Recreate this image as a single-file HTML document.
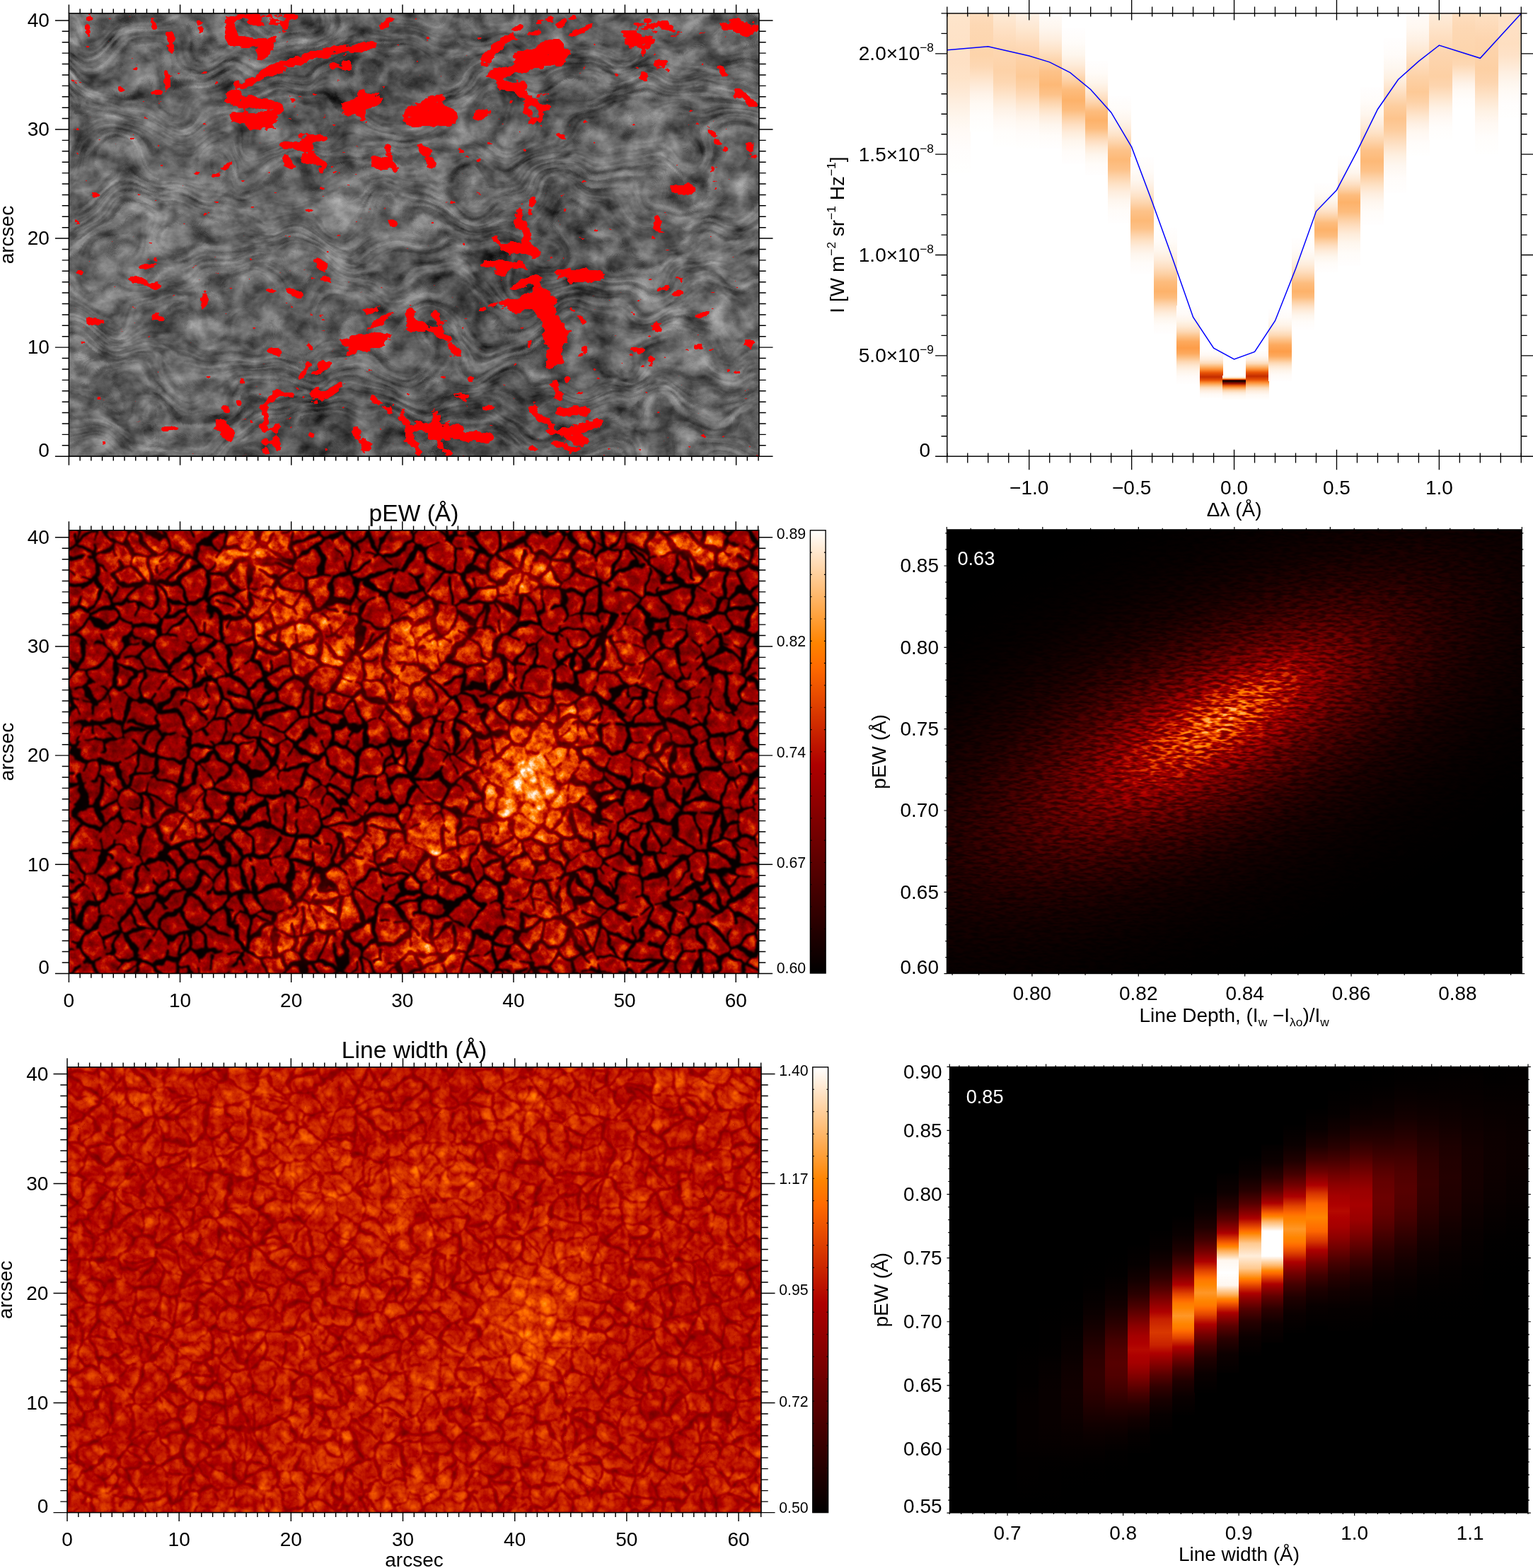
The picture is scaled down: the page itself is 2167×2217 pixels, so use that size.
<!DOCTYPE html>
<html lang="en"><head><meta charset="utf-8"><title>Figure</title>
<style>
html,body{margin:0;padding:0;background:#fff;}
body{width:2167px;height:2217px;overflow:hidden;}
svg{display:block;}
svg text{font-family:"Liberation Sans",Helvetica,Arial,sans-serif;}
</style></head><body>
<svg width="2167" height="2217" viewBox="0 0 2167 2217">
<defs>
<linearGradient id="redtemp" x1="0" y1="0" x2="0" y2="1"><stop offset="0.0000" stop-color="#ffffff"/><stop offset="0.2549" stop-color="#ff8400"/><stop offset="0.3098" stop-color="#ff6a00"/><stop offset="0.5294" stop-color="#ae0000"/><stop offset="1.0000" stop-color="#000000"/></linearGradient>
<clipPath id="c1"><rect x="97.4" y="18.9" width="975.6" height="626.3"/></clipPath><filter id="f1" filterUnits="userSpaceOnUse" x="-22.6" y="-101.1" width="1215.6" height="866.3" color-interpolation-filters="sRGB"><feTurbulence type="fractalNoise" baseFrequency="0.018 0.07" numOctaves="3" seed="9" result="st"/><feTurbulence type="fractalNoise" baseFrequency="0.009" numOctaves="2" seed="31" result="dn"/><feDisplacementMap in="st" in2="dn" scale="190" xChannelSelector="R" yChannelSelector="G" result="sw"/><feColorMatrix in="sw" type="matrix" values="1 0 0 0 0  1 0 0 0 0  1 0 0 0 0  0 0 0 0 1" result="g"/><feTurbulence type="fractalNoise" baseFrequency="0.03 0.04" numOctaves="4" seed="4" result="tn"/><feColorMatrix in="tn" type="matrix" values="1 0 0 0 0  1 0 0 0 0  1 0 0 0 0  0 0 0 0 1" result="g2"/><feComposite in="SourceGraphic" in2="g" operator="arithmetic" k1="0" k2="1" k3="0.4" k4="-0.2" result="a"/><feComposite in="a" in2="g2" operator="arithmetic" k1="0" k2="1" k3="0.5" k4="-0.25"/></filter><filter id="fr" filterUnits="userSpaceOnUse" x="97.4" y="18.9" width="975.6" height="626.3" color-interpolation-filters="sRGB"><feGaussianBlur in="SourceAlpha" stdDeviation="3.2" result="b"/><feTurbulence type="fractalNoise" baseFrequency="0.06 0.1" numOctaves="4" seed="12" result="n"/><feColorMatrix in="n" type="matrix" values="0 0 0 0 0  0 0 0 0 0  0 0 0 0 0  1 0 0 0 0" result="na"/><feComposite in="b" in2="na" operator="arithmetic" k1="0" k2="1" k3="1.5" k4="-0.75" result="c"/><feComponentTransfer in="c" result="t"><feFuncA type="linear" slope="24" intercept="-11.5"/></feComponentTransfer><feFlood flood-color="#ff0000" result="fl"/><feComposite in="fl" in2="t" operator="in"/></filter>
<radialGradient id="bw" cx="0" cy="0" r="1" gradientUnits="userSpaceOnUse"><stop offset="0" stop-color="#fff" stop-opacity="1"/><stop offset="0.12" stop-color="#fff" stop-opacity="0.94"/><stop offset="0.25" stop-color="#fff" stop-opacity="0.8"/><stop offset="0.38" stop-color="#fff" stop-opacity="0.61"/><stop offset="0.5" stop-color="#fff" stop-opacity="0.41"/><stop offset="0.62" stop-color="#fff" stop-opacity="0.25"/><stop offset="0.75" stop-color="#fff" stop-opacity="0.12"/><stop offset="0.88" stop-color="#fff" stop-opacity="0.05"/><stop offset="1" stop-color="#fff" stop-opacity="0"/></radialGradient><radialGradient id="bk" cx="0" cy="0" r="1" gradientUnits="userSpaceOnUse"><stop offset="0" stop-color="#000" stop-opacity="1"/><stop offset="0.12" stop-color="#000" stop-opacity="0.94"/><stop offset="0.25" stop-color="#000" stop-opacity="0.8"/><stop offset="0.38" stop-color="#000" stop-opacity="0.61"/><stop offset="0.5" stop-color="#000" stop-opacity="0.41"/><stop offset="0.62" stop-color="#000" stop-opacity="0.25"/><stop offset="0.75" stop-color="#000" stop-opacity="0.12"/><stop offset="0.88" stop-color="#000" stop-opacity="0.05"/><stop offset="1" stop-color="#000" stop-opacity="0"/></radialGradient><path id="l0" d="M630 420l13 9M643 429l3 7M563 422l13-2M576 420l3 14M578 417l-2 3M563 422l-9-6M603 416l12-1M579 412l15-9M594 403l6 6M629 418l-14-3M-17 -8l5 0M63 164l6 0M288 213l1 0M293 198l-4 6M289 213l16 0M206 272l7-4M201 244l-3 0M224 402l-22-5M202 397l0-14M87 429l13-19M103 410l6 28M537 434l-11-18M254 368l-13-5M222 386l6-18M252 427l-12 9M323 377l14-9M317 393l-19-24M311 398l-23-15M323 389l-6 4M337 421l4-23M341 398l0-1M355 429l-5-26M340 396l1 1M526 416l1-9M579 412l-12-16M554 409l13-13M-3 64l14-18M14 61l0-17M103 36l6 1M109 37l2-19M111 18l-12-7M44 95l-8-11M55 72l7 25M98 10l-10 5M113 41l-4-4M113 41l-13 15M100 56l-9-2M91 54l-8-11M-5 -16l15-11M-7 -14l2-2M26 94l5 19M31 113l0 1M54 170l-11 22M51 136l-8 8M294 62l10-21M214 362l-1-12M189 358l-3-6M226 282l-2 5M242 281l5 5M226 306l-2-19M180 297l12 1M180 297l-12 4M190 305l2-7M168 301l-4 8M175 276l-9 8M166 284l2 17M191 319l-11-7M144 277l0 25M262 258l-6-5M262 258l22-14M284 244l0-2M244 273l-6-15M218 262l0-29M218 233l6 1M245 238l-11 6M214 266l4-4M274 205l-7 1M267 228l0-22M175 271l10-8M185 263l-14-18M165 260l0-11M144 277l-1-1M143 276l22-16M187 262l-2 1M167 242l6-6M198 244l-25-8M125 426l14 1M200 380l-36 1M201 381l-24 15M177 396l-7 0M170 396l-6-9M199 373l-35 6M125 426l-5-12M139 390l4 4M143 394l-3 11M140 405l-7 0M133 405l-9-7M164 387l-21 7M240 312l3 1M247 286l10 7M225 337l1 1M251 326l1-1M321 271l-12-11M309 260l-2-5M307 255l10-17M329 240l-2-3M324 273l-3-2M307 227l10 11M307 227l-23 15M287 248l2 1M453 207l-10 5M418 182l19 0M399 216l-11-18M467 123l5-8M476 143l-5-1M472 115l2-2M429 152l5 3M434 159l-15 13M422 134l3 2M441 178l-7-19M408 155l-5-9M631 416l20-12M258 348l0 15M264 361l18-15M285 345l-3 1M293 370l-29-9M306 337l18 6M293 324l-3-1M314 363l3-9M251 338l-19 5M264 325l2 12M258 348l-5-6M229 340l3 3M226 338l-13 12M281 391l-10 12M280 387l1 1M233 396l14 10M369 354l-9-3M360 351l-4 18M364 369l-5 1M379 371l-15-2M379 371l3 13M382 384l-12 4M373 336l-19 6M364 322l-15 10M373 336l2-18M366 317l-6-9M404 433l21-6M425 427l6 5M411 412l-11 10M414 400l-3 12M427 406l4 26M440 431l0-24M491 303l-3 3M492 333l-10-25M482 308l1-1M500 264l1 0M517 284l7 6M491 127l10-7M567 395l13-10M553 383l22-15M580 385l2-12M567 396l0-1M594 398l-7-9M587 389l-7-4M99 -19l7 1M76 45l-5 10M54 55l4 9M94 -7l-13-2M88 15l-17-5M92 -33l7 14M-12 -8l2 8M-19 17l8-15M-19 17l-9-3M110 281l4-16M114 265l16 3M115 285l0 5M115 290l-10 8M105 298l-14-16M105 261l-26-17M79 243l18-6M85 220l-5-20M80 200l-20 4M80 182l3 15M83 197l-3 3M59 203l1 1M137 255l0 5M143 276l-3-2M124 294l-9-4M61 109l8 26M-35 116l11 14M77 230l0-2M77 228l-26-4M43 192l-15 0M29 208l13 7M244 49l1 22M245 71l-2 0M243 71l-21-5M283 28l20 5M183 43l-24-12M159 31l2 16M165 51l-4-4M155 24l4 7M155 24l19-7M188 38l-3-18M202 36l0-14M351 230l-6-24M396 143l-7 2M416 122l6 12M403 146l-7-3M308 89l14 21M201 164l-8 0M195 187l21 3M192 165l1-1M165 323l-6 7M162 348l-3-15M159 333l0-3M135 325l2-17M124 294l6 12M148 325l10 5M136 307l1 1M135 325l-5 8M143 349l-15-7M129 340l-1 2M125 372l0-1M125 371l0-26M109 339l16 6M118 375l-19-20M225 307l-10 18M203 297l2 3M247 232l-10-10M237 222l-1-13M267 228l-10-1M267 206l-7-5M259 183l1 18M201 210l17 12M182 190l6 17M220 197l-19 13M227 201l-7-4M246 -23l-8 0M246 -23l11 7M265 -29l-7 13M257 -16l1 0M180 -4l2-2M190 19l7-18M197 1l-4-5M264 19l15 12M295 8l0-4M442 124l-8 8M451 129l0 20M461 150l-10-1M461 150l10-8M431 116l-2-10M442 124l-1-5M413 107l-18-12M429 106l-12-6M418 78l2 5M420 83l-2 3M386 81l2-17M386 81l9 8M608 -20l15-4M603 -43l0 23M626 -35l-3 11M530 13l-28 2M502 15l-1-2M536 90l-9 19M536 90l-22-2M515 107l-3-6M519 109l8 0M510 94l4-6M552 106l-1-1M551 105l-15-15M495 110l17-9M520 135l-1-26M512 34l12 14M524 48l13-12M328 339l-3-11M284 288l-1-1M316 287l8-9M259 293l5 31M257 293l2 0M268 288l-6 4M291 306l-3 11M291 306l-7-18M288 317l-25-23M441 217l-6 9M435 226l5 4M440 230l16 4M443 212l-2 5M423 227l12-1M390 274l-11-14M405 254l-19-4M455 265l10-13M455 265l-20 1M356 270l0-9M375 265l-19-4M389 287l1-13M402 233l19-9M351 230l15-14M525 63l-11 8M602 367l8 9M631 416l-7-24M613 400l7-9M620 391l4 1M593 367l-11 6M610 376l1 2M523 402l0-16M523 386l-22 5M276 434l-10-17M254 417l-2 10M194 422l2 8M170 399l10 21M196 420l-2 2M366 421l17-2M383 419l-1-10M370 388l-6 14M386 387l3 6M456 387l-5 14M456 387l-6-9M428 355l-3 2M430 374l-6-14M404 369l3-3M407 366l7-1M385 358l19 11M404 345l3 21M386 387l18-17M424 360l-10 5M430 383l-8 5M461 346l-14 6M384 342l18-16M360 307l0 1M382 292l8 20M360 307l-13-8M358 280l-14 7M347 299l-3-12M481 338l-1 19M441 285l15 9M456 294l-1-13M521 259l-10 8M537 272l4-4M573 284l-3 7M556 252l-6 11M582 273l-2 2M551 245l5 7M521 259l-6-10M505 251l10-2M462 194l-5 11M519 310l4 7M503 386l19-8M503 386l-4 3M540 404l7-20M522 378l-1-2M643 11l-4-16M639 -5l-3-1M81 82l10 3M118 89l-10-15M101 92l-1-7M101 92l10 9M116 101l-5 0M100 85l6-9M120 104l18-5M87 109l14-17M100 56l10 16M110 72l-2 2M163 75l-11 27M152 102l5 3M139 116l1-17M219 101l-17 3M202 104l-2-15M173 59l11-6M167 75l23 8M202 65l2 2M204 67l-11 14M190 83l3-2M183 43l1 10M179 108l-11 1M168 109l-1-1M208 67l14 30M200 89l-7-8M157 1l-2-7M180 -4l-11-1M-6 113l-7-12M4 77l5 3M-6 114l0-1M-6 114l5 1M30 68l-16-7M-3 71l-12 10M-20 94l5-13M118 17l10 3M113 41l5 1M150 29l4-5M64 12l-2 1M62 15l0-2M66 43l-12-7M62 15l-8 21M54 55l-8-9M46 46l2-7M78 303l13-21M119 313l-4 0M-13 430l-19-10M149 214l-11-3M153 239l-11-8M133 206l-28 1M105 207l0 10M97 237l10-18M77 137l16 16M112 122l15 3M-11 148l-16-8M-9 159l-14 4M-4 141l-6-20M13 136l14-4M31 177l-12-20M31 138l-11 19M39 235l-14-4M23 249l2 1M21 231l4 0M12 263l13-13M-35 301l19-9M-16 292l-13-20M-5 264l3-8M-24 240l-6 2M-9 159l4 3M9 145l3 12M13 171l-1-14M230 91l-3-11M230 91l7-13M222 66l-3 0M256 80l3 1M253 75l11-28M245 99l-3 0M230 95l12 4M256 109l-3-2M289 66l5-4M305 39l0 2M279 31l-6 17M289 66l11 7M312 16l-8 3M301 -7l16 6M299 -13l12-14M318 1l-6 15M295 4l6-11M331 -11l14-21M286 -22l4 4M273 -7l4 2M258 -16l8 2M230 95l-8 2M211 17l7 19M408 155l-19 14M389 145l-1 1M389 169l-1-23M343 172l-11 12M353 115l-1 0M368 132l-18-2M331 150l23-4M334 133l-1-19M329 233l-2 4M305 213l2 1M343 172l-12-20M331 152l-4 2M322 110l5-1M304 128l-1-1M334 73l-18-3M308 89l7-8M338 91l11 6M345 62l11 11M345 62l-11 11M356 76l-18 15M359 94l4-10M376 87l-13-3M349 97l10-3M366 114l0-3M386 81l-10 6M373 61l-17 12M390 106l-14-9M377 119l-7-1M150 131l-13 5M134 201l10-10M134 201l-17-8M155 208l-4-17M181 190l-18-6M181 190l-12 18M163 184l-3 3M168 213l1-5M151 191l9-4M233 161l9-3M230 169l5 4M235 173l16-6M242 158l5 3M260 182l-2-10M199 108l10 21M218 128l-9 1M208 130l1-1M192 165l-14-4M144 163l12 1M144 163l-11 7M163 169l-7-5M85 329l21 4M82 312l-3 6M79 318l2 8M109 339l-1-1M140 369l9-15M140 369l24 8M164 377l1-4M165 373l-3-20M125 371l15-2M108 380l-18-23M399 -27l-20 15M513 -32l6 20M530 -12l-3 2M550 0l-20-12M555 -7l-12-16M536 12l-9-22M546 11l4-11M536 12l-2 2M420 83l7 0M427 83l15-25M597 -12l13 17M622 28l-7-15M622 28l6-3M615 13l-13 15M565 84l-20-13M567 86l-2-2M574 90l3-9M574 90l-7-4M577 81l-11-11M577 81l11-20M585 60l-20 6M562 43l-14-9M539 65l4-9M398 286l2-1M382 244l16-15M435 266l-2 11M416 282l3 1M455 265l3 13M349 253l6-15M365 254l11-15M375 238l1 1M343 254l6-1M351 231l4 7M366 216l12 5M378 221l-3 17M395 220l-17 1M364 214l5-13M388 198l-1 0M387 198l-7 13M423 48l-15-8M427 30l-12-8M427 46l-4 2M415 22l-9 6M406 28l-3 8M450 89l24 5M605 316l-7 1M589 303l-2 6M603 286l6 15M603 286l-13 12M590 298l-17-14M595 334l-4-4M595 334l-2 12M581 331l1 16M614 337l-19-3M614 337l-9-21M609 351l-16-5M571 325l10 6M507 373l-15-5M480 357l1 3M477 363l4-3M463 425l-4-18M221 409l6 7M221 409l-5 3M216 412l0 13M216 425l5 16M224 402l-3 7M402 318l-3-3M402 318l21 2M314 302l17 14M337 311l-1 0M325 328l6-12M481 308l-9 1M457 296l-1 3M431 310l7-1M476 278l6 29M466 281l0 9M482 307l-16-17M458 278l8 3M483 307l-1 0M577 218l-6 11M588 273l11-31M574 213l9-21M520 135l1 1M560 113l-13 16M603 140l-14-9M583 150l2 4M583 150l6-19M477 143l6 12M500 264l-17-14M500 235l-17 15M471 253l4-2M483 250l-8 1M466 226l1 1M470 212l7 0M462 194l17-4M479 190l2 1M477 212l12-9M477 212l3 16M478 182l-10-14M490 170l-12-7M478 163l-9 4M469 167l-1 1M481 191l21-15M502 176l1-4M452 178l16-10M483 155l-5 8M525 290l12 7M523 317l6-2M550 286l-4 14M553 307l-7-7M545 369l4-9M551 356l12-3M536 362l2 6M530 347l21 9M617 44l3 2M620 46l13-3M633 43l9-5M110 72l7-3M135 -10l-10-2M123 -30l-1 13M161 -20l0-1M-14 58l-1 0M78 -15l-15-3M50 -26l12 4M62 -22l7-15M29 -16l21-10M31 54l-12-13M48 39l-1 0M47 39l-16-6M-11 30l-5-3M9 27l0-2M76 390l-4-5M76 362l2-1M8 281l0 3M8 284l-17 13M57 320l22-2M16 303l-8 6M34 315l-15 12M34 315l12 12M40 339l-21-9M-23 317l18-5M50 233l9 17M41 262l6-3M143 152l1 11M133 141l-5 1M127 125l-7 14M128 142l-8-3M111 174l3 19M95 171l6 27M95 171l1-1M105 207l-1-7M0 253l2-9M2 207l0-2M2 205l15-12M-25 185l14 1M353 -6l-1 1M318 1l17 11M335 12l1 6M328 53l0-21M328 53l15 2M327 30l1 2M345 62l-2-7M197 1l16 7M211 17l4-7M213 -23l-3-1M264 47l-12-8M264 19l-12 20M357 147l5 11M386 146l-18-7M310 181l-20-7M310 181l-6 10M283 189l-3-7M325 209l-15-28M293 198l1-5M282 190l1-1M289 163l-14-4M266 141l0 1M266 132l1 5M258 121l8 11M242 99l-2 7M240 106l1 16M201 164l4-2M179 137l-19-5M176 155l-17-10M158 133l-1 6M157 139l2 6M150 131l8 2M143 152l14-13M513 -32l-20 16M416 9l1-5M400 24l-5-9M400 24l-20 6M385 9l-5 12M379 33l12 11M379 33l1-3M384 6l1 3M446 54l5-9M451 45l-2-10M481 40l-1 6M480 46l-24-3M564 -9l2 20M564 -9l3-1M567 -10l13 3M566 11l14-18M555 -7l9-2M593 31l-15 14M593 20l-9-5M617 44l-16 11M639 -5l7-5M646 -10l14 4M357 181l14-18M357 181l10 8M451 88l4-25M639 364l2-20M630 366l3 2M639 340l2 4M484 392l-11-10M468 423l21 5M481 408l14 5M495 421l1-3M496 418l-1-5M510 434l-15-13M499 407l-4 6M653 221l-10 10M635 217l13-5M591 176l5 1M601 223l7-3M608 220l7-12M608 220l14 9M635 217l-14-14M615 208l6-5M579 148l-3-35M569 114l4-2M573 112l2 1M576 113l-1 0M583 150l-4-2M590 123l-14-10M576 93l13-4M600 101l-25 12M589 89l8 6M584 157l1-3M602 151l5 2M606 164l9 16M547 129l-1 13M503 144l21 17M528 142l-4 19M565 143l-14 4M546 142l5 5M573 164l-17-7M573 164l11-7M556 157l-5-7M558 330l-19 6M522 322l13 8M563 353l-5-23M530 347l9-11M642 38l14 18M612 273l15-15M627 258l-5-12M605 277l19 17M637 279l0 10M637 289l-13 5M639 340l9-4M645 312l5-5M617 76l-21-11M589 89l6-15M638 73l-12-11M626 62l-9 14M594 62l2 3M627 58l-1 4M623 177l-3 4M620 181l-5-1M141 60l-2 2M148 73l-1 0M146 46l-5 14M150 29l-4 17M163 75l-5-1M139 99l9-26M161 -21l9-7M149 -23l-3-6M22 10l4-17M18 13l4-3M62 13l-13 1M65 438l2-14M81 425l2-16M62 417l0-1M62 416l-3-10M76 390l-17 15M55 385l-4 10M57 403l-29 17M28 420l-1-11M-11 430l-4-16M-35 391l25 0M75 248l-8 3M91 278l-1 0M56 314l-4-9M73 300l-7 5M45 293l-4-1M41 292l1-4M73 300l-11-10M47 259l12 13M41 262l1 26M110 124l-17-8M93 116l-2-1M104 147l0-1M111 101l-18 15M-19 230l8 0M-20 211l1 2M-34 219l12 2M-6 174l19-2M13 172l-6 10M-5 162l-1 12M13 171l0 1M-11 186l4-3M356 19l9 19M336 18l6 3M359 16l-3 3M379 33l-14 5M215 10l3 0M238 -23l-5 16M252 39l-9-33M301 157l-6-2M303 132l-10 15M314 171l-13-14M266 142l27 5M227 133l7-1M264 142l-13-1M493 -16l-16-13M449 35l15-16M474 84l17-9M489 59l-2-1M455 63l15 6M451 88l19-13M474 94l0-10M503 46l-14 13M481 407l2-13M469 402l1-6M481 408l0-1M635 204l-13-3M648 212l-13-8M515 170l10-4M551 150l-17 21M500 207l4 10M558 226l-15 7M530 244l10-13M505 227l34 3M582 189l-16-3M566 186l-6 20M561 208l-1-2M641 240l18 4M641 240l-1 0M640 240l0 20M627 258l13 2M643 273l1-7M643 273l19 8M637 279l6-6M642 300l-17 16M642 299l-26 8M616 308l0-1M613 308l3 0M642 138l-6-5M642 138l10 1M-15 58l-22-14M33 426l-5-4M28 420l0 2M5 398l1 1M40 339l1 3M232 36l5 1M476 -1l-8 3M470 -18l-16 16M419 3l3-28M426 3l17-13M422 -25l16 5M438 -20l5 10M539 230l0-8M521 212l18 10M544 208l16-2M538 179l-19 12M543 181l1 27M543 181l-4-2M542 210l-13-8M534 171l4 8M521 212l6-10M556 161l8 18M564 179l-1 4M-20 371l13 7M-6 389l0-3M28 352l-9 12M17 363l2 1M17 363l-6-8M-32 348l10-10M-30 351l23 2M-4 332l3 3M-23 317l1 21M11 355l-16-3M69 362l-7-6M62 356l-18 2M25 382l1-3M19 364l7 9M44 358l-2 11"/><path id="l1" d="M630 420l-12 17M643 429l16-15M563 422l-2 13M578 417l22 7M601 434l-1-10M600 409l13-9M578 417l1-5M-24 -34l14 22M-12 -8l2-4M70 164l-1 0M81 179l-1 3M80 182l-17 1M55 170l8 13M274 205l14 8M288 213l1-9M282 190l7 14M293 198l12 15M206 272l-19-10M214 266l-13-22M222 386l-20-3M222 386l6 10M228 396l-4 6M87 429l5 15M526 416l-9 4M517 420l-7 14M228 396l5 0M266 453l-14-26M323 389l0-12M346 387l3-16M337 368l8 0M349 371l-4-3M341 397l-18 19M325 426l-2-10M355 429l-18-8M350 403l-9-5M310 402l1-4M360 437l22-6M527 407l13-3M554 409l-14-5M11 46l3-2M103 36l-4-25M36 84l1-10M103 36l-14-1M98 10l1 1M89 35l-6 8M-10 -12l3-2M6 113l10-22M63 183l-4 20M315 67l-21-5M315 67l3-12M199 373l-10-13M210 349l3 1M210 349l-21 9M197 337l-10 4M197 337l13 12M226 282l16-1M247 286l-20 20M227 306l-1 0M206 272l-8 11M213 268l13 14M198 283l1 11M224 287l-21 10M180 312l10-7M164 309l2 4M181 280l17 3M199 294l-7 4M175 276l6 4M191 319l-11 12M180 331l-15-8M165 323l1-10M195 318l-5-13M195 318l-4 1M144 302l20 7M255 249l12-20M238 258l18-5M262 263l0-5M234 244l-10-10M234 244l-2 11M245 238l10 11M175 271l-10-11M165 249l2-7M175 276l0-5M190 252l-19-7M164 426l-5 15M164 381l0 6M228 368l-14-6M202 383l-1-2M139 390l-15 8M170 399l-12 16M145 415l-5-10M114 393l10 5M265 268l15-1M280 267l7-19M226 338l3 2M321 271l8-31M343 254l-15 15M438 188l-8 16M409 188l6 18M409 188l9-6M437 182l1 6M404 186l5 2M414 211l-15 5M485 123l-11-10M434 155l0 4M422 134l-7 5M425 136l4 16M418 182l1-10M410 157l-2-2M410 157l3 0M403 146l12-7M404 186l-4-5M297 348l20 6M324 343l-2 4M337 368l-15-21M328 339l-4 4M344 340l1 28M253 342l-2-4M253 342l-19 4M234 346l-2-3M252 325l12 0M241 363l-7-17M259 394l12 9M254 367l26 20M253 370l4 24M288 383l-7 5M257 394l-9 12M248 406l-1 0M385 358l-1-3M385 358l-6 13M384 355l-15-1M367 387l-8-17M373 336l-9-14M354 342l-7-3M349 332l0-12M385 421l15 1M385 421l-3 10M400 422l4 11M517 300l2 10M501 319l5 14M500 264l-8 12M491 303l5-18M495 110l6 10M495 110l-16-5M-17 -8l-11 4M99 5l-5-12M107 1l-1-19M71 55l-13 9M71 55l11 15M82 70l-3 5M79 75l-22-5M54 55l12-12M85 68l-3 2M79 43l4 0M71 10l10-19M91 -32l-13 17M81 -9l-3-6M91 282l0-4M78 227l-18-23M165 241l-12-2M153 239l-16 16M165 249l-28 11M137 255l-9-21M128 234l-4-2M67 136l2-1M31 114l12 3M62 97l4 4M62 152l1 12M69 164l8-27M55 72l2-2M81 82l-2-7M-6 115l-27-5M-10 121l-14 9M77 230l-27 3M50 233l-1-1M49 232l2-8M-33 196l8-11M244 49l-22 17M295 8l9 11M183 43l-18 8M199 38l3-2M185 20l5-1M351 230l0 1M400 125l-22-6M400 125l-4 18M391 105l-1 1M390 106l-13 13M377 119l1 0M410 117l6 5M304 90l4-1M165 241l-7-18M173 236l4-7M158 223l10-10M216 185l-15-21M180 331l5 7M148 325l-13 0M158 330l1 0M130 306l-11 7M159 333l-16 16M114 393l-1-13M113 380l5-5M109 339l-10 16M225 307l-20-7M215 325l-9-1M225 337l-10-12M195 318l7 2M247 232l10-5M236 209l12-1M224 234l13-12M260 201l-12 7M229 204l-2-3M229 204l7 5M227 201l14-16M259 183l-18 2M196 214l5-4M194 222l11 13M205 235l11-3M170 214l18-7M177 229l17-7M201 244l4-9M218 233l-2-1M246 -23l3-19M180 -4l-6 21M193 -4l-11-2M264 19l0-5M279 31l4-3M271 12l7-14M442 124l9 5M434 132l14 17M425 136l9-4M434 155l14-6M467 123l-16 6M441 119l-10-3M441 119l7-14M429 106l17-8M416 122l15-6M410 117l3-10M391 105l4-10M391 62l-3 2M530 13l-20-16M501 1l9-4M509 33l-7-18M534 14l-5 12M509 33l-21 3M495 16l-7 20M495 16l6-3M495 16l-16 2M504 120l-3 0M504 120l11-13M514 136l-10-16M551 105l4-14M529 26l8 10M293 324l18-6M325 328l-14-10M285 279l5-6M285 279l-2 8M296 272l-6 1M324 278l0-5M265 268l3 20M259 293l3-1M262 292l1 2M263 294l12 27M275 321l-11 3M264 325l0-1M287 320l-12 1M414 211l7 13M421 224l2 3M438 248l2-18M435 251l-13-17M422 234l1-7M438 248l22-2M435 251l-4 8M460 246l5 6M371 284l-13-4M382 292l7-5M375 265l3-4M345 206l3-1M348 205l16 9M364 214l2 2M479 105l0-2M526 63l-2-15M526 63l-1 0M514 88l0-17M543 71l0 5M602 367l7-16M612 349l-3 2M612 349l12 19M624 368l-14 8M637 386l-13 6M620 391l-6-5M614 386l-3-8M523 402l-19 1M276 434l14-21M290 413l-23 3M254 417l12 0M252 414l-4-8M319 435l-11-31M289 437l1-24M310 435l-11-23M291 412l-1 1M308 404l-9 8M281 391l10 21M194 422l-14-2M174 425l6-5M198 409l0 3M198 412l-2 8M164 426l10-1M364 402l18 7M355 429l11-8M389 393l-7 16M355 434l0-5M413 398l-24-5M450 378l-18 3M447 360l-17 14M446 402l-16-19M430 383l2-2M428 355l17-1M404 369l0 1M404 370l11 24M413 398l2-4M404 345l4-2M440 407l6-5M460 332l1 14M447 352l-4-16M448 331l-5 5M428 355l1-19M408 343l16-12M429 336l-5-5M373 336l8 3M381 339l3 3M408 343l-6-17M378 291l-18 16M349 320l-12-9M356 270l-28-1M481 338l11-5M481 338l-5-7M482 308l-1 0M480 357l-19-11M476 331l-16 1M524 290l1 0M537 272l-12 18M573 284l7-9M577 247l-6-18M570 228l1 1M476 143l1 0M491 127l2 10M493 137l10 7M453 207l4-2M470 212l-13-7M452 178l-2-1M506 333l4 4M510 337l12-15M523 382l-1-4M503 386l4-13M68 100l17 7M106 76l2-2M120 104l-4-3M128 86l10 13M91 85l9 0M85 68l21 8M163 75l4 1M167 76l0 32M167 108l-10-3M145 122l12-17M220 100l-1 1M173 59l-6 16M208 67l-4 0M169 -5l-8-15M161 -20l-6 14M151 20l0-5M-13 101l17-24M9 82l0-2M-3 71l7 6M37 74l-7-6M-6 114l0 1M-5 65l-9-7M-14 58l3-15M133 18l-5 2M111 18l7-1M118 42l10-22M124 48l-6-6M124 48l26-19M71 10l-7 2M-7 -14l21 7M-10 0l11 2M89 311l18 16M107 327l8-14M-20 436l7-6M-13 430l2 0M-11 430l3 2M142 231l-4-20M128 234l14-3M155 208l-6 6M107 219l-2-2M138 211l-5-2M70 164l23-11M132 120l-1 4M132 120l-13-8M119 112l-7 10M131 124l-4 1M139 116l-7 4M140 99l-1 0M139 99l-1 0M-23 163l-3-3M-4 141l-7 7M-1 115l14 21M9 145l4-9M43 144l-12-6M27 132l4 6M42 159l-22-2M28 182l3-5M49 232l-10 3M-3 271l-12 21M-16 266l-14-24M19 157l-7 0M237 78l-10 2M259 81l21-14M280 67l-6-18M274 49l-1-1M230 95l0-4M245 99l8 8M278 99l-19-18M278 99l0 2M278 101l-1 2M281 67l-1 0M280 97l21-9M301 88l-4-4M297 106l-19-5M300 73l-3 11M312 16l19 5M327 -12l-10-14M290 -18l-13 13M266 -14l7 7M278 -2l-1-3M261 11l12-18M264 14l-3-3M208 67l1-1M207 37l2 29M219 66l-4-2M215 64l-6 2M343 172l6 1M354 179l-5-6M370 118l-2 14M352 115l-2 15M354 146l-4-16M352 115l-19-1M329 233l-5-23M324 210l1-1M332 184l-20-5M312 179l2-8M307 119l-4 8M334 92l1 0M315 81l0-10M327 109l7-17M300 73l15-2M315 67l1 3M359 94l7 17M356 76l7 8M144 191l-10-16M134 201l-1 5M144 191l7 0M233 161l-3 8M216 185l9-14M258 172l-7-5M179 108l13 24M195 132l13-2M163 184l0-15M178 161l-15 8M88 343l-3-14M88 343l20-5M143 349l6 5M164 379l0-2M189 360l-24 13M113 380l-5 0M99 355l-9 2M72 338l7 22M88 343l-8 16M79 360l1-1M80 359l10-2M352 -28l18 4M353 -6l23 2M379 -12l-3 8M530 -12l13-11M527 -10l-8-2M550 0l5-7M442 58l3 33M488 36l-7 4M473 24l8 16M603 -20l-5 6M598 -14l-1 2M625 0l-12 5M610 5l3 0M616 37l-14-9M616 37l6-9M565 84l1-14M585 60l3 1M543 56l-3-18M564 66l-4-19M546 11l6 5M416 282l-8-27M408 255l-1-1M422 234l-15 20M431 259l-23-4M402 233l4 21M386 250l-4-6M455 281l3-3M355 258l10-4M356 261l-1-3M378 221l2-10M408 40l-3 17M418 55l-13 2M427 30l0 16M403 36l5 4M444 54l-17-8M403 36l-12 8M450 89l-5 3M498 93l-7-15M637 386l0-6M655 365l-18 15M605 316l8-8M609 301l4 7M590 298l-1 5M583 310l4-1M591 330l-10 1M586 348l-4-1M598 317l-7 13M618 341l-4-4M618 341l-6 8M593 367l-7-19M575 368l-10-13M499 407l-13-16M494 385l-2-17M510 337l3 7M513 344l-26 17M454 369l23-6M227 416l3 5M230 421l-3 17M198 412l18 0M196 420l20 5M252 414l-22 7M423 320l8-10M424 331l-1-11M398 286l12 15M419 283l2 15M332 306l4 5M314 302l0-4M331 316l5-5M314 298l1-2M311 318l3-16M462 316l10-7M462 316l-21-5M472 309l-16-10M476 278l-10 3M492 276l-14-1M457 296l9-6M582 273l6 0M595 219l-18-1M595 219l6 4M609 273l-3-24M574 213l3 5M521 136l14-14M606 128l-6-6M600 122l-10 1M590 123l-1 8M618 129l-12-1M619 103l-19-1M600 102l0 20M483 155l15 0M467 227l9 16M478 182l12-12M501 169l2 3M501 169l-11 1M498 155l3 14M529 315l8-18M545 369l5 13M549 360l2-4M552 382l13-27M553 383l-1-1M520 349l8-2M520 349l2 26M522 375l16-7M521 376l1-1M492 368l-5-7M530 347l-2 0M549 360l-13 2M617 44l-1-7M642 31l0 7M642 31l12-2M128 57l-11 12M143 -14l-8 4M122 -7l3-5M106 -18l16 1M143 -14l6-9M161 -21l-12-2M-15 58l-16 13M64 12l-2-6M63 -18l-3 6M-11 2l20 23M18 13l-9 12M-11 43l0-13M9 27l8 13M72 385l4-23M101 381l-14 11M88 401l-2-8M-3 271l11 10M8 284l8 19M8 309l-12 1M8 309l11 18M40 339l6-12M19 327l0 3M-23 317l-6-3M12 263l8 5M33 299l6-6M18 278l21 15M34 258l7 4M143 152l-10-11M126 166l2-24M111 174l-15-4M93 153l3 17M93 153l11-6M81 179l14-8M83 197l18 1M21 231l-9 0M29 208l-7 6M2 207l3 1M-20 211l12-19M-8 192l-3-6M359 16l18-18M352 -5l7 21M331 21l5-3M328 32l20 15M318 55l10-2M209 -24l-16 20M209 -24l1 0M213 8l-3-32M213 8l2 2M228 -28l-15 5M209 -24l-3-4M369 161l17-15M368 132l0 7M331 150l0 2M305 213l-1-22M260 182l15-1M275 159l-6-5M266 141l-2 1M277 110l14 16M291 126l-24 11M303 127l-12-1M253 107l-12 15M205 162l4-13M195 132l-2 32M179 137l-3 18M160 132l-2 1M192 132l-13 5M168 109l-8 23M497 -4l-4-12M377 -2l7 8M384 6l4-2M427 30l13-8M419 3l-2 1M419 3l7 0M441 18l-15-15M395 15l-10-6M380 21l0 9M440 22l9 13M444 54l2 0M456 43l15-19M566 -36l1 26M598 -14l-13-14M582 -6l-2-1M582 -6l-2-15M584 15l-15 7M569 22l0 18M594 62l-6-1M602 28l-6-3M610 5l-17 15M582 -6l2 21M564 19l5 3M562 43l7-3M646 -10l1-11M367 189l1 0M379 173l-8-10M354 179l3 2M348 205l19-16M480 46l1 2M481 48l-28 12M450 89l1-1M453 60l2 3M630 366l-5-26M629 338l10 2M655 365l-16-1M637 380l-4-12M662 364l-21-20M624 368l6-2M618 341l7-1M486 391l-2 1M468 423l13-15M643 231l-9-9M582 189l9-13M582 189l1 3M601 195l14 13M565 143l4-29M576 93l-2-3M576 93l-3 19M560 113l9 1M600 101l-3-6M600 101l0 1M584 157l7 19M521 136l7 6M528 142l18 0M528 258l2-14M515 249l2-6M517 243l-12-16M536 317l-1 13M560 327l-2 3M539 336l-4-6M553 307l0 4M571 325l-11 2M620 46l7 12M606 249l16-3M622 229l5 11M627 240l-5 6M650 307l-7-7M603 88l-8-14M631 87l7-14M607 153l8 0M639 170l3-2M639 170l-16 7M642 168l-7-12M139 62l8 11M159 50l-1 24M158 74l-10-1M128 57l11 5M128 81l19-8M170 -28l11 15M174 -40l15 18M181 -13l8-9M26 -7l3-6M35 18l3 0M29 -13l5 2M14 -7l12 0M47 39l-9-21M87 429l-6-4M81 425l-14-1M89 403l-6 6M67 424l-5-7M39 429l23-12M88 401l-29 5M72 385l-17 0M57 403l2 2M59 405l0 1M43 395l-16 14M-34 405l19 9M-15 414l1-14M-10 391l-4 9M105 261l-14 15M79 244l-4 4M91 276l-1 2M78 303l-5-3M62 290l8-12M59 272l-17 16M52 305l-7-12M90 278l-20 0M67 251l1 23M55 323l-9 4M104 146l-15-25M89 121l2-6M77 137l12-16M112 122l-2 2M87 109l4 6M-4 225l-7 5M-19 213l-3 8M2 207l-4 3M2 244l-13-14M-24 240l5-10M-6 174l-1 9M342 21l7 25M373 61l-11-19M213 -23l11 16M218 10l6-17M251 3l-7 3M233 -7l11 13M244 6l-1 0M301 157l8-5M295 155l-2-8M227 140l0-7M227 140l16 13M234 132l17 9M219 128l8 5M441 18l10-6M451 12l13 7M471 24l-7-5M470 69l17-11M470 69l0 6M474 84l-4-9M493 65l-4-6M493 65l-2 10M481 407l-12-5M468 386l2 10M644 190l-20 4M654 194l-19 10M624 194l-2 7M620 181l4 13M621 203l1-2M503 172l12-2M489 203l11 4M504 226l0-9M570 228l-12-2M558 226l3-18M539 230l1 1M658 257l-14 9M644 266l-4-6M625 316l-9-8M629 321l-4-5M637 289l5 10M624 294l-8 13M631 87l18 6M636 131l13-23M636 131l0 2M-16 27l-15 8M28 422l-19 7M6 399l19 8M6 399l3 30M27 409l-2-2M-11 430l16-32M-35 384l15-13M-20 371l-9-16M41 342l15 3M41 342l-1 3M28 352l-13-18M225 12l18-6M225 12l7 24M243 6l-6 31M225 39l7-3M451 12l1-13M452 -1l2-1M544 208l-2 2M539 179l-10 23M539 179l-1 0M529 202l-2 0M527 202l-11-8M519 191l-3 3M508 196l8-2M544 181l19 2M556 157l0 4M573 164l-9 15M566 186l-3-3M-10 391l4-2M-6 389l10 7M-7 378l1 8M4 396l21-14M15 334l-4 3M-22 338l18-6M-1 335l-4 17M-7 353l2-1M-5 312l1 20M11 337l-12-2M69 362l-15 12M56 345l6 11M463 -24l9-2M438 -20l6-9M470 -18l2-8M26 376l0 3M26 376l0-3M40 391l-14-12M46 370l-4-1M-6 386l32-10"/><path id="l2" d="M554 416l-17 18M600 409l3 7M613 400l2 15M600 424l3-8M629 418l1 2M-24 -34l-15 11M-17 -8l-22-15M70 164l11 15M63 164l-8 6M274 205l8-15M213 268l1-2M198 244l-8 8M187 262l3-10M100 410l3 0M254 368l-1 2M228 368l13-5M253 370l-20 26M323 389l17 7M346 387l-6 9M317 393l-6 5M288 383l5-13M298 369l-5 1M314 363l9 14M314 363l-16 6M337 421l-12 5M310 402l13 14M382 431l2 17M554 416l0-7M-3 64l17-3M44 95l18 2M37 74l18-2M88 15l1 20M-5 -16l-2-20M6 113l25 1M16 91l10 3M44 95l-13 18M36 84l-10 10M55 170l-1 0M59 203l-16-11M62 152l5-16M62 152l-18-3M51 136l16 0M44 149l-1-5M318 55l-13-14M305 41l-1 0M214 362l-15 11M189 358l0 2M186 352l1-11M199 294l4 3M180 312l-14 1M181 280l-1 17M144 277l22 7M255 249l1 4M284 242l-5-8M267 229l12 5M244 273l18-10M232 255l-14 7M238 258l-6-3M242 281l2-8M289 213l-10 21M267 229l0-1M167 242l4 3M139 427l6 12M139 427l6-12M145 415l13 0M158 415l6 11M125 426l-10 13M200 380l1 1M199 373l1 7M164 379l0 2M202 397l-4 12M198 409l-21-13M103 410l6-2M120 414l-11-6M170 399l0-3M120 414l13-9M109 408l5-15M262 263l3 5M284 244l3 4M240 312l-13-6M257 293l-14 20M240 312l-15 25M251 326l-22 14M243 313l9 12M317 238l10-1M343 254l-14-14M328 269l-4 4M289 249l18 6M453 207l-15-19M443 212l-13-8M415 206l15-2M404 186l-16 12M415 206l-1 5M485 123l-9 20M467 123l4 19M429 152l-9 3M420 155l-7 2M419 172l-6-15M415 139l5 16M437 182l4-4M400 181l10-24M629 418l2-2M258 348l8-11M258 363l6-2M266 337l16 9M285 345l4 3M289 348l4 22M306 337l-9 11M317 354l5-7M293 324l13 13M290 323l-5 22M289 348l8 0M328 339l16 1M251 326l0 12M254 367l0 1M254 367l4-4M281 391l0-3M280 387l-21 7M257 394l2 0M369 354l-5 15M356 369l3 1M367 387l3 1M346 387l21 0M349 371l7-2M347 339l2-7M375 318l-9-1M366 317l-2 5M344 340l3-1M360 351l-6-9M360 308l-11 12M411 412l14 15M451 433l-11-2M440 431l-7 3M414 400l13 6M427 406l13 1M517 300l-26 3M519 310l-18 9M501 319l-13-13M506 333l-14 0M488 306l-5 1M496 285l-4-9M496 285l21-1M501 264l10 3M517 284l-6-17M517 300l7-10M485 123l6 4M479 105l-5 8M567 395l-14-12M582 373l-7-5M594 403l0-5M99 5l8-4M94 -7l5-12M58 64l-1 6M76 45l-10-2M76 45l3-2M85 68l6-14M99 5l-1 5M-10 0l-1 2M110 281l5 4M115 285l15-17M110 281l-19-3M105 261l3-12M79 244l0-1M108 249l-11-12M78 227l7-7M167 242l-2-1M140 274l-6-6M137 260l-3 8M105 261l9 4M108 249l8-6M116 243l14 25M140 274l-16 20M130 268l4 0M116 243l8-11M51 136l-8-19M43 117l18-8M61 109l5-8M69 135l8 2M81 82l-13 18M68 100l-2 1M-6 115l-4 6M77 228l1-1M60 204l-10 13M51 224l-1-7M29 208l-1-16M50 217l-8-2M-27 179l2 6M295 8l-11 7M284 15l-1 13M303 33l1-14M183 43l5-5M174 17l11 3M199 38l-11 0M190 19l12 3M351 231l-13 0M338 231l1-27M339 204l6 2M378 119l11 26M391 105l15 13M406 118l-6 7M410 117l-4 1M304 90l-7 16M322 110l-15 9M297 106l10 13M170 214l7 15M170 214l-2-1M190 185l2-20M190 185l5 2M216 185l0 5M185 338l-23 10M148 325l-11-17M144 302l-8 5M130 306l6 1M119 313l11 20M158 330l-29 10M130 333l-1 7M125 372l-7 3M125 372l14 18M205 300l-3 20M206 324l-4-4M226 306l-1 1M197 337l9-13M187 341l-2-3M257 227l-9-19M245 238l2-6M196 214l-2 8M218 222l-2 10M188 207l8 7M190 185l-8 5M195 187l6 23M220 197l-4-7M229 204l-11 18M238 -23l-10-5M284 15l-13-3M264 14l7-2M295 4l-17-6M448 149l3 0M450 177l-9 1M450 177l1-28M448 105l-2-7M472 115l-24-10M413 107l4-7M417 100l1-14M418 86l-23 3M395 89l0 6M418 78l-27-16M608 -20l20 17M628 -3l8-3M636 -6l-13-18M603 -20l5 0M501 13l0-12M509 33l3 1M534 14l-4-1M529 26l-17 8M476 -1l3 19M476 -1l21-3M497 -4l4 5M515 107l4 2M512 101l-2-7M552 106l-19 7M533 113l-6-4M520 135l-6 1M536 90l7-14M555 91l-12-15M306 286l-10-14M306 286l-22 2M316 287l-10-1M309 260l-13 12M280 267l5 12M289 249l1 24M268 288l15-1M287 320l1-3M287 320l3 3M441 217l17 13M456 234l2-4M453 207l5 23M438 248l-3 3M460 246l-4-12M390 274l15-20M379 260l7-10M431 259l4 7M371 284l4-19M358 280l-2-10M378 291l4 1M378 291l-7-7M379 260l-1 1M402 233l-4-4M399 216l-4 4M398 229l-3-9M510 94l-12-1M479 103l19-10M509 33l-6 13M503 46l22 17M543 71l-4-6M539 65l-13-2M646 389l-9-3M594 398l20-12M587 389l24-11M593 367l9 0M504 403l-3-12M266 417l1-1M254 417l-2-3M271 403l-4 13M310 402l-2 2M320 435l5-9M299 412l-8 0M180 439l-6-14M192 434l4-4M216 444l-20-14M362 403l4 18M362 403l2-1M350 403l12 0M386 387l-4-3M385 421l-2-2M414 400l-1-2M450 378l4-9M454 369l-7-9M430 374l2 7M446 402l5-1M445 354l2 6M425 357l-1 3M414 365l8 23M415 394l7-6M384 355l2-7M386 348l18-3M425 357l-17-14M460 332l-12-1M445 354l2-2M443 336l-14 0M386 348l-2-6M375 318l14-5M381 339l8-26M389 313l1-1M337 311l10-12M324 278l11 6M344 287l-9-3M481 308l-5 23M441 285l14-4M511 267l26 5M528 258l-7 1M528 258l13 10M573 284l-21-10M570 291l-20-5M552 274l-2 12M556 252l18-1M550 263l30 12M574 251l8 22M552 274l-5-7M547 267l3-4M551 245l19-17M577 247l-3 4M477 143l16-6M514 136l-11 8M501 264l4-13M458 230l8-4M466 226l4-14M452 178l10 16M523 317l-1 5M523 386l0-4M501 391l-2-2M523 402l4 5M523 382l24 2M507 373l14 3M636 24l7-13M636 24l-8 1M628 -3l-3 3M628 25l-3-25M91 85l-6 22M118 89l-2 12M128 86l-10 3M85 107l2 2M139 116l6 6M140 99l12 3M220 100l-20-11M184 53l18 12M165 51l8 8M179 108l4-4M167 76l0-1M183 104l7-21M199 38l3 27M222 97l-2 3M183 104l16 4M202 104l-3 4M169 -5l-12 6M151 20l3 4M154 24l1 0M151 15l6-14M-6 113l15-31M-1 115l7-2M16 91l-7-9M30 68l-21 12M-3 64l-2 1M-5 65l2 6M-13 101l-7-7M-20 94l-18-3M11 46l-22-3M122 -7l-4 4M122 -7l11 25M118 -3l0 20M107 1l11-4M151 20l-18-2M79 43l-17-28M30 68l1-14M31 54l15-8M54 36l-6 3M1 2l13-9M89 311l16-9M105 302l10 11M82 312l7-1M82 312l-4-9M105 298l0 4M142 231l8-11M150 220l-1-6M158 223l-8-3M155 208l13 5M121 226l12-17M121 226l-14-7M133 206l0 3M124 232l-3-6M77 230l2 13M85 220l20-3M120 104l-1 8M-11 148l2 11M-23 163l-4 16M-24 130l-5 8M-4 141l13 4M31 114l-4 18M31 177l14-12M45 165l-3-6M20 157l-1 0M54 170l-9-5M28 192l0-10M44 149l-2 10M34 258l-9-8M34 258l5-23M23 249l-2-18M42 215l-17 16M0 253l-2 3M0 253l23-4M12 263l-14-7M-5 264l-11 2M-5 264l2 7M-16 292l1 0M-29 272l13-6M-2 256l-22-16M-5 162l17-5M28 182l-15-11M243 71l-6 7M219 66l8 14M256 80l-3-5M264 47l9 1M245 71l8 4M245 99l11-19M256 109l21-6M289 66l-8 1M304 41l-30 8M305 39l-2-6M280 97l6-17M286 80l11 4M278 99l2-2M281 67l5 13M304 90l-3-2M305 39l22-9M327 30l4-9M301 -7l-2-6M317 -1l10-11M318 1l-1-2M331 -11l-4-1M286 -22l-20 8M282 -35l4 13M299 -13l-9-5M251 3l6-19M251 3l10 8M202 36l5 1M202 22l9-5M207 37l11-1M215 64l10-25M225 39l-7-3M400 181l-11-10M389 171l0-2M339 204l15-25M339 204l-2 0M337 204l-5-20M370 118l-4-4M353 115l13-1M331 150l-1-5M330 145l4-12M334 133l16-3M307 227l0-13M324 210l-17 4M338 231l-9 2M337 204l-12 5M327 154l-13 17M330 145l-26-17M327 109l6 5M334 92l-19-11M335 92l-1-19M316 70l-1 1M338 91l-3 1M349 97l4 18M356 73l0 3M376 87l0 10M376 97l-10 14M388 64l-15-3M145 122l5 9M131 124l6 12M117 193l17-18M169 208l-9-21M182 190l-1 0M251 167l-4-6M241 185l-6-12M225 171l5-2M260 182l-1 1M219 101l-1 27M192 132l3 0M133 170l1 5M108 338l-2-5M81 326l4 3M107 327l-1 6M125 345l3-3M149 354l13-1M186 352l-24 1M162 348l0 5M81 326l-9 12M370 -24l5-9M353 -6l-1-22M379 -12l-9-12M543 -27l0 4M536 12l10-1M510 -3l9-9M418 78l1-8M419 70l25-16M444 54l-2 4M427 83l18 8M446 98l-1-6M445 92l0-1M479 18l-6 6M613 5l2 8M545 71l19-5M566 70l-1-4M564 66l1 0M567 86l-12 5M543 71l2 0M543 56l17-9M562 43l-2 4M548 34l-8 4M537 36l3 2M552 16l-4 18M400 285l6-31M400 285l16-3M407 254l-1 0M389 287l9-1M405 254l1 0M419 283l14-6M441 285l-8-8M349 253l6 5M355 238l20 0M378 261l-13-7M382 244l-6-5M369 201l11 10M423 48l-5 7M419 70l-1-15M391 61l0-17M391 61l14-4M391 62l0-1M479 103l-2-5M474 94l3 4M477 98l14-20M609 301l-20 2M598 317l-11-8M583 310l-16-13M567 297l3-6M593 346l-7 2M583 310l-12 15M565 355l17-8M504 403l-5 4M499 389l-5-4M486 391l8-6M487 361l-6-1M458 432l5-7M451 401l8 6M247 406l-20 10M399 315l11-14M410 301l11-3M421 298l10 12M390 312l9 3M402 326l0-8M332 306l-17-10M335 284l-3 22M316 287l-1 9M291 306l23-8M456 299l-18 10M441 311l-3-2M460 332l2-16M448 331l-7-20M456 294l1 2M441 285l-3 24M478 275l-2 3M478 275l-7-22M471 253l-6-1M603 286l2-9M588 273l17 4M577 247l20-6M601 223l-4 18M609 273l-4 4M606 249l-7-7M597 241l2 1M595 219l-7-23M588 196l-5-4M533 113l2 9M552 106l8 7M535 122l12 7M606 128l-3 12M618 129l3-23M621 106l-1-1M620 105l-20 17M620 105l-1-2M603 140l-1 11M585 154l17-3M503 144l-5 11M505 251l-5-16M475 251l1-8M481 191l8 12M467 227l13 1M476 243l4-15M500 235l4-9M480 228l24-2M479 190l-1-8M461 150l8 17M567 297l-14 10M541 268l6-1M537 297l9 3M552 382l-2 0M565 355l-2-2M547 384l3-2M528 347l8 15M513 344l7 5M545 369l-7-1M636 24l6 7M643 11l16 8M128 86l0-5M128 81l-11-12M124 48l4 9M151 15l-16-25M155 -6l-12-8M125 -12l-3-5M-15 81l-17-9M62 6l-2-18M23 -28l6 12M63 -18l-1-4M1 2l17 11M31 33l-12 8M-19 17l3 10M-11 30l20-3M14 44l3-4M17 40l2 1M87 392l-9-31M87 392l-1 1M86 393l-10-3M101 381l-23-20M100 410l-11-7M101 381l7-1M89 403l-1-2M79 360l-1 1M-15 292l6 5M57 320l-2 3M72 338l-9-1M63 337l-8-14M-9 297l5 13M33 299l-17 4M33 299l1 16M-5 312l1-2M34 258l-14 10M8 281l10-3M18 278l2-10M59 250l-12 9M133 170l-7-4M133 141l4-5M114 193l-10 7M104 200l-3-2M125 166l-21-19M125 166l-14 8M117 193l-3 0M126 166l-1 0M21 231l1-17M12 231l-7-23M22 214l-17-6M2 244l9-12M11 232l1-1M28 192l-11 1M-20 211l-13-15M331 -11l11 10M342 -1l10-4M342 -1l-7 13M377 -2l-1-2M343 55l5-8M244 49l2-8M246 41l6-2M357 147l11-8M362 158l7 3M354 146l3 1M349 173l13-15M388 146l-2 0M304 191l-10 2M294 193l-11-4M290 174l-10 8M312 179l-2 2M275 181l5 1M275 181l0-22M290 174l-1-11M258 172l11-18M264 142l-17 19M269 154l-3-12M277 110l-11 22M277 103l0 7M256 109l2 12M218 128l1 0M219 128l21-22M258 121l-17 4M241 122l0 3M205 162l9 0M209 149l11 4M214 162l6-9M208 130l1 19M225 171l-11-9M233 161l-7-13M226 148l-6 5M178 161l-2-6M156 164l3-19M388 4l29 0M388 4l15-15M417 4l-14-15M403 -11l-3-16M440 22l1-4M415 22l1-13M406 28l-6-4M416 9l-21 6M359 16l21 5M473 24l-2 0M552 16l12 3M564 19l2-8M570 -36l10 15M585 -28l-5 7M597 -12l-15 6M593 31l3-6M596 25l-3-5M569 40l9 5M601 55l-8-24M601 55l-7 7M585 60l-7-15M645 -26l2 5M368 189l2-1M370 188l9-15M369 161l2 2M369 201l-1-12M387 198l-17-10M389 171l-10 2M446 54l7 6M451 45l5-2M639 364l-6 4M625 340l4-2M639 340l6-28M645 312l-16 9M629 321l0 17M477 363l-4 19M456 387l12-1M468 386l5-4M489 428l6-7M489 440l0-12M463 425l5-2M517 420l-21-2M634 222l1-5M588 196l13-1M596 177l10 4M606 181l-5 14M622 229l12-7M579 148l-14-5M596 177l10-13M607 153l-1 11M606 181l9-1M551 147l0 3M530 244l-13-1M504 226l1 1M553 311l-17 6M553 311l7 16M529 315l7 2M633 43l17 14M650 57l-23 1M609 273l3 0M612 273l25 6M643 300l19-19M603 88l18-2M617 76l4 10M596 65l-1 9M597 95l6-7M619 103l4-15M623 88l-2-2M623 88l8-1M618 129l6 6M624 135l-9 18M623 177l-6-22M635 156l-18-1M615 153l2 2M141 60l13-8M159 50l-5 2M146 46l8 6M161 47l-2 3M182 -6l-1-7M206 -28l-17 6M22 10l13 8M49 14l-11 4M49 14l-15-25M31 33l4-15M29 -16l0 3M60 -12l-26 1M62 6l-28-17M47 442l-8-13M83 409l-21 7M51 395l6 8M43 395l8 0M-34 405l20-5M75 248l16 28M59 250l8 1M56 314l10-9M52 305l14 0M57 320l-1-6M62 290l-17 3M59 272l9 2M70 278l-2-4M39 293l2-1M104 146l8-8M112 138l-2-14M120 139l-8-1M-2 210l-2 15M-2 210l-17 3M-22 221l3 9M11 232l-15-7M2 205l-10-13M-7 183l14-1M17 193l-10-11M356 19l-14 2M349 46l13-4M362 42l3-4M348 47l1-1M233 -7l-9 0M309 152l-6-20M327 154l-18-2M289 163l6-8M304 128l-1 4M266 141l1-4M243 153l8-12M226 148l1-8M242 158l1-5M241 125l-7 7M481 48l6 10M491 78l0-3M514 71l-21-6M483 394l-13 2M459 407l10-5M484 392l-1 2M644 190l10 4M639 170l5 20M650 167l-8 1M524 161l1 5M525 166l9 5M502 176l6 20M508 196l-8 11M574 213l-13-5M551 245l-8-12M543 233l-3-2M643 231l-2 9M627 240l13 0M642 300l0-1M643 300l-1 0M638 73l10-5M624 135l12-2M635 156l7-18M629 110l20-2M629 110l7 21M621 106l8 4M33 426l-6 23M5 432l4-3M39 429l-6-3M63 337l-7 8M19 330l-4 4M40 345l-12 7M218 10l7 2M246 41l-9-4M476 -1l-6-17M468 2l-14-4M464 19l4-17M452 -1l-9-9M504 217l17-5M539 222l3-12M515 170l4 21M556 161l-12 20M543 181l1 0M5 398l-1-2M25 407l0-25M11 337l0 18M-7 378l3-5M-4 373l-3-20M-4 373l21-10M76 362l-7 0M55 385l-1-11M40 345l4 13M463 -24l-19-5M443 -10l20-14M26 373l16-4M40 391l6-21M43 395l-3-4M54 374l-8-4"/><clipPath id="c3"><rect x="97.4" y="749.8" width="975.2" height="626.6"/></clipPath><filter id="f3" filterUnits="userSpaceOnUse" x="67.4" y="719.8" width="1035.2" height="686.6" color-interpolation-filters="sRGB"><feTurbulence type="fractalNoise" baseFrequency="0.025" numOctaves="3" seed="2" result="dn"/><feDisplacementMap in="SourceGraphic" in2="dn" scale="26" xChannelSelector="R" yChannelSelector="G" result="sd"/><feGaussianBlur in="sd" stdDeviation="0.9" result="sb"/><feTurbulence type="fractalNoise" baseFrequency="0.07" numOctaves="4" seed="21" result="fn"/><feColorMatrix in="fn" type="matrix" values="1 0 0 0 0  1 0 0 0 0  1 0 0 0 0  0 0 0 0 1" result="f"/><feComposite in="sb" in2="f" operator="arithmetic" k1="1" k2="0.5" k3="0" k4="0" result="m"/><feTurbulence type="turbulence" baseFrequency="0.04" numOctaves="2" seed="8" result="t2"/><feColorMatrix in="t2" type="matrix" values="1 0 0 0 0  1 0 0 0 0  1 0 0 0 0  0 0 0 0 1" result="g2"/><feComposite in="m" in2="g2" operator="arithmetic" k1="0.5" k2="0.87" k3="0" k4="0" result="m"/><feComponentTransfer in="m"><feFuncR type="table" tableValues="0 0.0284 0.0568 0.0852 0.114 0.142 0.17 0.199 0.227 0.256 0.284 0.312 0.341 0.369 0.398 0.426 0.455 0.483 0.511 0.54 0.568 0.597 0.625 0.653 0.682 0.71 0.739 0.767 0.795 0.824 0.852 0.881 0.909 0.938 0.966 0.994 1 1 1 1 1 1 1 1 1 1 1 1 1 1 1 1"/><feFuncG type="table" tableValues="0 0 0 0 0 0 0 0 0 0 0 0 0 0 0 0 0 0 0 0 0 0 0 0 0 0.037 0.0741 0.111 0.148 0.185 0.222 0.259 0.296 0.333 0.37 0.407 0.444 0.481 0.519 0.556 0.593 0.63 0.667 0.704 0.741 0.778 0.815 0.852 0.889 0.926 0.963 1"/><feFuncB type="table" tableValues="0 0 0 0 0 0 0 0 0 0 0 0 0 0 0 0 0 0 0 0 0 0 0 0 0 0 0 0 0 0 0 0 0 0 0 0 0 0 0 0.0769 0.154 0.231 0.308 0.385 0.462 0.538 0.615 0.692 0.769 0.846 0.923 1"/></feComponentTransfer></filter>
<clipPath id="c5"><rect x="95" y="1508.8" width="981" height="629.8"/></clipPath><filter id="f5" filterUnits="userSpaceOnUse" x="65" y="1478.8" width="1041" height="689.8" color-interpolation-filters="sRGB"><feTurbulence type="fractalNoise" baseFrequency="0.025" numOctaves="3" seed="2" result="dn"/><feDisplacementMap in="SourceGraphic" in2="dn" scale="26" xChannelSelector="R" yChannelSelector="G" result="sd"/><feGaussianBlur in="sd" stdDeviation="1" result="sb"/><feTurbulence type="fractalNoise" baseFrequency="0.06" numOctaves="4" seed="33" result="fn"/><feColorMatrix in="fn" type="matrix" values="1 0 0 0 0  1 0 0 0 0  1 0 0 0 0  0 0 0 0 1" result="f"/><feComposite in="sb" in2="f" operator="arithmetic" k1="0.4" k2="0.8" k3="0" k4="0" result="m"/><feTurbulence type="turbulence" baseFrequency="0.05" numOctaves="2" seed="3" result="t2"/><feColorMatrix in="t2" type="matrix" values="1 0 0 0 0  1 0 0 0 0  1 0 0 0 0  0 0 0 0 1" result="g2"/><feComposite in="m" in2="g2" operator="arithmetic" k1="0.4" k2="0.9" k3="0" k4="0" result="m"/><feComponentTransfer in="m"><feFuncR type="table" tableValues="0 0.0284 0.0568 0.0852 0.114 0.142 0.17 0.199 0.227 0.256 0.284 0.312 0.341 0.369 0.398 0.426 0.455 0.483 0.511 0.54 0.568 0.597 0.625 0.653 0.682 0.71 0.739 0.767 0.795 0.824 0.852 0.881 0.909 0.938 0.966 0.994 1 1 1 1 1 1 1 1 1 1 1 1 1 1 1 1"/><feFuncG type="table" tableValues="0 0 0 0 0 0 0 0 0 0 0 0 0 0 0 0 0 0 0 0 0 0 0 0 0 0.037 0.0741 0.111 0.148 0.185 0.222 0.259 0.296 0.333 0.37 0.407 0.444 0.481 0.519 0.556 0.593 0.63 0.667 0.704 0.741 0.778 0.815 0.852 0.889 0.926 0.963 1"/><feFuncB type="table" tableValues="0 0 0 0 0 0 0 0 0 0 0 0 0 0 0 0 0 0 0 0 0 0 0 0 0 0 0 0 0 0 0 0 0 0 0 0 0 0 0 0.0769 0.154 0.231 0.308 0.385 0.462 0.538 0.615 0.692 0.769 0.846 0.923 1"/></feComponentTransfer></filter>
<linearGradient id="s0" gradientUnits="userSpaceOnUse" x1="0" y1="-16" x2="0" y2="244"><stop offset="0.0000" stop-color="#fee9d5"/><stop offset="0.1750" stop-color="#fee4ca"/><stop offset="0.4000" stop-color="#fee0c4"/><stop offset="0.4900" stop-color="#fee4ca"/><stop offset="0.5600" stop-color="#fee9d5"/><stop offset="0.6300" stop-color="#fef0e2"/><stop offset="0.7000" stop-color="#fef6ed"/><stop offset="0.7800" stop-color="#fffaf6"/><stop offset="0.8800" stop-color="#fffdfc"/><stop offset="1.0000" stop-color="#fffffe"/></linearGradient>
<linearGradient id="s1" gradientUnits="userSpaceOnUse" x1="0" y1="2" x2="0" y2="186"><stop offset="0.0000" stop-color="#fee1c5"/><stop offset="0.1807" stop-color="#fdd8b4"/><stop offset="0.4130" stop-color="#fdd4ab"/><stop offset="0.5011" stop-color="#fdd8b4"/><stop offset="0.5696" stop-color="#fee1c5"/><stop offset="0.6380" stop-color="#feead7"/><stop offset="0.7065" stop-color="#fef2e7"/><stop offset="0.7848" stop-color="#fff9f3"/><stop offset="0.8826" stop-color="#fffdfb"/><stop offset="1.0000" stop-color="#fffffe"/></linearGradient>
<linearGradient id="s2" gradientUnits="userSpaceOnUse" x1="0" y1="-5" x2="0" y2="208"><stop offset="0.0000" stop-color="#fef2e6"/><stop offset="0.1150" stop-color="#feead6"/><stop offset="0.2300" stop-color="#fee0c3"/><stop offset="0.3451" stop-color="#fdd7b2"/><stop offset="0.4930" stop-color="#fdd2a8"/><stop offset="0.5690" stop-color="#fdd7b2"/><stop offset="0.6282" stop-color="#fee0c3"/><stop offset="0.6873" stop-color="#feead6"/><stop offset="0.7465" stop-color="#fef2e6"/><stop offset="0.8141" stop-color="#fff8f2"/><stop offset="0.8986" stop-color="#fffdfb"/><stop offset="1.0000" stop-color="#fffffe"/></linearGradient>
<linearGradient id="s3" gradientUnits="userSpaceOnUse" x1="0" y1="-2.2" x2="0" y2="210"><stop offset="0.0000" stop-color="#fff8f1"/><stop offset="0.1093" stop-color="#fef0e3"/><stop offset="0.2050" stop-color="#fee7d0"/><stop offset="0.3007" stop-color="#fedbba"/><stop offset="0.3963" stop-color="#fdd1a6"/><stop offset="0.5193" stop-color="#fdc996"/><stop offset="0.5914" stop-color="#fdd1a6"/><stop offset="0.6475" stop-color="#fedbba"/><stop offset="0.7036" stop-color="#fee7d0"/><stop offset="0.7597" stop-color="#fef0e3"/><stop offset="0.8238" stop-color="#fff8f1"/><stop offset="0.9039" stop-color="#fffcfa"/><stop offset="1.0000" stop-color="#fffffe"/></linearGradient>
<linearGradient id="s4" gradientUnits="userSpaceOnUse" x1="0" y1="-6" x2="0" y2="210"><stop offset="0.0000" stop-color="#fffefe"/><stop offset="0.1167" stop-color="#fffcf9"/><stop offset="0.2139" stop-color="#fef6ee"/><stop offset="0.2917" stop-color="#feeddd"/><stop offset="0.3597" stop-color="#fee2c6"/><stop offset="0.4278" stop-color="#fdd3aa"/><stop offset="0.4958" stop-color="#fdc289"/><stop offset="0.5833" stop-color="#fdb977"/><stop offset="0.6458" stop-color="#fdc289"/><stop offset="0.6944" stop-color="#fdd3aa"/><stop offset="0.7431" stop-color="#fee2c6"/><stop offset="0.7917" stop-color="#feeddd"/><stop offset="0.8472" stop-color="#fef6ee"/><stop offset="0.9167" stop-color="#fffcf9"/><stop offset="1.0000" stop-color="#fffefe"/></linearGradient>
<linearGradient id="s5" gradientUnits="userSpaceOnUse" x1="0" y1="40" x2="0" y2="232"><stop offset="0.0000" stop-color="#fffefe"/><stop offset="0.1063" stop-color="#fffcf9"/><stop offset="0.1948" stop-color="#fef6ed"/><stop offset="0.2656" stop-color="#feecda"/><stop offset="0.3276" stop-color="#fedfc2"/><stop offset="0.3896" stop-color="#fdcfa2"/><stop offset="0.4516" stop-color="#fdbc7d"/><stop offset="0.5312" stop-color="#fdb26a"/><stop offset="0.6016" stop-color="#fdbc7d"/><stop offset="0.6562" stop-color="#fdcfa2"/><stop offset="0.7109" stop-color="#fedfc2"/><stop offset="0.7656" stop-color="#feecda"/><stop offset="0.8281" stop-color="#fef6ed"/><stop offset="0.9062" stop-color="#fffcf9"/><stop offset="1.0000" stop-color="#fffefe"/></linearGradient>
<linearGradient id="s6" gradientUnits="userSpaceOnUse" x1="0" y1="86" x2="0" y2="248"><stop offset="0.0000" stop-color="#fffefe"/><stop offset="0.1037" stop-color="#fffcf9"/><stop offset="0.1901" stop-color="#fef6ed"/><stop offset="0.2593" stop-color="#feecda"/><stop offset="0.3198" stop-color="#fedfc2"/><stop offset="0.3802" stop-color="#fdcfa2"/><stop offset="0.4407" stop-color="#fdbc7d"/><stop offset="0.5185" stop-color="#fdb26a"/><stop offset="0.5907" stop-color="#fdbc7d"/><stop offset="0.6469" stop-color="#fdcfa2"/><stop offset="0.7031" stop-color="#fedfc2"/><stop offset="0.7593" stop-color="#feecda"/><stop offset="0.8235" stop-color="#fef6ed"/><stop offset="0.9037" stop-color="#fffcf9"/><stop offset="1.0000" stop-color="#fffefe"/></linearGradient>
<linearGradient id="s7" gradientUnits="userSpaceOnUse" x1="0" y1="136" x2="0" y2="316"><stop offset="0.0000" stop-color="#fffefe"/><stop offset="0.1000" stop-color="#fffcf9"/><stop offset="0.1833" stop-color="#fef6ee"/><stop offset="0.2500" stop-color="#feeddd"/><stop offset="0.3083" stop-color="#fee2c6"/><stop offset="0.3667" stop-color="#fdd3aa"/><stop offset="0.4250" stop-color="#fdc289"/><stop offset="0.5000" stop-color="#fdb977"/><stop offset="0.5750" stop-color="#fdc289"/><stop offset="0.6333" stop-color="#fdd3aa"/><stop offset="0.6917" stop-color="#fee2c6"/><stop offset="0.7500" stop-color="#feeddd"/><stop offset="0.8167" stop-color="#fef6ee"/><stop offset="0.9000" stop-color="#fffcf9"/><stop offset="1.0000" stop-color="#fffefe"/></linearGradient>
<linearGradient id="s8" gradientUnits="userSpaceOnUse" x1="0" y1="222" x2="0" y2="387"><stop offset="0.0000" stop-color="#fffefe"/><stop offset="0.1091" stop-color="#fffcf9"/><stop offset="0.2000" stop-color="#fef6ee"/><stop offset="0.2727" stop-color="#feeddd"/><stop offset="0.3364" stop-color="#fee2c6"/><stop offset="0.4000" stop-color="#fdd3aa"/><stop offset="0.4636" stop-color="#fdc289"/><stop offset="0.5455" stop-color="#fdb977"/><stop offset="0.6136" stop-color="#fdc289"/><stop offset="0.6667" stop-color="#fdd3aa"/><stop offset="0.7197" stop-color="#fee2c6"/><stop offset="0.7727" stop-color="#feeddd"/><stop offset="0.8333" stop-color="#fef6ee"/><stop offset="0.9091" stop-color="#fffcf9"/><stop offset="1.0000" stop-color="#fffefe"/></linearGradient>
<linearGradient id="s9" gradientUnits="userSpaceOnUse" x1="0" y1="322" x2="0" y2="472"><stop offset="0.0000" stop-color="#fffefe"/><stop offset="0.1200" stop-color="#fffcf9"/><stop offset="0.2200" stop-color="#fef6ed"/><stop offset="0.3000" stop-color="#feecda"/><stop offset="0.3700" stop-color="#fedfc2"/><stop offset="0.4400" stop-color="#fdcfa2"/><stop offset="0.5100" stop-color="#fdbc7d"/><stop offset="0.6000" stop-color="#fdb26a"/><stop offset="0.6600" stop-color="#fdbc7d"/><stop offset="0.7067" stop-color="#fdcfa2"/><stop offset="0.7533" stop-color="#fedfc2"/><stop offset="0.8000" stop-color="#feecda"/><stop offset="0.8533" stop-color="#fef6ed"/><stop offset="0.9200" stop-color="#fffcf9"/><stop offset="1.0000" stop-color="#fffefe"/></linearGradient>
<linearGradient id="s10" gradientUnits="userSpaceOnUse" x1="0" y1="432" x2="0" y2="543"><stop offset="0.0000" stop-color="#fffefe"/><stop offset="0.1081" stop-color="#fffbf8"/><stop offset="0.1982" stop-color="#fef4e9"/><stop offset="0.2703" stop-color="#fee8d2"/><stop offset="0.3333" stop-color="#fdd8b3"/><stop offset="0.3964" stop-color="#fdc085"/><stop offset="0.4595" stop-color="#fda95d"/><stop offset="0.5405" stop-color="#fd9d49"/><stop offset="0.6095" stop-color="#fda95d"/><stop offset="0.6631" stop-color="#fdc085"/><stop offset="0.7167" stop-color="#fdd8b3"/><stop offset="0.7703" stop-color="#fee8d2"/><stop offset="0.8315" stop-color="#fef4e9"/><stop offset="0.9081" stop-color="#fffbf8"/><stop offset="1.0000" stop-color="#fffefe"/></linearGradient>
<linearGradient id="s11" gradientUnits="userSpaceOnUse" x1="0" y1="494" x2="0" y2="563"><stop offset="0.0000" stop-color="#fffefd"/><stop offset="0.1130" stop-color="#fff9f4"/><stop offset="0.2072" stop-color="#feeddd"/><stop offset="0.2826" stop-color="#fddab7"/><stop offset="0.3486" stop-color="#fdb875"/><stop offset="0.4145" stop-color="#fc8d32"/><stop offset="0.4804" stop-color="#e75206"/><stop offset="0.5652" stop-color="#c32c00"/><stop offset="0.6304" stop-color="#e75206"/><stop offset="0.6812" stop-color="#fc8d32"/><stop offset="0.7319" stop-color="#fdb875"/><stop offset="0.7826" stop-color="#fddab7"/><stop offset="0.8406" stop-color="#feeddd"/><stop offset="0.9130" stop-color="#fff9f4"/><stop offset="1.0000" stop-color="#fffefd"/></linearGradient>
<linearGradient id="s12" gradientUnits="userSpaceOnUse" x1="0" y1="531" x2="0" y2="565.2"><stop offset="0.0000" stop-color="#fffefc"/><stop offset="0.0421" stop-color="#fff8f1"/><stop offset="0.0772" stop-color="#feead6"/><stop offset="0.1053" stop-color="#fdd1a6"/><stop offset="0.1298" stop-color="#fda556"/><stop offset="0.1544" stop-color="#f0630a"/><stop offset="0.1789" stop-color="#960f00"/><stop offset="0.2105" stop-color="#000000"/><stop offset="0.3289" stop-color="#960f00"/><stop offset="0.4211" stop-color="#f0630a"/><stop offset="0.5132" stop-color="#fda556"/><stop offset="0.6053" stop-color="#fdd1a6"/><stop offset="0.7105" stop-color="#feead6"/><stop offset="0.8421" stop-color="#fff8f1"/><stop offset="1.0000" stop-color="#fffefc"/></linearGradient>
<linearGradient id="s13" gradientUnits="userSpaceOnUse" x1="0" y1="496" x2="0" y2="565"><stop offset="0.0000" stop-color="#fffefd"/><stop offset="0.1043" stop-color="#fff9f4"/><stop offset="0.1913" stop-color="#feeddd"/><stop offset="0.2609" stop-color="#fddab7"/><stop offset="0.3217" stop-color="#fdb875"/><stop offset="0.3826" stop-color="#fc8d32"/><stop offset="0.4435" stop-color="#e75206"/><stop offset="0.5217" stop-color="#c32c00"/><stop offset="0.5935" stop-color="#e75206"/><stop offset="0.6493" stop-color="#fc8d32"/><stop offset="0.7051" stop-color="#fdb875"/><stop offset="0.7609" stop-color="#fddab7"/><stop offset="0.8246" stop-color="#feeddd"/><stop offset="0.9043" stop-color="#fff9f4"/><stop offset="1.0000" stop-color="#fffefd"/></linearGradient>
<linearGradient id="s14" gradientUnits="userSpaceOnUse" x1="0" y1="437" x2="0" y2="539"><stop offset="0.0000" stop-color="#fffefe"/><stop offset="0.1176" stop-color="#fffbf8"/><stop offset="0.2157" stop-color="#fef4e9"/><stop offset="0.2941" stop-color="#fee8d2"/><stop offset="0.3627" stop-color="#fdd8b3"/><stop offset="0.4314" stop-color="#fdc085"/><stop offset="0.5000" stop-color="#fda95d"/><stop offset="0.5882" stop-color="#fd9d49"/><stop offset="0.6500" stop-color="#fda95d"/><stop offset="0.6980" stop-color="#fdc085"/><stop offset="0.7461" stop-color="#fdd8b3"/><stop offset="0.7941" stop-color="#fee8d2"/><stop offset="0.8490" stop-color="#fef4e9"/><stop offset="0.9176" stop-color="#fffbf8"/><stop offset="1.0000" stop-color="#fffefe"/></linearGradient>
<linearGradient id="s15" gradientUnits="userSpaceOnUse" x1="0" y1="337" x2="0" y2="466"><stop offset="0.0000" stop-color="#fffefe"/><stop offset="0.1163" stop-color="#fffcf9"/><stop offset="0.2132" stop-color="#fef6ed"/><stop offset="0.2907" stop-color="#feecda"/><stop offset="0.3585" stop-color="#fedfc2"/><stop offset="0.4264" stop-color="#fdcfa2"/><stop offset="0.4942" stop-color="#fdbc7d"/><stop offset="0.5814" stop-color="#fdb26a"/><stop offset="0.6442" stop-color="#fdbc7d"/><stop offset="0.6930" stop-color="#fdcfa2"/><stop offset="0.7419" stop-color="#fedfc2"/><stop offset="0.7907" stop-color="#feecda"/><stop offset="0.8465" stop-color="#fef6ed"/><stop offset="0.9163" stop-color="#fffcf9"/><stop offset="1.0000" stop-color="#fffefe"/></linearGradient>
<linearGradient id="s16" gradientUnits="userSpaceOnUse" x1="0" y1="259" x2="0" y2="385"><stop offset="0.0000" stop-color="#fffefe"/><stop offset="0.1048" stop-color="#fffcf9"/><stop offset="0.1921" stop-color="#fef6ed"/><stop offset="0.2619" stop-color="#feecda"/><stop offset="0.3230" stop-color="#fedfc2"/><stop offset="0.3841" stop-color="#fdcfa2"/><stop offset="0.4452" stop-color="#fdbc7d"/><stop offset="0.5238" stop-color="#fdb26a"/><stop offset="0.5952" stop-color="#fdbc7d"/><stop offset="0.6508" stop-color="#fdcfa2"/><stop offset="0.7063" stop-color="#fedfc2"/><stop offset="0.7619" stop-color="#feecda"/><stop offset="0.8254" stop-color="#fef6ed"/><stop offset="0.9048" stop-color="#fffcf9"/><stop offset="1.0000" stop-color="#fffefe"/></linearGradient>
<linearGradient id="s17" gradientUnits="userSpaceOnUse" x1="0" y1="220" x2="0" y2="376"><stop offset="0.0000" stop-color="#fffefe"/><stop offset="0.0846" stop-color="#fffcf9"/><stop offset="0.1551" stop-color="#fef6ed"/><stop offset="0.2115" stop-color="#feecda"/><stop offset="0.2609" stop-color="#fedfc2"/><stop offset="0.3103" stop-color="#fdcfa2"/><stop offset="0.3596" stop-color="#fdbc7d"/><stop offset="0.4231" stop-color="#fdb26a"/><stop offset="0.5096" stop-color="#fdbc7d"/><stop offset="0.5769" stop-color="#fdcfa2"/><stop offset="0.6442" stop-color="#fedfc2"/><stop offset="0.7115" stop-color="#feecda"/><stop offset="0.7885" stop-color="#fef6ed"/><stop offset="0.8846" stop-color="#fffcf9"/><stop offset="1.0000" stop-color="#fffefe"/></linearGradient>
<linearGradient id="s18" gradientUnits="userSpaceOnUse" x1="0" y1="123" x2="0" y2="318"><stop offset="0.0000" stop-color="#fffefe"/><stop offset="0.1077" stop-color="#fffcf9"/><stop offset="0.1974" stop-color="#fef6ee"/><stop offset="0.2692" stop-color="#feeddd"/><stop offset="0.3321" stop-color="#fee2c6"/><stop offset="0.3949" stop-color="#fdd3aa"/><stop offset="0.4577" stop-color="#fdc289"/><stop offset="0.5385" stop-color="#fdb977"/><stop offset="0.6077" stop-color="#fdc289"/><stop offset="0.6615" stop-color="#fdd3aa"/><stop offset="0.7154" stop-color="#fee2c6"/><stop offset="0.7692" stop-color="#feeddd"/><stop offset="0.8308" stop-color="#fef6ee"/><stop offset="0.9077" stop-color="#fffcf9"/><stop offset="1.0000" stop-color="#fffefe"/></linearGradient>
<linearGradient id="s19" gradientUnits="userSpaceOnUse" x1="0" y1="54" x2="0" y2="273"><stop offset="0.0000" stop-color="#fffefe"/><stop offset="0.1041" stop-color="#fffcfa"/><stop offset="0.1909" stop-color="#fef7f0"/><stop offset="0.2603" stop-color="#fef0e1"/><stop offset="0.3210" stop-color="#fee5cd"/><stop offset="0.3817" stop-color="#fdd9b6"/><stop offset="0.4425" stop-color="#fdcd9e"/><stop offset="0.5205" stop-color="#fdc48d"/><stop offset="0.5925" stop-color="#fdcd9e"/><stop offset="0.6484" stop-color="#fdd9b6"/><stop offset="0.7043" stop-color="#fee5cd"/><stop offset="0.7603" stop-color="#fef0e1"/><stop offset="0.8242" stop-color="#fef7f0"/><stop offset="0.9041" stop-color="#fffcfa"/><stop offset="1.0000" stop-color="#fffefe"/></linearGradient>
<linearGradient id="s20" gradientUnits="userSpaceOnUse" x1="0" y1="-14" x2="0" y2="220"><stop offset="0.0000" stop-color="#fffffe"/><stop offset="0.1231" stop-color="#fffcfa"/><stop offset="0.2256" stop-color="#fff8f1"/><stop offset="0.3077" stop-color="#fef0e3"/><stop offset="0.3795" stop-color="#fee7d0"/><stop offset="0.4513" stop-color="#fedbba"/><stop offset="0.5231" stop-color="#fdd1a6"/><stop offset="0.6154" stop-color="#fdc996"/><stop offset="0.6731" stop-color="#fdd1a6"/><stop offset="0.7179" stop-color="#fedbba"/><stop offset="0.7628" stop-color="#fee7d0"/><stop offset="0.8077" stop-color="#fef0e3"/><stop offset="0.8590" stop-color="#fff8f1"/><stop offset="0.9231" stop-color="#fffcfa"/><stop offset="1.0000" stop-color="#fffffe"/></linearGradient>
<linearGradient id="s21" gradientUnits="userSpaceOnUse" x1="0" y1="3" x2="0" y2="198"><stop offset="0.0000" stop-color="#fef2e5"/><stop offset="0.1256" stop-color="#fee9d4"/><stop offset="0.2513" stop-color="#fedfc1"/><stop offset="0.3769" stop-color="#fdd5af"/><stop offset="0.5385" stop-color="#fdd0a4"/><stop offset="0.6077" stop-color="#fdd5af"/><stop offset="0.6615" stop-color="#fedfc1"/><stop offset="0.7154" stop-color="#fee9d4"/><stop offset="0.7692" stop-color="#fef2e5"/><stop offset="0.8308" stop-color="#fff8f2"/><stop offset="0.9077" stop-color="#fffdfb"/><stop offset="1.0000" stop-color="#fffffe"/></linearGradient>
<linearGradient id="s22" gradientUnits="userSpaceOnUse" x1="0" y1="8" x2="0" y2="155"><stop offset="0.0000" stop-color="#fee1c5"/><stop offset="0.2143" stop-color="#fdd8b4"/><stop offset="0.4898" stop-color="#fdd4ab"/><stop offset="0.5663" stop-color="#fdd8b4"/><stop offset="0.6259" stop-color="#fee1c5"/><stop offset="0.6854" stop-color="#feead7"/><stop offset="0.7449" stop-color="#fef2e7"/><stop offset="0.8129" stop-color="#fff9f3"/><stop offset="0.8980" stop-color="#fffdfb"/><stop offset="1.0000" stop-color="#fffffe"/></linearGradient>
<linearGradient id="s23" gradientUnits="userSpaceOnUse" x1="0" y1="-11.25" x2="0" y2="218"><stop offset="0.0000" stop-color="#fee9d4"/><stop offset="0.1450" stop-color="#fedfc1"/><stop offset="0.2901" stop-color="#fdd5af"/><stop offset="0.4766" stop-color="#fdd0a4"/><stop offset="0.5551" stop-color="#fdd5af"/><stop offset="0.6161" stop-color="#fedfc1"/><stop offset="0.6772" stop-color="#fee9d4"/><stop offset="0.7383" stop-color="#fef2e5"/><stop offset="0.8081" stop-color="#fff8f2"/><stop offset="0.8953" stop-color="#fffdfb"/><stop offset="1.0000" stop-color="#fffffe"/></linearGradient>
<linearGradient id="s24" gradientUnits="userSpaceOnUse" x1="0" y1="12.5" x2="0" y2="167"><stop offset="0.0000" stop-color="#fee2c8"/><stop offset="0.3204" stop-color="#fedfc1"/><stop offset="0.4223" stop-color="#fee2c8"/><stop offset="0.5016" stop-color="#fee8d3"/><stop offset="0.5809" stop-color="#feefe1"/><stop offset="0.6602" stop-color="#fef5ec"/><stop offset="0.7508" stop-color="#fffaf5"/><stop offset="0.8641" stop-color="#fffdfc"/><stop offset="1.0000" stop-color="#fffffe"/></linearGradient>
<radialGradient id="g4a" cx="0" cy="0" r="1" gradientUnits="userSpaceOnUse"><stop offset="0" stop-color="#fff" stop-opacity="1"/><stop offset="0.1" stop-color="#fff" stop-opacity="0.96"/><stop offset="0.2" stop-color="#fff" stop-opacity="0.84"/><stop offset="0.3" stop-color="#fff" stop-opacity="0.67"/><stop offset="0.4" stop-color="#fff" stop-opacity="0.49"/><stop offset="0.5" stop-color="#fff" stop-opacity="0.32"/><stop offset="0.6" stop-color="#fff" stop-opacity="0.2"/><stop offset="0.7" stop-color="#fff" stop-opacity="0.11"/><stop offset="0.8" stop-color="#fff" stop-opacity="0.06"/><stop offset="0.9" stop-color="#fff" stop-opacity="0.03"/><stop offset="1" stop-color="#fff" stop-opacity="0.01"/></radialGradient>
<clipPath id="c4"><rect x="1338.3" y="748.8" width="813.1" height="627.9"/></clipPath>
<filter id="f4" filterUnits="userSpaceOnUse" x="1338.3" y="748.8" width="813.1" height="627.9" color-interpolation-filters="sRGB"><feTurbulence type="fractalNoise" baseFrequency="0.08 0.26" numOctaves="2" seed="7" result="n"/><feColorMatrix in="n" type="matrix" values="2.6 0 0 0 -0.8  2.6 0 0 0 -0.8  2.6 0 0 0 -0.8  0 0 0 0 1" result="na"/><feComposite in="SourceGraphic" in2="na" operator="arithmetic" k1="0.8" k2="0.6" k3="0" k4="0" result="m"/><feComponentTransfer in="m"><feFuncR type="table" tableValues="0 0.0284 0.0568 0.0852 0.114 0.142 0.17 0.199 0.227 0.256 0.284 0.312 0.341 0.369 0.398 0.426 0.455 0.483 0.511 0.54 0.568 0.597 0.625 0.653 0.682 0.71 0.739 0.767 0.795 0.824 0.852 0.881 0.909 0.938 0.966 0.994 1 1 1 1 1 1 1 1 1 1 1 1 1 1 1 1"/><feFuncG type="table" tableValues="0 0 0 0 0 0 0 0 0 0 0 0 0 0 0 0 0 0 0 0 0 0 0 0 0 0.037 0.0741 0.111 0.148 0.185 0.222 0.259 0.296 0.333 0.37 0.407 0.444 0.481 0.519 0.556 0.593 0.63 0.667 0.704 0.741 0.778 0.815 0.852 0.889 0.926 0.963 1"/><feFuncB type="table" tableValues="0 0 0 0 0 0 0 0 0 0 0 0 0 0 0 0 0 0 0 0 0 0 0 0 0 0 0 0 0 0 0 0 0 0 0 0 0 0 0 0.0769 0.154 0.231 0.308 0.385 0.462 0.538 0.615 0.692 0.769 0.846 0.923 1"/></feComponentTransfer></filter>
<filter id="cm" x="0" y="0" width="1" height="1" color-interpolation-filters="sRGB"><feComponentTransfer><feFuncR type="table" tableValues="0 0.0284 0.0568 0.0852 0.114 0.142 0.17 0.199 0.227 0.256 0.284 0.312 0.341 0.369 0.398 0.426 0.455 0.483 0.511 0.54 0.568 0.597 0.625 0.653 0.682 0.71 0.739 0.767 0.795 0.824 0.852 0.881 0.909 0.938 0.966 0.994 1 1 1 1 1 1 1 1 1 1 1 1 1 1 1 1"/><feFuncG type="table" tableValues="0 0 0 0 0 0 0 0 0 0 0 0 0 0 0 0 0 0 0 0 0 0 0 0 0 0.037 0.0741 0.111 0.148 0.185 0.222 0.259 0.296 0.333 0.37 0.407 0.444 0.481 0.519 0.556 0.593 0.63 0.667 0.704 0.741 0.778 0.815 0.852 0.889 0.926 0.963 1"/><feFuncB type="table" tableValues="0 0 0 0 0 0 0 0 0 0 0 0 0 0 0 0 0 0 0 0 0 0 0 0 0 0 0 0 0 0 0 0 0 0 0 0 0 0 0 0.0769 0.154 0.231 0.308 0.385 0.462 0.538 0.615 0.692 0.769 0.846 0.923 1"/></feComponentTransfer></filter>
<linearGradient id="h3" gradientUnits="userSpaceOnUse" x1="0" y1="1834" x2="0" y2="2186"><stop offset="0.0000" stop-color="#000000"/><stop offset="0.0938" stop-color="#000000"/><stop offset="0.1719" stop-color="#000000"/><stop offset="0.2344" stop-color="#010101"/><stop offset="0.2891" stop-color="#020202"/><stop offset="0.3438" stop-color="#020202"/><stop offset="0.3906" stop-color="#030303"/><stop offset="0.4375" stop-color="#040404"/><stop offset="0.5000" stop-color="#040404"/><stop offset="0.5625" stop-color="#040404"/><stop offset="0.6094" stop-color="#030303"/><stop offset="0.6562" stop-color="#020202"/><stop offset="0.7109" stop-color="#020202"/><stop offset="0.7656" stop-color="#010101"/><stop offset="0.8281" stop-color="#000000"/><stop offset="0.9062" stop-color="#000000"/><stop offset="1.0000" stop-color="#000000"/></linearGradient>
<linearGradient id="h4" gradientUnits="userSpaceOnUse" x1="0" y1="1814" x2="0" y2="2166"><stop offset="0.0000" stop-color="#000000"/><stop offset="0.0938" stop-color="#000000"/><stop offset="0.1719" stop-color="#010101"/><stop offset="0.2344" stop-color="#010101"/><stop offset="0.2891" stop-color="#020202"/><stop offset="0.3438" stop-color="#040404"/><stop offset="0.3906" stop-color="#050505"/><stop offset="0.4375" stop-color="#060606"/><stop offset="0.5000" stop-color="#060606"/><stop offset="0.5625" stop-color="#060606"/><stop offset="0.6094" stop-color="#050505"/><stop offset="0.6562" stop-color="#040404"/><stop offset="0.7109" stop-color="#020202"/><stop offset="0.7656" stop-color="#010101"/><stop offset="0.8281" stop-color="#010101"/><stop offset="0.9062" stop-color="#000000"/><stop offset="1.0000" stop-color="#000000"/></linearGradient>
<linearGradient id="h5" gradientUnits="userSpaceOnUse" x1="0" y1="1802.6" x2="0" y2="2135.4"><stop offset="0.0000" stop-color="#000000"/><stop offset="0.0938" stop-color="#000000"/><stop offset="0.1719" stop-color="#010101"/><stop offset="0.2344" stop-color="#030303"/><stop offset="0.2891" stop-color="#050505"/><stop offset="0.3438" stop-color="#070707"/><stop offset="0.3906" stop-color="#090909"/><stop offset="0.4375" stop-color="#0b0b0b"/><stop offset="0.5000" stop-color="#0c0c0c"/><stop offset="0.5625" stop-color="#0b0b0b"/><stop offset="0.6094" stop-color="#090909"/><stop offset="0.6562" stop-color="#070707"/><stop offset="0.7109" stop-color="#050505"/><stop offset="0.7656" stop-color="#030303"/><stop offset="0.8281" stop-color="#010101"/><stop offset="0.9062" stop-color="#000000"/><stop offset="1.0000" stop-color="#000000"/></linearGradient>
<linearGradient id="h6" gradientUnits="userSpaceOnUse" x1="0" y1="1783" x2="0" y2="2103"><stop offset="0.0000" stop-color="#000000"/><stop offset="0.0938" stop-color="#010101"/><stop offset="0.1719" stop-color="#040404"/><stop offset="0.2344" stop-color="#080808"/><stop offset="0.2891" stop-color="#0e0e0e"/><stop offset="0.3438" stop-color="#151515"/><stop offset="0.3906" stop-color="#1b1b1b"/><stop offset="0.4375" stop-color="#202020"/><stop offset="0.5000" stop-color="#232323"/><stop offset="0.5625" stop-color="#202020"/><stop offset="0.6094" stop-color="#1b1b1b"/><stop offset="0.6562" stop-color="#151515"/><stop offset="0.7109" stop-color="#0e0e0e"/><stop offset="0.7656" stop-color="#080808"/><stop offset="0.8281" stop-color="#040404"/><stop offset="0.9062" stop-color="#010101"/><stop offset="1.0000" stop-color="#000000"/></linearGradient>
<linearGradient id="h7" gradientUnits="userSpaceOnUse" x1="0" y1="1774.4" x2="0" y2="2081.6"><stop offset="0.0000" stop-color="#000000"/><stop offset="0.0937" stop-color="#020202"/><stop offset="0.1719" stop-color="#070707"/><stop offset="0.2344" stop-color="#0e0e0e"/><stop offset="0.2891" stop-color="#181818"/><stop offset="0.3437" stop-color="#242424"/><stop offset="0.3906" stop-color="#2f2f2f"/><stop offset="0.4375" stop-color="#373737"/><stop offset="0.5000" stop-color="#3c3c3c"/><stop offset="0.5625" stop-color="#373737"/><stop offset="0.6094" stop-color="#2f2f2f"/><stop offset="0.6563" stop-color="#242424"/><stop offset="0.7109" stop-color="#181818"/><stop offset="0.7656" stop-color="#0e0e0e"/><stop offset="0.8281" stop-color="#070707"/><stop offset="0.9063" stop-color="#020202"/><stop offset="1.0000" stop-color="#000000"/></linearGradient>
<linearGradient id="h8" gradientUnits="userSpaceOnUse" x1="0" y1="1760.8" x2="0" y2="2055.2"><stop offset="0.0000" stop-color="#010101"/><stop offset="0.0938" stop-color="#040404"/><stop offset="0.1719" stop-color="#0e0e0e"/><stop offset="0.2344" stop-color="#1d1d1d"/><stop offset="0.2891" stop-color="#323232"/><stop offset="0.3438" stop-color="#4c4c4c"/><stop offset="0.3906" stop-color="#626262"/><stop offset="0.4375" stop-color="#737373"/><stop offset="0.5000" stop-color="#7d7d7d"/><stop offset="0.5625" stop-color="#737373"/><stop offset="0.6094" stop-color="#626262"/><stop offset="0.6563" stop-color="#4c4c4c"/><stop offset="0.7109" stop-color="#323232"/><stop offset="0.7656" stop-color="#1d1d1d"/><stop offset="0.8281" stop-color="#0e0e0e"/><stop offset="0.9063" stop-color="#040404"/><stop offset="1.0000" stop-color="#010101"/></linearGradient>
<linearGradient id="h9" gradientUnits="userSpaceOnUse" x1="0" y1="1740" x2="0" y2="2028"><stop offset="0.0000" stop-color="#010101"/><stop offset="0.0938" stop-color="#050505"/><stop offset="0.1719" stop-color="#111111"/><stop offset="0.2344" stop-color="#232323"/><stop offset="0.2891" stop-color="#3c3c3c"/><stop offset="0.3438" stop-color="#5b5b5b"/><stop offset="0.3906" stop-color="#757575"/><stop offset="0.4375" stop-color="#8a8a8a"/><stop offset="0.5000" stop-color="#969696"/><stop offset="0.5625" stop-color="#8a8a8a"/><stop offset="0.6094" stop-color="#757575"/><stop offset="0.6562" stop-color="#5b5b5b"/><stop offset="0.7109" stop-color="#3c3c3c"/><stop offset="0.7656" stop-color="#232323"/><stop offset="0.8281" stop-color="#111111"/><stop offset="0.9062" stop-color="#050505"/><stop offset="1.0000" stop-color="#010101"/></linearGradient>
<linearGradient id="h10" gradientUnits="userSpaceOnUse" x1="0" y1="1719.7" x2="0" y2="2001.3"><stop offset="0.0000" stop-color="#010101"/><stop offset="0.0937" stop-color="#070707"/><stop offset="0.1719" stop-color="#161616"/><stop offset="0.2344" stop-color="#2f2f2f"/><stop offset="0.2891" stop-color="#505050"/><stop offset="0.3437" stop-color="#797979"/><stop offset="0.3906" stop-color="#9d9d9d"/><stop offset="0.4375" stop-color="#b9b9b9"/><stop offset="0.5000" stop-color="#c8c8c8"/><stop offset="0.5625" stop-color="#b9b9b9"/><stop offset="0.6094" stop-color="#9d9d9d"/><stop offset="0.6562" stop-color="#797979"/><stop offset="0.7109" stop-color="#505050"/><stop offset="0.7656" stop-color="#2f2f2f"/><stop offset="0.8281" stop-color="#161616"/><stop offset="0.9063" stop-color="#070707"/><stop offset="1.0000" stop-color="#010101"/></linearGradient>
<linearGradient id="h11" gradientUnits="userSpaceOnUse" x1="0" y1="1687.2" x2="0" y2="1968.8"><stop offset="0.0000" stop-color="#010101"/><stop offset="0.0937" stop-color="#070707"/><stop offset="0.1719" stop-color="#161616"/><stop offset="0.2344" stop-color="#2f2f2f"/><stop offset="0.2891" stop-color="#505050"/><stop offset="0.3437" stop-color="#797979"/><stop offset="0.3906" stop-color="#9d9d9d"/><stop offset="0.4375" stop-color="#b9b9b9"/><stop offset="0.5000" stop-color="#c8c8c8"/><stop offset="0.5625" stop-color="#b9b9b9"/><stop offset="0.6094" stop-color="#9d9d9d"/><stop offset="0.6562" stop-color="#797979"/><stop offset="0.7109" stop-color="#505050"/><stop offset="0.7656" stop-color="#2f2f2f"/><stop offset="0.8281" stop-color="#161616"/><stop offset="0.9063" stop-color="#070707"/><stop offset="1.0000" stop-color="#010101"/></linearGradient>
<linearGradient id="h12" gradientUnits="userSpaceOnUse" x1="0" y1="1658.9" x2="0" y2="1940.5"><stop offset="0.0000" stop-color="#020202"/><stop offset="0.0937" stop-color="#090909"/><stop offset="0.1719" stop-color="#1e1e1e"/><stop offset="0.2344" stop-color="#404040"/><stop offset="0.2891" stop-color="#6d6d6d"/><stop offset="0.3437" stop-color="#a5a5a5"/><stop offset="0.3906" stop-color="#d5d5d5"/><stop offset="0.4375" stop-color="#fbfbfb"/><stop offset="0.5000" stop-color="#ffffff"/><stop offset="0.5625" stop-color="#fbfbfb"/><stop offset="0.6094" stop-color="#d5d5d5"/><stop offset="0.6562" stop-color="#a5a5a5"/><stop offset="0.7109" stop-color="#6d6d6d"/><stop offset="0.7656" stop-color="#404040"/><stop offset="0.8281" stop-color="#1e1e1e"/><stop offset="0.9063" stop-color="#090909"/><stop offset="1.0000" stop-color="#020202"/></linearGradient>
<linearGradient id="h13" gradientUnits="userSpaceOnUse" x1="0" y1="1635" x2="0" y2="1916.6"><stop offset="0.0000" stop-color="#010101"/><stop offset="0.0937" stop-color="#080808"/><stop offset="0.1719" stop-color="#1b1b1b"/><stop offset="0.2344" stop-color="#3a3a3a"/><stop offset="0.2891" stop-color="#636363"/><stop offset="0.3437" stop-color="#959595"/><stop offset="0.3906" stop-color="#c1c1c1"/><stop offset="0.4375" stop-color="#e3e3e3"/><stop offset="0.5000" stop-color="#f6f6f6"/><stop offset="0.5625" stop-color="#e3e3e3"/><stop offset="0.6094" stop-color="#c1c1c1"/><stop offset="0.6562" stop-color="#959595"/><stop offset="0.7109" stop-color="#636363"/><stop offset="0.7656" stop-color="#3a3a3a"/><stop offset="0.8281" stop-color="#1b1b1b"/><stop offset="0.9063" stop-color="#080808"/><stop offset="1.0000" stop-color="#010101"/></linearGradient>
<linearGradient id="h14" gradientUnits="userSpaceOnUse" x1="0" y1="1617.6" x2="0" y2="1899.2"><stop offset="0.0000" stop-color="#020202"/><stop offset="0.0937" stop-color="#090909"/><stop offset="0.1719" stop-color="#1f1f1f"/><stop offset="0.2344" stop-color="#424242"/><stop offset="0.2891" stop-color="#707070"/><stop offset="0.3437" stop-color="#a9a9a9"/><stop offset="0.3906" stop-color="#dadada"/><stop offset="0.4375" stop-color="#ffffff"/><stop offset="0.5000" stop-color="#ffffff"/><stop offset="0.5625" stop-color="#ffffff"/><stop offset="0.6094" stop-color="#dadada"/><stop offset="0.6562" stop-color="#a9a9a9"/><stop offset="0.7109" stop-color="#707070"/><stop offset="0.7656" stop-color="#424242"/><stop offset="0.8281" stop-color="#1f1f1f"/><stop offset="0.9063" stop-color="#090909"/><stop offset="1.0000" stop-color="#020202"/></linearGradient>
<linearGradient id="h15" gradientUnits="userSpaceOnUse" x1="0" y1="1590.8" x2="0" y2="1885.2"><stop offset="0.0000" stop-color="#010101"/><stop offset="0.0938" stop-color="#070707"/><stop offset="0.1719" stop-color="#161616"/><stop offset="0.2344" stop-color="#2f2f2f"/><stop offset="0.2891" stop-color="#505050"/><stop offset="0.3438" stop-color="#797979"/><stop offset="0.3906" stop-color="#9d9d9d"/><stop offset="0.4375" stop-color="#b9b9b9"/><stop offset="0.5000" stop-color="#c8c8c8"/><stop offset="0.5625" stop-color="#b9b9b9"/><stop offset="0.6094" stop-color="#9d9d9d"/><stop offset="0.6562" stop-color="#797979"/><stop offset="0.7109" stop-color="#505050"/><stop offset="0.7656" stop-color="#2f2f2f"/><stop offset="0.8281" stop-color="#161616"/><stop offset="0.9062" stop-color="#070707"/><stop offset="1.0000" stop-color="#010101"/></linearGradient>
<linearGradient id="h16" gradientUnits="userSpaceOnUse" x1="0" y1="1567.9" x2="0" y2="1875.1"><stop offset="0.0000" stop-color="#010101"/><stop offset="0.0937" stop-color="#060606"/><stop offset="0.1719" stop-color="#151515"/><stop offset="0.2344" stop-color="#2d2d2d"/><stop offset="0.2891" stop-color="#4c4c4c"/><stop offset="0.3437" stop-color="#737373"/><stop offset="0.3906" stop-color="#959595"/><stop offset="0.4375" stop-color="#afafaf"/><stop offset="0.5000" stop-color="#bebebe"/><stop offset="0.5625" stop-color="#afafaf"/><stop offset="0.6094" stop-color="#959595"/><stop offset="0.6563" stop-color="#737373"/><stop offset="0.7109" stop-color="#4c4c4c"/><stop offset="0.7656" stop-color="#2d2d2d"/><stop offset="0.8281" stop-color="#151515"/><stop offset="0.9063" stop-color="#060606"/><stop offset="1.0000" stop-color="#010101"/></linearGradient>
<linearGradient id="h17" gradientUnits="userSpaceOnUse" x1="0" y1="1543.2" x2="0" y2="1882.4"><stop offset="0.0000" stop-color="#010101"/><stop offset="0.0938" stop-color="#040404"/><stop offset="0.1719" stop-color="#0e0e0e"/><stop offset="0.2344" stop-color="#1d1d1d"/><stop offset="0.2891" stop-color="#323232"/><stop offset="0.3438" stop-color="#4c4c4c"/><stop offset="0.3906" stop-color="#626262"/><stop offset="0.4375" stop-color="#737373"/><stop offset="0.5000" stop-color="#7d7d7d"/><stop offset="0.5625" stop-color="#737373"/><stop offset="0.6094" stop-color="#626262"/><stop offset="0.6562" stop-color="#4c4c4c"/><stop offset="0.7109" stop-color="#323232"/><stop offset="0.7656" stop-color="#1d1d1d"/><stop offset="0.8281" stop-color="#0e0e0e"/><stop offset="0.9062" stop-color="#040404"/><stop offset="1.0000" stop-color="#010101"/></linearGradient>
<linearGradient id="h18" gradientUnits="userSpaceOnUse" x1="0" y1="1528" x2="0" y2="1880"><stop offset="0.0000" stop-color="#010101"/><stop offset="0.0938" stop-color="#040404"/><stop offset="0.1719" stop-color="#0d0d0d"/><stop offset="0.2344" stop-color="#1b1b1b"/><stop offset="0.2891" stop-color="#2e2e2e"/><stop offset="0.3438" stop-color="#464646"/><stop offset="0.3906" stop-color="#5a5a5a"/><stop offset="0.4375" stop-color="#6a6a6a"/><stop offset="0.5000" stop-color="#737373"/><stop offset="0.5625" stop-color="#6a6a6a"/><stop offset="0.6094" stop-color="#5a5a5a"/><stop offset="0.6562" stop-color="#464646"/><stop offset="0.7109" stop-color="#2e2e2e"/><stop offset="0.7656" stop-color="#1b1b1b"/><stop offset="0.8281" stop-color="#0d0d0d"/><stop offset="0.9062" stop-color="#040404"/><stop offset="1.0000" stop-color="#010101"/></linearGradient>
<linearGradient id="h19" gradientUnits="userSpaceOnUse" x1="0" y1="1510.6" x2="0" y2="1875.4"><stop offset="0.0000" stop-color="#000000"/><stop offset="0.0938" stop-color="#030303"/><stop offset="0.1719" stop-color="#080808"/><stop offset="0.2344" stop-color="#121212"/><stop offset="0.2891" stop-color="#1e1e1e"/><stop offset="0.3438" stop-color="#2d2d2d"/><stop offset="0.3906" stop-color="#3b3b3b"/><stop offset="0.4375" stop-color="#454545"/><stop offset="0.5000" stop-color="#4b4b4b"/><stop offset="0.5625" stop-color="#454545"/><stop offset="0.6094" stop-color="#3b3b3b"/><stop offset="0.6562" stop-color="#2d2d2d"/><stop offset="0.7109" stop-color="#1e1e1e"/><stop offset="0.7656" stop-color="#121212"/><stop offset="0.8281" stop-color="#080808"/><stop offset="0.9062" stop-color="#030303"/><stop offset="1.0000" stop-color="#000000"/></linearGradient>
<linearGradient id="h20" gradientUnits="userSpaceOnUse" x1="0" y1="1490" x2="0" y2="1874"><stop offset="0.0000" stop-color="#000000"/><stop offset="0.0938" stop-color="#020202"/><stop offset="0.1719" stop-color="#070707"/><stop offset="0.2344" stop-color="#0e0e0e"/><stop offset="0.2891" stop-color="#181818"/><stop offset="0.3438" stop-color="#242424"/><stop offset="0.3906" stop-color="#2f2f2f"/><stop offset="0.4375" stop-color="#373737"/><stop offset="0.5000" stop-color="#3c3c3c"/><stop offset="0.5625" stop-color="#373737"/><stop offset="0.6094" stop-color="#2f2f2f"/><stop offset="0.6562" stop-color="#242424"/><stop offset="0.7109" stop-color="#181818"/><stop offset="0.7656" stop-color="#0e0e0e"/><stop offset="0.8281" stop-color="#070707"/><stop offset="0.9062" stop-color="#020202"/><stop offset="1.0000" stop-color="#000000"/></linearGradient>
<linearGradient id="h21" gradientUnits="userSpaceOnUse" x1="0" y1="1475.3" x2="0" y2="1872.1"><stop offset="0.0000" stop-color="#000000"/><stop offset="0.0938" stop-color="#010101"/><stop offset="0.1719" stop-color="#040404"/><stop offset="0.2344" stop-color="#090909"/><stop offset="0.2891" stop-color="#0f0f0f"/><stop offset="0.3438" stop-color="#171717"/><stop offset="0.3906" stop-color="#1e1e1e"/><stop offset="0.4375" stop-color="#232323"/><stop offset="0.5000" stop-color="#262626"/><stop offset="0.5625" stop-color="#232323"/><stop offset="0.6094" stop-color="#1e1e1e"/><stop offset="0.6562" stop-color="#171717"/><stop offset="0.7109" stop-color="#0f0f0f"/><stop offset="0.7656" stop-color="#090909"/><stop offset="0.8281" stop-color="#040404"/><stop offset="0.9062" stop-color="#010101"/><stop offset="1.0000" stop-color="#000000"/></linearGradient>
<linearGradient id="h22" gradientUnits="userSpaceOnUse" x1="0" y1="1460.2" x2="0" y2="1869.8"><stop offset="0.0000" stop-color="#000000"/><stop offset="0.0937" stop-color="#010101"/><stop offset="0.1719" stop-color="#030303"/><stop offset="0.2344" stop-color="#060606"/><stop offset="0.2891" stop-color="#0a0a0a"/><stop offset="0.3437" stop-color="#0f0f0f"/><stop offset="0.3906" stop-color="#141414"/><stop offset="0.4375" stop-color="#171717"/><stop offset="0.5000" stop-color="#191919"/><stop offset="0.5625" stop-color="#171717"/><stop offset="0.6094" stop-color="#141414"/><stop offset="0.6562" stop-color="#0f0f0f"/><stop offset="0.7109" stop-color="#0a0a0a"/><stop offset="0.7656" stop-color="#060606"/><stop offset="0.8281" stop-color="#030303"/><stop offset="0.9063" stop-color="#010101"/><stop offset="1.0000" stop-color="#000000"/></linearGradient>
<linearGradient id="h23" gradientUnits="userSpaceOnUse" x1="0" y1="1440.8" x2="0" y2="1863.2"><stop offset="0.0000" stop-color="#000000"/><stop offset="0.0938" stop-color="#010101"/><stop offset="0.1719" stop-color="#020202"/><stop offset="0.2344" stop-color="#040404"/><stop offset="0.2891" stop-color="#060606"/><stop offset="0.3438" stop-color="#090909"/><stop offset="0.3906" stop-color="#0c0c0c"/><stop offset="0.4375" stop-color="#0e0e0e"/><stop offset="0.5000" stop-color="#0f0f0f"/><stop offset="0.5625" stop-color="#0e0e0e"/><stop offset="0.6094" stop-color="#0c0c0c"/><stop offset="0.6562" stop-color="#090909"/><stop offset="0.7109" stop-color="#060606"/><stop offset="0.7656" stop-color="#040404"/><stop offset="0.8281" stop-color="#020202"/><stop offset="0.9062" stop-color="#010101"/><stop offset="1.0000" stop-color="#000000"/></linearGradient>
<linearGradient id="h24" gradientUnits="userSpaceOnUse" x1="0" y1="1428.8" x2="0" y2="1851.2"><stop offset="0.0000" stop-color="#000000"/><stop offset="0.0938" stop-color="#000000"/><stop offset="0.1719" stop-color="#010101"/><stop offset="0.2344" stop-color="#020202"/><stop offset="0.2891" stop-color="#040404"/><stop offset="0.3438" stop-color="#060606"/><stop offset="0.3906" stop-color="#080808"/><stop offset="0.4375" stop-color="#090909"/><stop offset="0.5000" stop-color="#0a0a0a"/><stop offset="0.5625" stop-color="#090909"/><stop offset="0.6094" stop-color="#080808"/><stop offset="0.6562" stop-color="#060606"/><stop offset="0.7109" stop-color="#040404"/><stop offset="0.7656" stop-color="#020202"/><stop offset="0.8281" stop-color="#010101"/><stop offset="0.9062" stop-color="#000000"/><stop offset="1.0000" stop-color="#000000"/></linearGradient>
<linearGradient id="h25" gradientUnits="userSpaceOnUse" x1="0" y1="1418.8" x2="0" y2="1841.2"><stop offset="0.0000" stop-color="#000000"/><stop offset="0.0938" stop-color="#000000"/><stop offset="0.1719" stop-color="#010101"/><stop offset="0.2344" stop-color="#020202"/><stop offset="0.2891" stop-color="#030303"/><stop offset="0.3438" stop-color="#050505"/><stop offset="0.3906" stop-color="#060606"/><stop offset="0.4375" stop-color="#070707"/><stop offset="0.5000" stop-color="#080808"/><stop offset="0.5625" stop-color="#070707"/><stop offset="0.6094" stop-color="#060606"/><stop offset="0.6562" stop-color="#050505"/><stop offset="0.7109" stop-color="#030303"/><stop offset="0.7656" stop-color="#020202"/><stop offset="0.8281" stop-color="#010101"/><stop offset="0.9062" stop-color="#000000"/><stop offset="1.0000" stop-color="#000000"/></linearGradient>






</defs>
<g clip-path="url(#c1)"><g filter="url(#f1)"><rect x="-32.6" y="-111.1" width="1235.6" height="886.3" fill="#636363"/><circle transform="translate(757.65 383.28) rotate(0) scale(188.64 208)" r="1" fill="url(#bk)" opacity="0.34"/><circle transform="translate(521.85 105.95) rotate(-15) scale(212.22 104)" r="1" fill="url(#bk)" opacity="0.3"/><circle transform="translate(694.77 591.28) rotate(0) scale(306.55 104)" r="1" fill="url(#bk)" opacity="0.3"/><circle transform="translate(443.25 583.57) rotate(0) scale(141.48 104)" r="1" fill="url(#bk)" opacity="0.25"/><circle transform="translate(804.81 121.36) rotate(0) scale(165.06 92.44)" r="1" fill="url(#bk)" opacity="0.2"/><circle transform="translate(616.17 460.31) rotate(-30) scale(141.48 92.44)" r="1" fill="url(#bk)" opacity="0.2"/><circle transform="translate(223.16 306.24) rotate(0) scale(165.06 184.89)" r="1" fill="url(#bw)" opacity="0.12"/><circle transform="translate(490.41 306.24) rotate(0) scale(188.64 115.55)" r="1" fill="url(#bw)" opacity="0.1"/><circle transform="translate(962.01 429.5) rotate(0) scale(141.48 184.89)" r="1" fill="url(#bw)" opacity="0.1"/><circle transform="translate(914.85 213.8) rotate(0) scale(141.48 115.55)" r="1" fill="url(#bw)" opacity="0.08"/></g></g><g filter="url(#fr)"><g clip-path="url(#c1)" stroke="#fff" stroke-linecap="round" fill="none"><path stroke-width="2.8" d="M109.8 484.5L120.1 483.2M914.4 344.8L915.6 355.1M904.1 429.4h.1M1025.8 598.6h.1M1038.7 392.2h.1"/><path stroke-width="3.3" d="M116.2 175.3h.1M825.9 88.2h.1M831.1 177.9h.1M1056.6 284.3h.1M1010.5 268.9L1018.2 267.6M674.7 229.2h.1M353.3 611.4L355.9 596M363.6 590.9L364.8 601.1M230.3 515.3h.1M961.8 544.2h.1"/><path stroke-width="3.8" d="M197 271.5h.1M924.6 121.5h.1M669.6 167.7h.1M636.3 288.1h.1M620.9 203.5h.1M143.1 432h.1M138 420.4h.1M166.2 440.9h.1M394.3 506.3h.1M381.5 534.5L389.2 533.2M299.5 530.6h.1M127.8 607.5h.1M107.3 634.4h.1M209.8 356.9h.1M103.4 510.1h.1M191.8 458.9h.1M180.3 471.7h.1M135.4 481.9h.1M246.9 458.9h.1M343.1 373h.1M200.8 589.6h.1M432.8 350.5h.1M422.5 370.4h.1M823.4 455L828.5 475.5M661.9 451.2h.1M813.1 560.1L825.9 558.8M854.1 564L861.8 562.7M874.6 558.3h.1M892.6 529.4h.1M937.4 506.3h.1M959.2 456.3L974.6 449.9M979.7 499.9h.1M883.6 373h.1M884.9 364h.1M1043.8 529.4h.1M895.1 626.8h.1M890 635.7h.1M974.6 584.5h.1M1056.6 639.6h.1M633.7 578.1h.1M746.5 516.5h.1M870.8 471.7h.1M636.3 426.8h.1"/><path stroke-width="4.3" d="M302 95.9h.1M279 245.8h.1M135.4 408.9h.1M152.1 387.1h.1M368.7 552.4L370 562.7M122.6 343.5h.1M189.3 353.8h.1M751.6 547.3h.1M1060.4 499.9h.1M1059.2 369.2h.1M605.5 558.8h.1M708 624.2h.1M923.3 333.3h.1"/><path stroke-width="4.6" d="M104.7 311.2L114.9 316.3M127.8 153.6h.1M743.9 52.3L764.4 45.9M892.6 34.4L918.2 39.5M1010.5 93.3L1036.1 113.8M987.4 234.3h.1M687.5 306.1h.1M1038.7 175.3h.1M966.9 186.9h.1M486.6 380.7h.1M412.3 426.8h.1M453.3 444.8L458.4 457.6M417.4 544.7L430.2 562.7M243.1 552.4h.1M808 432L823.4 455M769.5 572.9h.1M895.1 485.8L892.6 506.3M915.6 474.2h.1M995.1 613.9L997.7 619.1"/><path stroke-width="4.8" d="M211.1 335.8h.1"/><path stroke-width="5.3" d="M191.8 101h.1M366.1 201h.1M468.6 239.4h.1"/><path stroke-width="5.8" d="M181.6 25.4L182.9 21.6M353.3 31.8L404.6 34.4M402 39.5L404.6 44.6M170 126.6h.1M305.9 275.3h.1M759.3 34.4L790 21.6M787.5 36.9L810.5 21.6M784.9 188.2L795.2 193.3M923.3 70.3L928.4 95.9M1013 252.2h.1M984.8 270.2h.1M941.3 304.8h.1M610.6 317.6h.1M197 379.4L222.6 373M157.2 396.1h.1M286.7 434.5L290.5 416.6M427.6 382L432.8 387.1M461 393.5L473.8 402.5M484 364h.1M435.3 483.2L440.4 496M450.7 526.8L455.8 508.9M422.5 539.6L437.9 511.4M476.3 544.7L491.7 539.6M386.6 557.5L414.8 560.1M227.7 608.8L250.8 605M340.5 540.9h.1M486.6 575.5h.1M404.6 590.9h.1M702.9 385.8L723.4 383.3M746.5 490.9L751.6 480.7M820.8 501.2L828.5 493.5M631.1 449.9h.1M646.5 456.3h.1M664.5 534.5L668.3 544.7M644 556.3L661.9 560.1M682.4 578.1L695.2 575.5M749 631.9L759.3 634.4M931 479.4h.1M964.3 398.6h.1M984.8 447.3L1000.2 442.2M972 493.5L992.5 488.3M1018.2 371.7h.1M1028.4 339.7h.1M982.3 537h.1"/><path stroke-width="6.3" d="M236.7 129.2L235.4 98.5M209.8 131.8L227.7 129.2M322.5 142L335.4 116.4M186.7 197.1h.1M764.4 147.2L764.4 177.9"/><path stroke-width="7" d="M122.6 44.6L126.5 24.1M217.5 42.1L214.9 29.3M281.5 42.1L280.3 29.3M335.4 24.1L425.1 22.8M548.1 203.5L558.3 244.5M299.5 252.2L322.5 234.3M422.5 290.7h.1M435.3 298.4h.1M553.2 311.2L555.8 318.9M720.8 49.8L736.2 39.5M805.4 52.3L838.7 34.4M761.9 134.3h.1M859.2 30.5h.1M902.8 98.5L913.1 111.3M907.9 75.4h.1M1025.8 211.2h.1M1005.3 242h.1M738.8 288.1L728.5 321.4M800.3 299.7h.1M114.9 385.8h.1M214.9 447.3L230.3 451.2M378.9 411.5L394.3 412.7M435.3 421.7h.1M440.4 394.8h.1M525 462.7L548.1 447.3M550.7 478.1h.1M378.9 496L394.3 498.6M443 529.4L468.6 514M373.8 575.5L386.6 557.5M241.8 522.9h.1M527.6 562.7L553.2 583.2M555.8 570.4h.1M437.9 615.2h.1M455.8 616.5h.1M144.4 628h.1M697.8 337.1L718.3 355.1M669.6 397.4h.1M610.6 434.5L620.9 455M907.9 516.5h.1M928.4 411.5L943.8 406.3"/><path stroke-width="8.2" d="M241.8 72.8L240.5 47.2M327.7 131.8L378.9 101M468.6 90.8L494.3 95.9M496.8 67.7L522.5 62.6M537.8 42.1L550.7 29.3M412.3 139.5L414.8 147.2M455.8 242h.1M649.1 211.2h.1M774.7 151h.1M931 88.2L943.8 98.5M1041.2 126.6L1072 152.3M1002.8 180.5L1015.6 203.5M1056.6 203.5L1064.3 218.9M928.4 303.5L931 326.6M754.2 280.4L749 298.4M184.1 393.5L222.6 406.3M491.7 498.6L543 485.8M448.1 572.9h.1M376.4 639.6L373.8 575.5M391.8 639.6L389.2 603.7M317.4 578.1L327.7 588.3M337.9 570.4h.1M566 583.2L584 613.9M738.8 334.6L749 347.4M787.5 383.3L854.1 388.4M790 393.5L846.4 396.1M720.8 408.9L759.3 391M682.4 437.1L726 426.8M846.4 534.5h.1M620.9 629.3L636.3 639.6M585 626.8L592.7 639.6M784.9 629.3L815.7 634.4M954.1 415.3L961.8 414"/><path stroke-width="9.4" d="M425.1 193.3L455.8 195.9M135.4 277.9h.1M741.3 149.7L754.2 170.2M915.6 29.3L931 34.4M122.6 451.2L143.1 457.6M409.7 411.5L422.5 416.6M517.3 442.2L535.3 434.5M507.1 521.7h.1M576.3 608.8L581.4 626.8M623.4 470.4L649.1 501.2M784.9 537L790 562.7M800.3 537h.1"/><path stroke-width="10.6" d="M353.3 177.9L378.9 177.9M509.7 124.1L512.2 167.7M402 206.1L437.9 206.1M404.6 224L409.7 236.9M764.4 65.1L790 60M733.7 131.8L759.3 147.2M938.7 34.4L956.6 47.2M1041.2 43.3L1059.2 49.8M738.8 316.3L746.5 331.7M578.9 434.5L584 465.3M443 557.5L448.1 552.4M687.5 373L738.8 374.3M774.7 511.4L777.2 516.5M610.6 583.2L618.3 588.3M751.6 578.1L764.4 590.9M790 583.2L831.1 580.6M905.4 496h.1M920.8 508.9L923.3 516.5M925.9 460.2L931 465.3"/><path stroke-width="11.9" d="M443 78L527.6 65.1M595.3 206.1L610.6 229.2M1025.8 34.4L1069.4 36.9M455.8 562.7L473.8 549.9M502 608.8L517.3 634.4M585 457.6L623.4 470.4M795.2 611.4L846.4 598.6"/><path stroke-width="13.1" d="M368.7 78L386.6 57.4M378.9 101L443 78M600.4 147.2L623.4 142M674.7 165.1L692.6 157.4M682.4 85.6L713.2 57.4M695.2 106.1L738.8 95.9M708 121.5L738.8 121.5M954.1 270.2L974.6 267.6M450.7 370.4L455.8 378.1M723.4 347.4L759.3 360.2M592.7 603.7L649.1 606.2M610.6 613.9L692.6 619.1M774.7 596L779.8 608.8M805.4 616.5L825.9 624.2M1059.2 485.8h.1"/><path stroke-width="14.3" d="M430.2 224L455.8 231.7"/><path stroke-width="15.5" d="M327.7 54.9L325.1 29.3M327.7 57.4L378.9 62.6M332.8 165.1L386.6 170.2M576.3 167.7L584 172.8M489.1 483.2L537.8 478.1M759.3 406.3L777.2 424.3"/><path stroke-width="17.9" d="M327.7 139.5L391.8 152.3M532.7 229.2L543 231.7M314.9 601.1L322.5 613.9"/><path stroke-width="20.4" d="M491.7 154.8L530.2 139.5M890 52.3L913.1 60M728.5 434.5L769.5 416.6"/><path stroke-width="22.8" d="M779.8 475.5L784.9 506.3"/><path stroke-width="27.7" d="M585 162.5L631.1 165.1M738.8 85.6L790 78M769.5 434.5L790 475.5"/></g></g>
<g clip-path="url(#c3)"><g filter="url(#f3)"><rect x="57.4" y="709.8" width="1055.2" height="706.6" fill="#747474"/><circle transform="translate(191.68 1037.28) rotate(0) scale(175.99 246.63)" r="1" fill="url(#bk)" opacity="0.12"/>
<circle transform="translate(254.54 1283.91) rotate(0) scale(226.28 123.32)" r="1" fill="url(#bk)" opacity="0.11"/>
<circle transform="translate(977.37 1068.11) rotate(0) scale(150.85 345.29)" r="1" fill="url(#bk)" opacity="0.11"/>
<circle transform="translate(914.52 867.72) rotate(0) scale(125.71 73.99)" r="1" fill="url(#bk)" opacity="0.07"/>
<circle transform="translate(631.67 1098.94) rotate(0) scale(75.43 98.65)" r="1" fill="url(#bk)" opacity="0.07"/>
<circle transform="translate(364.54 782.94) rotate(-20) scale(88 54.26)" r="1" fill="url(#bw)" opacity="0"/>
<circle transform="translate(403.82 867.72) rotate(0) scale(100.57 86.32)" r="1" fill="url(#bw)" opacity="0"/>
<circle transform="translate(474.53 929.38) rotate(40) scale(125.71 98.65)" r="1" fill="url(#bw)" opacity="0"/>
<circle transform="translate(600.24 898.55) rotate(-15) scale(88 73.99)" r="1" fill="url(#bw)" opacity="0"/>
<circle transform="translate(568.81 975.62) rotate(0) scale(75.43 73.99)" r="1" fill="url(#bw)" opacity="0"/>
<circle transform="translate(741.67 813.77) rotate(-15) scale(100.57 61.66)" r="1" fill="url(#bw)" opacity="0"/>
<circle transform="translate(749.52 1114.35) rotate(0) scale(138.28 172.64)" r="1" fill="url(#bw)" opacity="0"/>
<circle transform="translate(749.52 1106.65) rotate(0) scale(62.86 86.32)" r="1" fill="url(#bw)" opacity="0"/>
<circle transform="translate(804.52 1021.87) rotate(0) scale(75.43 73.99)" r="1" fill="url(#bw)" opacity="0"/>
<circle transform="translate(615.96 1191.43) rotate(-30) scale(88 73.99)" r="1" fill="url(#bw)" opacity="0"/>
<circle transform="translate(521.67 1191.43) rotate(0) scale(75.43 61.66)" r="1" fill="url(#bw)" opacity="0"/>
<circle transform="translate(458.82 1283.91) rotate(-30) scale(88 86.32)" r="1" fill="url(#bw)" opacity="0"/>
<circle transform="translate(600.24 1345.57) rotate(0) scale(100.57 61.66)" r="1" fill="url(#bw)" opacity="0"/>
<circle transform="translate(395.96 1337.86) rotate(0) scale(62.86 61.66)" r="1" fill="url(#bw)" opacity="0"/>
<circle transform="translate(977.37 775.23) rotate(10) scale(125.71 36.99)" r="1" fill="url(#bw)" opacity="0"/>
<circle transform="translate(207.4 790.65) rotate(0) scale(100.57 61.66)" r="1" fill="url(#bw)" opacity="0"/>
<circle transform="translate(788.81 1314.74) rotate(0) scale(100.57 98.65)" r="1" fill="url(#bw)" opacity="0"/>
<circle transform="translate(883.09 929.38) rotate(0) scale(75.43 61.66)" r="1" fill="url(#bw)" opacity="0"/>
<circle transform="translate(930.23 1068.11) rotate(0) scale(50.28 73.99)" r="1" fill="url(#bw)" opacity="0"/>
<circle transform="translate(254.54 1160.6) rotate(0) scale(75.43 49.33)" r="1" fill="url(#bw)" opacity="0"/>
<circle transform="translate(678.81 913.96) rotate(0) scale(75.43 73.99)" r="1" fill="url(#bw)" opacity="0"/><g transform="translate(97.4 1376.4) scale(1.5714 -1.5415)" opacity="0.95" fill="none" stroke="#000" stroke-linecap="round"><use href="#l0" stroke-width="4.4"/><use href="#l1" stroke-width="3.1" stroke-dasharray="22 7"/><use href="#l2" stroke-width="2" stroke-dasharray="9 6"/></g><circle transform="translate(191.68 1037.28) rotate(0) scale(175.99 246.63)" r="1" fill="url(#bk)" opacity="0"/>
<circle transform="translate(254.54 1283.91) rotate(0) scale(226.28 123.32)" r="1" fill="url(#bk)" opacity="0"/>
<circle transform="translate(977.37 1068.11) rotate(0) scale(150.85 345.29)" r="1" fill="url(#bk)" opacity="0"/>
<circle transform="translate(914.52 867.72) rotate(0) scale(125.71 73.99)" r="1" fill="url(#bk)" opacity="0"/>
<circle transform="translate(631.67 1098.94) rotate(0) scale(75.43 98.65)" r="1" fill="url(#bk)" opacity="0"/>
<circle transform="translate(364.54 782.94) rotate(-20) scale(88 54.26)" r="1" fill="url(#bw)" opacity="0.5"/>
<circle transform="translate(403.82 867.72) rotate(0) scale(100.57 86.32)" r="1" fill="url(#bw)" opacity="0.3"/>
<circle transform="translate(474.53 929.38) rotate(40) scale(125.71 98.65)" r="1" fill="url(#bw)" opacity="0.3"/>
<circle transform="translate(600.24 898.55) rotate(-15) scale(88 73.99)" r="1" fill="url(#bw)" opacity="0.44"/>
<circle transform="translate(568.81 975.62) rotate(0) scale(75.43 73.99)" r="1" fill="url(#bw)" opacity="0.28"/>
<circle transform="translate(741.67 813.77) rotate(-15) scale(100.57 61.66)" r="1" fill="url(#bw)" opacity="0.41"/>
<circle transform="translate(749.52 1114.35) rotate(0) scale(138.28 172.64)" r="1" fill="url(#bw)" opacity="0.55"/>
<circle transform="translate(749.52 1106.65) rotate(0) scale(62.86 86.32)" r="1" fill="url(#bw)" opacity="0.33"/>
<circle transform="translate(804.52 1021.87) rotate(0) scale(75.43 73.99)" r="1" fill="url(#bw)" opacity="0.22"/>
<circle transform="translate(615.96 1191.43) rotate(-30) scale(88 73.99)" r="1" fill="url(#bw)" opacity="0.33"/>
<circle transform="translate(521.67 1191.43) rotate(0) scale(75.43 61.66)" r="1" fill="url(#bw)" opacity="0.22"/>
<circle transform="translate(458.82 1283.91) rotate(-30) scale(88 86.32)" r="1" fill="url(#bw)" opacity="0.3"/>
<circle transform="translate(600.24 1345.57) rotate(0) scale(100.57 61.66)" r="1" fill="url(#bw)" opacity="0.39"/>
<circle transform="translate(395.96 1337.86) rotate(0) scale(62.86 61.66)" r="1" fill="url(#bw)" opacity="0.28"/>
<circle transform="translate(977.37 775.23) rotate(10) scale(125.71 36.99)" r="1" fill="url(#bw)" opacity="0.39"/>
<circle transform="translate(207.4 790.65) rotate(0) scale(100.57 61.66)" r="1" fill="url(#bw)" opacity="0.22"/>
<circle transform="translate(788.81 1314.74) rotate(0) scale(100.57 98.65)" r="1" fill="url(#bw)" opacity="0.22"/>
<circle transform="translate(883.09 929.38) rotate(0) scale(75.43 61.66)" r="1" fill="url(#bw)" opacity="0.17"/>
<circle transform="translate(930.23 1068.11) rotate(0) scale(50.28 73.99)" r="1" fill="url(#bw)" opacity="0.17"/>
<circle transform="translate(254.54 1160.6) rotate(0) scale(75.43 49.33)" r="1" fill="url(#bw)" opacity="0.14"/>
<circle transform="translate(678.81 913.96) rotate(0) scale(75.43 73.99)" r="1" fill="url(#bw)" opacity="0.19"/></g></g>
<g clip-path="url(#c5)"><g filter="url(#f5)"><rect x="55" y="1468.8" width="1061" height="709.8" fill="#858585"/><circle transform="translate(189.9 1797.58) rotate(0) scale(177.16 248.01)" r="1" fill="url(#bk)" opacity="0.03"/>
<circle transform="translate(253.17 2045.59) rotate(0) scale(227.77 124.01)" r="1" fill="url(#bk)" opacity="0.03"/>
<circle transform="translate(980.78 1828.58) rotate(0) scale(151.85 347.22)" r="1" fill="url(#bk)" opacity="0.03"/>
<circle transform="translate(917.51 1627.07) rotate(0) scale(126.54 74.4)" r="1" fill="url(#bk)" opacity="0.02"/>
<circle transform="translate(632.79 1859.58) rotate(0) scale(75.92 99.21)" r="1" fill="url(#bk)" opacity="0.02"/>
<circle transform="translate(363.9 1541.82) rotate(-20) scale(88.58 54.56)" r="1" fill="url(#bw)" opacity="0"/>
<circle transform="translate(403.44 1627.07) rotate(0) scale(101.23 86.8)" r="1" fill="url(#bw)" opacity="0"/>
<circle transform="translate(474.62 1689.08) rotate(40) scale(126.54 99.21)" r="1" fill="url(#bw)" opacity="0"/>
<circle transform="translate(601.16 1658.07) rotate(-15) scale(88.58 74.4)" r="1" fill="url(#bw)" opacity="0"/>
<circle transform="translate(569.52 1735.58) rotate(0) scale(75.92 74.4)" r="1" fill="url(#bw)" opacity="0"/>
<circle transform="translate(743.52 1572.82) rotate(-15) scale(101.23 62)" r="1" fill="url(#bw)" opacity="0"/>
<circle transform="translate(751.43 1875.09) rotate(0) scale(139.19 173.61)" r="1" fill="url(#bw)" opacity="0"/>
<circle transform="translate(751.43 1867.33) rotate(0) scale(63.27 86.8)" r="1" fill="url(#bw)" opacity="0"/>
<circle transform="translate(806.79 1782.08) rotate(0) scale(75.92 74.4)" r="1" fill="url(#bw)" opacity="0"/>
<circle transform="translate(616.98 1952.59) rotate(-30) scale(88.58 74.4)" r="1" fill="url(#bw)" opacity="0"/>
<circle transform="translate(522.07 1952.59) rotate(0) scale(75.92 62)" r="1" fill="url(#bw)" opacity="0"/>
<circle transform="translate(458.8 2045.59) rotate(-30) scale(88.58 86.8)" r="1" fill="url(#bw)" opacity="0"/>
<circle transform="translate(601.16 2107.6) rotate(0) scale(101.23 62)" r="1" fill="url(#bw)" opacity="0"/>
<circle transform="translate(395.53 2099.85) rotate(0) scale(63.27 62)" r="1" fill="url(#bw)" opacity="0"/>
<circle transform="translate(980.78 1534.07) rotate(10) scale(126.54 37.2)" r="1" fill="url(#bw)" opacity="0"/>
<circle transform="translate(205.72 1549.57) rotate(0) scale(101.23 62)" r="1" fill="url(#bw)" opacity="0"/>
<circle transform="translate(790.97 2076.6) rotate(0) scale(101.23 99.21)" r="1" fill="url(#bw)" opacity="0"/>
<circle transform="translate(885.87 1689.08) rotate(0) scale(75.92 62)" r="1" fill="url(#bw)" opacity="0"/>
<circle transform="translate(933.33 1828.58) rotate(0) scale(50.62 74.4)" r="1" fill="url(#bw)" opacity="0"/>
<circle transform="translate(253.17 1921.59) rotate(0) scale(75.92 49.6)" r="1" fill="url(#bw)" opacity="0"/>
<circle transform="translate(680.25 1673.57) rotate(0) scale(75.92 74.4)" r="1" fill="url(#bw)" opacity="0"/><g transform="translate(95 2138.6) scale(1.5817 -1.5501)" opacity="0.22" fill="none" stroke="#000" stroke-linecap="round"><use href="#l0" stroke-width="3"/><use href="#l1" stroke-width="2.2" stroke-dasharray="22 7"/><use href="#l2" stroke-width="1.5" stroke-dasharray="9 6"/></g><circle transform="translate(189.9 1797.58) rotate(0) scale(177.16 248.01)" r="1" fill="url(#bk)" opacity="0"/>
<circle transform="translate(253.17 2045.59) rotate(0) scale(227.77 124.01)" r="1" fill="url(#bk)" opacity="0"/>
<circle transform="translate(980.78 1828.58) rotate(0) scale(151.85 347.22)" r="1" fill="url(#bk)" opacity="0"/>
<circle transform="translate(917.51 1627.07) rotate(0) scale(126.54 74.4)" r="1" fill="url(#bk)" opacity="0"/>
<circle transform="translate(632.79 1859.58) rotate(0) scale(75.92 99.21)" r="1" fill="url(#bk)" opacity="0"/>
<circle transform="translate(363.9 1541.82) rotate(-20) scale(88.58 54.56)" r="1" fill="url(#bw)" opacity="0.17"/>
<circle transform="translate(403.44 1627.07) rotate(0) scale(101.23 86.8)" r="1" fill="url(#bw)" opacity="0.1"/>
<circle transform="translate(474.62 1689.08) rotate(40) scale(126.54 99.21)" r="1" fill="url(#bw)" opacity="0.1"/>
<circle transform="translate(601.16 1658.07) rotate(-15) scale(88.58 74.4)" r="1" fill="url(#bw)" opacity="0.15"/>
<circle transform="translate(569.52 1735.58) rotate(0) scale(75.92 74.4)" r="1" fill="url(#bw)" opacity="0.1"/>
<circle transform="translate(743.52 1572.82) rotate(-15) scale(101.23 62)" r="1" fill="url(#bw)" opacity="0.14"/>
<circle transform="translate(751.43 1875.09) rotate(0) scale(139.19 173.61)" r="1" fill="url(#bw)" opacity="0.19"/>
<circle transform="translate(751.43 1867.33) rotate(0) scale(63.27 86.8)" r="1" fill="url(#bw)" opacity="0.11"/>
<circle transform="translate(806.79 1782.08) rotate(0) scale(75.92 74.4)" r="1" fill="url(#bw)" opacity="0.08"/>
<circle transform="translate(616.98 1952.59) rotate(-30) scale(88.58 74.4)" r="1" fill="url(#bw)" opacity="0.11"/>
<circle transform="translate(522.07 1952.59) rotate(0) scale(75.92 62)" r="1" fill="url(#bw)" opacity="0.08"/>
<circle transform="translate(458.8 2045.59) rotate(-30) scale(88.58 86.8)" r="1" fill="url(#bw)" opacity="0.1"/>
<circle transform="translate(601.16 2107.6) rotate(0) scale(101.23 62)" r="1" fill="url(#bw)" opacity="0.13"/>
<circle transform="translate(395.53 2099.85) rotate(0) scale(63.27 62)" r="1" fill="url(#bw)" opacity="0.1"/>
<circle transform="translate(980.78 1534.07) rotate(10) scale(126.54 37.2)" r="1" fill="url(#bw)" opacity="0.13"/>
<circle transform="translate(205.72 1549.57) rotate(0) scale(101.23 62)" r="1" fill="url(#bw)" opacity="0.08"/>
<circle transform="translate(790.97 2076.6) rotate(0) scale(101.23 99.21)" r="1" fill="url(#bw)" opacity="0.08"/>
<circle transform="translate(885.87 1689.08) rotate(0) scale(75.92 62)" r="1" fill="url(#bw)" opacity="0.06"/>
<circle transform="translate(933.33 1828.58) rotate(0) scale(50.62 74.4)" r="1" fill="url(#bw)" opacity="0.06"/>
<circle transform="translate(253.17 1921.59) rotate(0) scale(75.92 49.6)" r="1" fill="url(#bw)" opacity="0.05"/>
<circle transform="translate(680.25 1673.57) rotate(0) scale(75.92 74.4)" r="1" fill="url(#bw)" opacity="0.07"/></g></g>
<g shape-rendering="crispEdges">
<rect x="1338.8" y="18.9" width="32.76" height="225.1" fill="url(#s0)"/>
<rect x="1371.26" y="18.9" width="32.76" height="167.1" fill="url(#s1)"/>
<rect x="1403.72" y="18.9" width="32.76" height="189.1" fill="url(#s2)"/>
<rect x="1436.18" y="18.9" width="32.76" height="191.1" fill="url(#s3)"/>
<rect x="1468.64" y="18.9" width="32.76" height="191.1" fill="url(#s4)"/>
<rect x="1501.1" y="40" width="32.76" height="192" fill="url(#s5)"/>
<rect x="1533.56" y="86" width="32.76" height="162" fill="url(#s6)"/>
<rect x="1566.02" y="136" width="32.76" height="180" fill="url(#s7)"/>
<rect x="1598.48" y="222" width="32.76" height="165" fill="url(#s8)"/>
<rect x="1630.94" y="322" width="32.76" height="150" fill="url(#s9)"/>
<rect x="1663.4" y="432" width="32.76" height="111" fill="url(#s10)"/>
<rect x="1695.86" y="494" width="32.76" height="69" fill="url(#s11)"/>
<rect x="1728.32" y="531" width="32.76" height="34.2" fill="url(#s12)"/>
<rect x="1760.78" y="496" width="32.76" height="69" fill="url(#s13)"/>
<rect x="1793.24" y="437" width="32.76" height="102" fill="url(#s14)"/>
<rect x="1825.7" y="337" width="32.76" height="129" fill="url(#s15)"/>
<rect x="1858.16" y="259" width="32.76" height="126" fill="url(#s16)"/>
<rect x="1890.62" y="220" width="32.76" height="156" fill="url(#s17)"/>
<rect x="1923.08" y="123" width="32.76" height="195" fill="url(#s18)"/>
<rect x="1955.54" y="54" width="32.76" height="219" fill="url(#s19)"/>
<rect x="1988" y="18.9" width="32.76" height="201.1" fill="url(#s20)"/>
<rect x="2020.46" y="18.9" width="32.76" height="179.1" fill="url(#s21)"/>
<rect x="2052.92" y="18.9" width="32.76" height="136.1" fill="url(#s22)"/>
<rect x="2085.38" y="18.9" width="32.76" height="199.1" fill="url(#s23)"/>
<rect x="2117.84" y="18.9" width="32.76" height="148.1" fill="url(#s24)"/>
</g>
<polyline points="1338.8,70.7 1396.76,65.8 1454.73,79 1483.71,87.9 1512.69,102.7 1541.67,126.5 1570.66,158.9 1599.64,207.9 1628.62,285.2 1657.6,365.7 1686.59,448.4 1715.57,492.1 1744.55,508 1773.53,497.4 1802.51,453.5 1831.5,380 1860.48,298.8 1889.46,268.7 1918.44,213.7 1947.43,154.5 1976.41,112.5 2005.39,86.7 2034.37,64.1 2092.34,82.3 2150.3,18.9" fill="none" stroke="#0000ff" stroke-width="1.5" stroke-linejoin="miter"/>
<rect x="1338.3" y="748.8" width="813.1" height="627.9" fill="#000"/>
<g filter="url(#f4)"><g clip-path="url(#c4)">
<rect x="1338.3" y="748.8" width="813.1" height="627.9" fill="#000"/>
<ellipse transform="translate(1695 1042) rotate(-26) scale(800 320)" cx="0" cy="0" rx="1" ry="1" fill="url(#g4a)" opacity="0.22"/>
<ellipse transform="translate(1715 1028) rotate(-30) scale(460 160)" cx="0" cy="0" rx="1" ry="1" fill="url(#g4a)" opacity="0.31"/>
<ellipse transform="translate(1730 1015) rotate(-33) scale(215 64)" cx="0" cy="0" rx="1" ry="1" fill="url(#g4a)" opacity="0.3"/>
</g></g>
<g filter="url(#cm)" shape-rendering="crispEdges">
<rect x="1342.3" y="1508.3" width="817.7" height="630.8" fill="#000"/>
<rect x="1436.65" y="1834" width="31.75" height="305.1" fill="url(#h3)"/>
<rect x="1468.1" y="1814" width="31.75" height="325.1" fill="url(#h4)"/>
<rect x="1499.55" y="1802.6" width="31.75" height="332.8" fill="url(#h5)"/>
<rect x="1531" y="1783" width="31.75" height="320" fill="url(#h6)"/>
<rect x="1562.45" y="1774.4" width="31.75" height="307.2" fill="url(#h7)"/>
<rect x="1593.9" y="1760.8" width="31.75" height="294.4" fill="url(#h8)"/>
<rect x="1625.35" y="1740" width="31.75" height="288" fill="url(#h9)"/>
<rect x="1656.8" y="1719.7" width="31.75" height="281.6" fill="url(#h10)"/>
<rect x="1688.25" y="1687.2" width="31.75" height="281.6" fill="url(#h11)"/>
<rect x="1719.7" y="1658.9" width="31.75" height="281.6" fill="url(#h12)"/>
<rect x="1751.15" y="1635" width="31.75" height="281.6" fill="url(#h13)"/>
<rect x="1782.6" y="1617.6" width="31.75" height="281.6" fill="url(#h14)"/>
<rect x="1814.05" y="1590.8" width="31.75" height="294.4" fill="url(#h15)"/>
<rect x="1845.5" y="1567.9" width="31.75" height="307.2" fill="url(#h16)"/>
<rect x="1876.95" y="1543.2" width="31.75" height="339.2" fill="url(#h17)"/>
<rect x="1908.4" y="1528" width="31.75" height="352" fill="url(#h18)"/>
<rect x="1939.85" y="1510.6" width="31.75" height="364.8" fill="url(#h19)"/>
<rect x="1971.3" y="1508.3" width="31.75" height="365.7" fill="url(#h20)"/>
<rect x="2002.75" y="1508.3" width="31.75" height="363.8" fill="url(#h21)"/>
<rect x="2034.2" y="1508.3" width="31.75" height="361.5" fill="url(#h22)"/>
<rect x="2065.65" y="1508.3" width="31.75" height="354.9" fill="url(#h23)"/>
<rect x="2097.1" y="1508.3" width="31.75" height="342.9" fill="url(#h24)"/>
<rect x="2128.55" y="1508.3" width="31.75" height="332.9" fill="url(#h25)"/>
</g>
<path d="M97.4 6.4L97.4 18.9M97.4 645.2L97.4 657.7M113.12 12.6L113.12 18.9M113.12 645.2L113.12 651.5M128.84 12.6L128.84 18.9M128.84 645.2L128.84 651.5M144.56 12.6L144.56 18.9M144.56 645.2L144.56 651.5M160.28 12.6L160.28 18.9M160.28 645.2L160.28 651.5M176 12.6L176 18.9M176 645.2L176 651.5M191.72 12.6L191.72 18.9M191.72 645.2L191.72 651.5M207.44 12.6L207.44 18.9M207.44 645.2L207.44 651.5M223.16 12.6L223.16 18.9M223.16 645.2L223.16 651.5M238.88 12.6L238.88 18.9M238.88 645.2L238.88 651.5M254.6 6.4L254.6 18.9M254.6 645.2L254.6 657.7M270.32 12.6L270.32 18.9M270.32 645.2L270.32 651.5M286.04 12.6L286.04 18.9M286.04 645.2L286.04 651.5M301.76 12.6L301.76 18.9M301.76 645.2L301.76 651.5M317.48 12.6L317.48 18.9M317.48 645.2L317.48 651.5M333.2 12.6L333.2 18.9M333.2 645.2L333.2 651.5M348.92 12.6L348.92 18.9M348.92 645.2L348.92 651.5M364.64 12.6L364.64 18.9M364.64 645.2L364.64 651.5M380.36 12.6L380.36 18.9M380.36 645.2L380.36 651.5M396.09 12.6L396.09 18.9M396.09 645.2L396.09 651.5M411.81 6.4L411.81 18.9M411.81 645.2L411.81 657.7M427.53 12.6L427.53 18.9M427.53 645.2L427.53 651.5M443.25 12.6L443.25 18.9M443.25 645.2L443.25 651.5M458.97 12.6L458.97 18.9M458.97 645.2L458.97 651.5M474.69 12.6L474.69 18.9M474.69 645.2L474.69 651.5M490.41 12.6L490.41 18.9M490.41 645.2L490.41 651.5M506.13 12.6L506.13 18.9M506.13 645.2L506.13 651.5M521.85 12.6L521.85 18.9M521.85 645.2L521.85 651.5M537.57 12.6L537.57 18.9M537.57 645.2L537.57 651.5M553.29 12.6L553.29 18.9M553.29 645.2L553.29 651.5M569.01 6.4L569.01 18.9M569.01 645.2L569.01 657.7M584.73 12.6L584.73 18.9M584.73 645.2L584.73 651.5M600.45 12.6L600.45 18.9M600.45 645.2L600.45 651.5M616.17 12.6L616.17 18.9M616.17 645.2L616.17 651.5M631.89 12.6L631.89 18.9M631.89 645.2L631.89 651.5M647.61 12.6L647.61 18.9M647.61 645.2L647.61 651.5M663.33 12.6L663.33 18.9M663.33 645.2L663.33 651.5M679.05 12.6L679.05 18.9M679.05 645.2L679.05 651.5M694.77 12.6L694.77 18.9M694.77 645.2L694.77 651.5M710.49 12.6L710.49 18.9M710.49 645.2L710.49 651.5M726.21 6.4L726.21 18.9M726.21 645.2L726.21 657.7M741.93 12.6L741.93 18.9M741.93 645.2L741.93 651.5M757.65 12.6L757.65 18.9M757.65 645.2L757.65 651.5M773.37 12.6L773.37 18.9M773.37 645.2L773.37 651.5M789.09 12.6L789.09 18.9M789.09 645.2L789.09 651.5M804.81 12.6L804.81 18.9M804.81 645.2L804.81 651.5M820.53 12.6L820.53 18.9M820.53 645.2L820.53 651.5M836.25 12.6L836.25 18.9M836.25 645.2L836.25 651.5M851.97 12.6L851.97 18.9M851.97 645.2L851.97 651.5M867.69 12.6L867.69 18.9M867.69 645.2L867.69 651.5M883.41 6.4L883.41 18.9M883.41 645.2L883.41 657.7M899.13 12.6L899.13 18.9M899.13 645.2L899.13 651.5M914.85 12.6L914.85 18.9M914.85 645.2L914.85 651.5M930.57 12.6L930.57 18.9M930.57 645.2L930.57 651.5M946.29 12.6L946.29 18.9M946.29 645.2L946.29 651.5M962.01 12.6L962.01 18.9M962.01 645.2L962.01 651.5M977.74 12.6L977.74 18.9M977.74 645.2L977.74 651.5M993.46 12.6L993.46 18.9M993.46 645.2L993.46 651.5M1009.18 12.6L1009.18 18.9M1009.18 645.2L1009.18 651.5M1024.9 12.6L1024.9 18.9M1024.9 645.2L1024.9 651.5M1040.62 6.4L1040.62 18.9M1040.62 645.2L1040.62 657.7M1056.34 12.6L1056.34 18.9M1056.34 645.2L1056.34 651.5M1072.06 12.6L1072.06 18.9M1072.06 645.2L1072.06 651.5M77.9 645.2L97.4 645.2M1073 645.2L1092.5 645.2M87.7 629.79L97.4 629.79M1073 629.79L1082.7 629.79M87.7 614.39L97.4 614.39M1073 614.39L1082.7 614.39M87.7 598.98L97.4 598.98M1073 598.98L1082.7 598.98M87.7 583.57L97.4 583.57M1073 583.57L1082.7 583.57M87.7 568.16L97.4 568.16M1073 568.16L1082.7 568.16M87.7 552.76L97.4 552.76M1073 552.76L1082.7 552.76M87.7 537.35L97.4 537.35M1073 537.35L1082.7 537.35M87.7 521.94L97.4 521.94M1073 521.94L1082.7 521.94M87.7 506.54L97.4 506.54M1073 506.54L1082.7 506.54M77.9 491.13L97.4 491.13M1073 491.13L1092.5 491.13M87.7 475.72L97.4 475.72M1073 475.72L1082.7 475.72M87.7 460.31L97.4 460.31M1073 460.31L1082.7 460.31M87.7 444.91L97.4 444.91M1073 444.91L1082.7 444.91M87.7 429.5L97.4 429.5M1073 429.5L1082.7 429.5M87.7 414.09L97.4 414.09M1073 414.09L1082.7 414.09M87.7 398.69L97.4 398.69M1073 398.69L1082.7 398.69M87.7 383.28L97.4 383.28M1073 383.28L1082.7 383.28M87.7 367.87L97.4 367.87M1073 367.87L1082.7 367.87M87.7 352.46L97.4 352.46M1073 352.46L1082.7 352.46M77.9 337.06L97.4 337.06M1073 337.06L1092.5 337.06M87.7 321.65L97.4 321.65M1073 321.65L1082.7 321.65M87.7 306.24L97.4 306.24M1073 306.24L1082.7 306.24M87.7 290.84L97.4 290.84M1073 290.84L1082.7 290.84M87.7 275.43L97.4 275.43M1073 275.43L1082.7 275.43M87.7 260.02L97.4 260.02M1073 260.02L1082.7 260.02M87.7 244.61L97.4 244.61M1073 244.61L1082.7 244.61M87.7 229.21L97.4 229.21M1073 229.21L1082.7 229.21M87.7 213.8L97.4 213.8M1073 213.8L1082.7 213.8M87.7 198.39L97.4 198.39M1073 198.39L1082.7 198.39M77.9 182.99L97.4 182.99M1073 182.99L1092.5 182.99M87.7 167.58L97.4 167.58M1073 167.58L1082.7 167.58M87.7 152.17L97.4 152.17M1073 152.17L1082.7 152.17M87.7 136.76L97.4 136.76M1073 136.76L1082.7 136.76M87.7 121.36L97.4 121.36M1073 121.36L1082.7 121.36M87.7 105.95L97.4 105.95M1073 105.95L1082.7 105.95M87.7 90.54L97.4 90.54M1073 90.54L1082.7 90.54M87.7 75.14L97.4 75.14M1073 75.14L1082.7 75.14M87.7 59.73L97.4 59.73M1073 59.73L1082.7 59.73M87.7 44.32L97.4 44.32M1073 44.32L1082.7 44.32M77.9 28.91L97.4 28.91M1073 28.91L1092.5 28.91" stroke="#000" stroke-width="1.45" fill="none"/><rect x="97.4" y="18.9" width="975.6" height="626.3" fill="none" stroke="#000" stroke-width="1.6"/>
<text x="69.8" y="645.5" font-size="28" text-anchor="end" fill="#000">0</text>
<text x="69.8" y="500.45" font-size="28" text-anchor="end" fill="#000">10</text>
<text x="69.8" y="346.38" font-size="28" text-anchor="end" fill="#000">20</text>
<text x="69.8" y="192.31" font-size="28" text-anchor="end" fill="#000">30</text>
<text x="69.8" y="38.24" font-size="28" text-anchor="end" fill="#000">40</text>
<text transform="translate(19 332.05) rotate(-90)" font-size="28" text-anchor="middle">arcsec</text>
<path d="M97.4 737.3L97.4 749.8M97.4 1376.4L97.4 1388.9M113.11 743.5L113.11 749.8M113.11 1376.4L113.11 1382.7M128.83 743.5L128.83 749.8M128.83 1376.4L128.83 1382.7M144.54 743.5L144.54 749.8M144.54 1376.4L144.54 1382.7M160.26 743.5L160.26 749.8M160.26 1376.4L160.26 1382.7M175.97 743.5L175.97 749.8M175.97 1376.4L175.97 1382.7M191.68 743.5L191.68 749.8M191.68 1376.4L191.68 1382.7M207.4 743.5L207.4 749.8M207.4 1376.4L207.4 1382.7M223.11 743.5L223.11 749.8M223.11 1376.4L223.11 1382.7M238.82 743.5L238.82 749.8M238.82 1376.4L238.82 1382.7M254.54 737.3L254.54 749.8M254.54 1376.4L254.54 1388.9M270.25 743.5L270.25 749.8M270.25 1376.4L270.25 1382.7M285.97 743.5L285.97 749.8M285.97 1376.4L285.97 1382.7M301.68 743.5L301.68 749.8M301.68 1376.4L301.68 1382.7M317.39 743.5L317.39 749.8M317.39 1376.4L317.39 1382.7M333.11 743.5L333.11 749.8M333.11 1376.4L333.11 1382.7M348.82 743.5L348.82 749.8M348.82 1376.4L348.82 1382.7M364.54 743.5L364.54 749.8M364.54 1376.4L364.54 1382.7M380.25 743.5L380.25 749.8M380.25 1376.4L380.25 1382.7M395.96 743.5L395.96 749.8M395.96 1376.4L395.96 1382.7M411.68 737.3L411.68 749.8M411.68 1376.4L411.68 1388.9M427.39 743.5L427.39 749.8M427.39 1376.4L427.39 1382.7M443.1 743.5L443.1 749.8M443.1 1376.4L443.1 1382.7M458.82 743.5L458.82 749.8M458.82 1376.4L458.82 1382.7M474.53 743.5L474.53 749.8M474.53 1376.4L474.53 1382.7M490.25 743.5L490.25 749.8M490.25 1376.4L490.25 1382.7M505.96 743.5L505.96 749.8M505.96 1376.4L505.96 1382.7M521.67 743.5L521.67 749.8M521.67 1376.4L521.67 1382.7M537.39 743.5L537.39 749.8M537.39 1376.4L537.39 1382.7M553.1 743.5L553.1 749.8M553.1 1376.4L553.1 1382.7M568.81 737.3L568.81 749.8M568.81 1376.4L568.81 1388.9M584.53 743.5L584.53 749.8M584.53 1376.4L584.53 1382.7M600.24 743.5L600.24 749.8M600.24 1376.4L600.24 1382.7M615.96 743.5L615.96 749.8M615.96 1376.4L615.96 1382.7M631.67 743.5L631.67 749.8M631.67 1376.4L631.67 1382.7M647.38 743.5L647.38 749.8M647.38 1376.4L647.38 1382.7M663.1 743.5L663.1 749.8M663.1 1376.4L663.1 1382.7M678.81 743.5L678.81 749.8M678.81 1376.4L678.81 1382.7M694.53 743.5L694.53 749.8M694.53 1376.4L694.53 1382.7M710.24 743.5L710.24 749.8M710.24 1376.4L710.24 1382.7M725.95 737.3L725.95 749.8M725.95 1376.4L725.95 1388.9M741.67 743.5L741.67 749.8M741.67 1376.4L741.67 1382.7M757.38 743.5L757.38 749.8M757.38 1376.4L757.38 1382.7M773.09 743.5L773.09 749.8M773.09 1376.4L773.09 1382.7M788.81 743.5L788.81 749.8M788.81 1376.4L788.81 1382.7M804.52 743.5L804.52 749.8M804.52 1376.4L804.52 1382.7M820.24 743.5L820.24 749.8M820.24 1376.4L820.24 1382.7M835.95 743.5L835.95 749.8M835.95 1376.4L835.95 1382.7M851.66 743.5L851.66 749.8M851.66 1376.4L851.66 1382.7M867.38 743.5L867.38 749.8M867.38 1376.4L867.38 1382.7M883.09 737.3L883.09 749.8M883.09 1376.4L883.09 1388.9M898.81 743.5L898.81 749.8M898.81 1376.4L898.81 1382.7M914.52 743.5L914.52 749.8M914.52 1376.4L914.52 1382.7M930.23 743.5L930.23 749.8M930.23 1376.4L930.23 1382.7M945.95 743.5L945.95 749.8M945.95 1376.4L945.95 1382.7M961.66 743.5L961.66 749.8M961.66 1376.4L961.66 1382.7M977.37 743.5L977.37 749.8M977.37 1376.4L977.37 1382.7M993.09 743.5L993.09 749.8M993.09 1376.4L993.09 1382.7M1008.8 743.5L1008.8 749.8M1008.8 1376.4L1008.8 1382.7M1024.52 743.5L1024.52 749.8M1024.52 1376.4L1024.52 1382.7M1040.23 737.3L1040.23 749.8M1040.23 1376.4L1040.23 1388.9M1055.94 743.5L1055.94 749.8M1055.94 1376.4L1055.94 1382.7M1071.66 743.5L1071.66 749.8M1071.66 1376.4L1071.66 1382.7M77.9 1376.4L97.4 1376.4M1072.6 1376.4L1092.1 1376.4M87.7 1360.99L97.4 1360.99M1072.6 1360.99L1082.3 1360.99M87.7 1345.57L97.4 1345.57M1072.6 1345.57L1082.3 1345.57M87.7 1330.16L97.4 1330.16M1072.6 1330.16L1082.3 1330.16M87.7 1314.74L97.4 1314.74M1072.6 1314.74L1082.3 1314.74M87.7 1299.33L97.4 1299.33M1072.6 1299.33L1082.3 1299.33M87.7 1283.91L97.4 1283.91M1072.6 1283.91L1082.3 1283.91M87.7 1268.5L97.4 1268.5M1072.6 1268.5L1082.3 1268.5M87.7 1253.08L97.4 1253.08M1072.6 1253.08L1082.3 1253.08M87.7 1237.67L97.4 1237.67M1072.6 1237.67L1082.3 1237.67M77.9 1222.25L97.4 1222.25M1072.6 1222.25L1092.1 1222.25M87.7 1206.84L97.4 1206.84M1072.6 1206.84L1082.3 1206.84M87.7 1191.43L97.4 1191.43M1072.6 1191.43L1082.3 1191.43M87.7 1176.01L97.4 1176.01M1072.6 1176.01L1082.3 1176.01M87.7 1160.6L97.4 1160.6M1072.6 1160.6L1082.3 1160.6M87.7 1145.18L97.4 1145.18M1072.6 1145.18L1082.3 1145.18M87.7 1129.77L97.4 1129.77M1072.6 1129.77L1082.3 1129.77M87.7 1114.35L97.4 1114.35M1072.6 1114.35L1082.3 1114.35M87.7 1098.94L97.4 1098.94M1072.6 1098.94L1082.3 1098.94M87.7 1083.52L97.4 1083.52M1072.6 1083.52L1082.3 1083.52M77.9 1068.11L97.4 1068.11M1072.6 1068.11L1092.1 1068.11M87.7 1052.7L97.4 1052.7M1072.6 1052.7L1082.3 1052.7M87.7 1037.28L97.4 1037.28M1072.6 1037.28L1082.3 1037.28M87.7 1021.87L97.4 1021.87M1072.6 1021.87L1082.3 1021.87M87.7 1006.45L97.4 1006.45M1072.6 1006.45L1082.3 1006.45M87.7 991.04L97.4 991.04M1072.6 991.04L1082.3 991.04M87.7 975.62L97.4 975.62M1072.6 975.62L1082.3 975.62M87.7 960.21L97.4 960.21M1072.6 960.21L1082.3 960.21M87.7 944.79L97.4 944.79M1072.6 944.79L1082.3 944.79M87.7 929.38L97.4 929.38M1072.6 929.38L1082.3 929.38M77.9 913.96L97.4 913.96M1072.6 913.96L1092.1 913.96M87.7 898.55L97.4 898.55M1072.6 898.55L1082.3 898.55M87.7 883.14L97.4 883.14M1072.6 883.14L1082.3 883.14M87.7 867.72L97.4 867.72M1072.6 867.72L1082.3 867.72M87.7 852.31L97.4 852.31M1072.6 852.31L1082.3 852.31M87.7 836.89L97.4 836.89M1072.6 836.89L1082.3 836.89M87.7 821.48L97.4 821.48M1072.6 821.48L1082.3 821.48M87.7 806.06L97.4 806.06M1072.6 806.06L1082.3 806.06M87.7 790.65L97.4 790.65M1072.6 790.65L1082.3 790.65M87.7 775.23L97.4 775.23M1072.6 775.23L1082.3 775.23M77.9 759.82L97.4 759.82M1072.6 759.82L1092.1 759.82" stroke="#000" stroke-width="1.45" fill="none"/><rect x="97.4" y="749.8" width="975.2" height="626.6" fill="none" stroke="#000" stroke-width="1.6"/>
<text x="69.8" y="1376.7" font-size="28" text-anchor="end" fill="#000">0</text>
<text x="69.8" y="1231.58" font-size="28" text-anchor="end" fill="#000">10</text>
<text x="69.8" y="1077.43" font-size="28" text-anchor="end" fill="#000">20</text>
<text x="69.8" y="923.29" font-size="28" text-anchor="end" fill="#000">30</text>
<text x="69.8" y="769.14" font-size="28" text-anchor="end" fill="#000">40</text>
<text x="97.4" y="1424.2" font-size="28" text-anchor="middle" fill="#000">0</text>
<text x="254.54" y="1424.2" font-size="28" text-anchor="middle" fill="#000">10</text>
<text x="411.68" y="1424.2" font-size="28" text-anchor="middle" fill="#000">20</text>
<text x="568.81" y="1424.2" font-size="28" text-anchor="middle" fill="#000">30</text>
<text x="725.95" y="1424.2" font-size="28" text-anchor="middle" fill="#000">40</text>
<text x="883.09" y="1424.2" font-size="28" text-anchor="middle" fill="#000">50</text>
<text x="1040.23" y="1424.2" font-size="28" text-anchor="middle" fill="#000">60</text>
<text transform="translate(19 1063.1) rotate(-90)" font-size="28" text-anchor="middle">arcsec</text>
<text x="585" y="736.7" font-size="33.6" text-anchor="middle" fill="#000">pEW (Å)</text><rect x="1145.4" y="749.8" width="21.7" height="626.2" fill="url(#redtemp)"/>
<path d="M1145.4 781.11L1147.6 781.11M1164.9 781.11L1167.1 781.11M1145.4 812.42L1147.6 812.42M1164.9 812.42L1167.1 812.42M1145.4 843.73L1147.6 843.73M1164.9 843.73L1167.1 843.73M1145.4 875.04L1147.6 875.04M1164.9 875.04L1167.1 875.04M1145.4 906.35L1147.6 906.35M1164.9 906.35L1167.1 906.35M1145.4 937.66L1147.6 937.66M1164.9 937.66L1167.1 937.66M1145.4 968.97L1147.6 968.97M1164.9 968.97L1167.1 968.97M1145.4 1000.28L1147.6 1000.28M1164.9 1000.28L1167.1 1000.28M1145.4 1031.59L1147.6 1031.59M1164.9 1031.59L1167.1 1031.59M1145.4 1062.9L1147.6 1062.9M1164.9 1062.9L1167.1 1062.9M1145.4 1094.21L1147.6 1094.21M1164.9 1094.21L1167.1 1094.21M1145.4 1125.52L1147.6 1125.52M1164.9 1125.52L1167.1 1125.52M1145.4 1156.83L1147.6 1156.83M1164.9 1156.83L1167.1 1156.83M1145.4 1188.14L1147.6 1188.14M1164.9 1188.14L1167.1 1188.14M1145.4 1219.45L1147.6 1219.45M1164.9 1219.45L1167.1 1219.45M1145.4 1250.76L1147.6 1250.76M1164.9 1250.76L1167.1 1250.76M1145.4 1282.07L1147.6 1282.07M1164.9 1282.07L1167.1 1282.07M1145.4 1313.38L1147.6 1313.38M1164.9 1313.38L1167.1 1313.38M1145.4 1344.69L1147.6 1344.69M1164.9 1344.69L1167.1 1344.69" stroke="#000" stroke-width="1.1" fill="none"/>
<rect x="1145.4" y="749.8" width="21.7" height="626.2" fill="none" stroke="#000" stroke-width="1.4"/>
<text x="1139.2" y="762.4" font-size="21.3" text-anchor="end" fill="#000">0.89</text>
<text x="1139.2" y="913.98" font-size="21.3" text-anchor="end" fill="#000">0.82</text>
<text x="1139.2" y="1070.53" font-size="21.3" text-anchor="end" fill="#000">0.74</text>
<text x="1139.2" y="1227.08" font-size="21.3" text-anchor="end" fill="#000">0.67</text>
<text x="1139.2" y="1376" font-size="21.3" text-anchor="end" fill="#000">0.60</text>
<path d="M95 1496.3L95 1508.8M95 2138.6L95 2151.1M110.82 1502.5L110.82 1508.8M110.82 2138.6L110.82 2144.9M126.63 1502.5L126.63 1508.8M126.63 2138.6L126.63 2144.9M142.45 1502.5L142.45 1508.8M142.45 2138.6L142.45 2144.9M158.27 1502.5L158.27 1508.8M158.27 2138.6L158.27 2144.9M174.09 1502.5L174.09 1508.8M174.09 2138.6L174.09 2144.9M189.9 1502.5L189.9 1508.8M189.9 2138.6L189.9 2144.9M205.72 1502.5L205.72 1508.8M205.72 2138.6L205.72 2144.9M221.54 1502.5L221.54 1508.8M221.54 2138.6L221.54 2144.9M237.36 1502.5L237.36 1508.8M237.36 2138.6L237.36 2144.9M253.17 1496.3L253.17 1508.8M253.17 2138.6L253.17 2151.1M268.99 1502.5L268.99 1508.8M268.99 2138.6L268.99 2144.9M284.81 1502.5L284.81 1508.8M284.81 2138.6L284.81 2144.9M300.63 1502.5L300.63 1508.8M300.63 2138.6L300.63 2144.9M316.44 1502.5L316.44 1508.8M316.44 2138.6L316.44 2144.9M332.26 1502.5L332.26 1508.8M332.26 2138.6L332.26 2144.9M348.08 1502.5L348.08 1508.8M348.08 2138.6L348.08 2144.9M363.9 1502.5L363.9 1508.8M363.9 2138.6L363.9 2144.9M379.71 1502.5L379.71 1508.8M379.71 2138.6L379.71 2144.9M395.53 1502.5L395.53 1508.8M395.53 2138.6L395.53 2144.9M411.35 1496.3L411.35 1508.8M411.35 2138.6L411.35 2151.1M427.17 1502.5L427.17 1508.8M427.17 2138.6L427.17 2144.9M442.98 1502.5L442.98 1508.8M442.98 2138.6L442.98 2144.9M458.8 1502.5L458.8 1508.8M458.8 2138.6L458.8 2144.9M474.62 1502.5L474.62 1508.8M474.62 2138.6L474.62 2144.9M490.44 1502.5L490.44 1508.8M490.44 2138.6L490.44 2144.9M506.25 1502.5L506.25 1508.8M506.25 2138.6L506.25 2144.9M522.07 1502.5L522.07 1508.8M522.07 2138.6L522.07 2144.9M537.89 1502.5L537.89 1508.8M537.89 2138.6L537.89 2144.9M553.71 1502.5L553.71 1508.8M553.71 2138.6L553.71 2144.9M569.52 1496.3L569.52 1508.8M569.52 2138.6L569.52 2151.1M585.34 1502.5L585.34 1508.8M585.34 2138.6L585.34 2144.9M601.16 1502.5L601.16 1508.8M601.16 2138.6L601.16 2144.9M616.98 1502.5L616.98 1508.8M616.98 2138.6L616.98 2144.9M632.79 1502.5L632.79 1508.8M632.79 2138.6L632.79 2144.9M648.61 1502.5L648.61 1508.8M648.61 2138.6L648.61 2144.9M664.43 1502.5L664.43 1508.8M664.43 2138.6L664.43 2144.9M680.25 1502.5L680.25 1508.8M680.25 2138.6L680.25 2144.9M696.06 1502.5L696.06 1508.8M696.06 2138.6L696.06 2144.9M711.88 1502.5L711.88 1508.8M711.88 2138.6L711.88 2144.9M727.7 1496.3L727.7 1508.8M727.7 2138.6L727.7 2151.1M743.52 1502.5L743.52 1508.8M743.52 2138.6L743.52 2144.9M759.33 1502.5L759.33 1508.8M759.33 2138.6L759.33 2144.9M775.15 1502.5L775.15 1508.8M775.15 2138.6L775.15 2144.9M790.97 1502.5L790.97 1508.8M790.97 2138.6L790.97 2144.9M806.79 1502.5L806.79 1508.8M806.79 2138.6L806.79 2144.9M822.6 1502.5L822.6 1508.8M822.6 2138.6L822.6 2144.9M838.42 1502.5L838.42 1508.8M838.42 2138.6L838.42 2144.9M854.24 1502.5L854.24 1508.8M854.24 2138.6L854.24 2144.9M870.06 1502.5L870.06 1508.8M870.06 2138.6L870.06 2144.9M885.87 1496.3L885.87 1508.8M885.87 2138.6L885.87 2151.1M901.69 1502.5L901.69 1508.8M901.69 2138.6L901.69 2144.9M917.51 1502.5L917.51 1508.8M917.51 2138.6L917.51 2144.9M933.33 1502.5L933.33 1508.8M933.33 2138.6L933.33 2144.9M949.14 1502.5L949.14 1508.8M949.14 2138.6L949.14 2144.9M964.96 1502.5L964.96 1508.8M964.96 2138.6L964.96 2144.9M980.78 1502.5L980.78 1508.8M980.78 2138.6L980.78 2144.9M996.6 1502.5L996.6 1508.8M996.6 2138.6L996.6 2144.9M1012.41 1502.5L1012.41 1508.8M1012.41 2138.6L1012.41 2144.9M1028.23 1502.5L1028.23 1508.8M1028.23 2138.6L1028.23 2144.9M1044.05 1496.3L1044.05 1508.8M1044.05 2138.6L1044.05 2151.1M1059.87 1502.5L1059.87 1508.8M1059.87 2138.6L1059.87 2144.9M1075.68 1502.5L1075.68 1508.8M1075.68 2138.6L1075.68 2144.9M75.5 2138.6L95 2138.6M1076 2138.6L1095.5 2138.6M85.3 2123.1L95 2123.1M1076 2123.1L1085.7 2123.1M85.3 2107.6L95 2107.6M1076 2107.6L1085.7 2107.6M85.3 2092.1L95 2092.1M1076 2092.1L1085.7 2092.1M85.3 2076.6L95 2076.6M1076 2076.6L1085.7 2076.6M85.3 2061.1L95 2061.1M1076 2061.1L1085.7 2061.1M85.3 2045.59L95 2045.59M1076 2045.59L1085.7 2045.59M85.3 2030.09L95 2030.09M1076 2030.09L1085.7 2030.09M85.3 2014.59L95 2014.59M1076 2014.59L1085.7 2014.59M85.3 1999.09L95 1999.09M1076 1999.09L1085.7 1999.09M75.5 1983.59L95 1983.59M1076 1983.59L1095.5 1983.59M85.3 1968.09L95 1968.09M1076 1968.09L1085.7 1968.09M85.3 1952.59L95 1952.59M1076 1952.59L1085.7 1952.59M85.3 1937.09L95 1937.09M1076 1937.09L1085.7 1937.09M85.3 1921.59L95 1921.59M1076 1921.59L1085.7 1921.59M85.3 1906.09L95 1906.09M1076 1906.09L1085.7 1906.09M85.3 1890.59L95 1890.59M1076 1890.59L1085.7 1890.59M85.3 1875.09L95 1875.09M1076 1875.09L1085.7 1875.09M85.3 1859.58L95 1859.58M1076 1859.58L1085.7 1859.58M85.3 1844.08L95 1844.08M1076 1844.08L1085.7 1844.08M75.5 1828.58L95 1828.58M1076 1828.58L1095.5 1828.58M85.3 1813.08L95 1813.08M1076 1813.08L1085.7 1813.08M85.3 1797.58L95 1797.58M1076 1797.58L1085.7 1797.58M85.3 1782.08L95 1782.08M1076 1782.08L1085.7 1782.08M85.3 1766.58L95 1766.58M1076 1766.58L1085.7 1766.58M85.3 1751.08L95 1751.08M1076 1751.08L1085.7 1751.08M85.3 1735.58L95 1735.58M1076 1735.58L1085.7 1735.58M85.3 1720.08L95 1720.08M1076 1720.08L1085.7 1720.08M85.3 1704.58L95 1704.58M1076 1704.58L1085.7 1704.58M85.3 1689.08L95 1689.08M1076 1689.08L1085.7 1689.08M75.5 1673.57L95 1673.57M1076 1673.57L1095.5 1673.57M85.3 1658.07L95 1658.07M1076 1658.07L1085.7 1658.07M85.3 1642.57L95 1642.57M1076 1642.57L1085.7 1642.57M85.3 1627.07L95 1627.07M1076 1627.07L1085.7 1627.07M85.3 1611.57L95 1611.57M1076 1611.57L1085.7 1611.57M85.3 1596.07L95 1596.07M1076 1596.07L1085.7 1596.07M85.3 1580.57L95 1580.57M1076 1580.57L1085.7 1580.57M85.3 1565.07L95 1565.07M1076 1565.07L1085.7 1565.07M85.3 1549.57L95 1549.57M1076 1549.57L1085.7 1549.57M85.3 1534.07L95 1534.07M1076 1534.07L1085.7 1534.07M75.5 1518.57L95 1518.57M1076 1518.57L1095.5 1518.57" stroke="#000" stroke-width="1.45" fill="none"/><rect x="95" y="1508.8" width="981" height="629.8" fill="none" stroke="#000" stroke-width="1.6"/>
<text x="68.4" y="2138.9" font-size="28" text-anchor="end" fill="#000">0</text>
<text x="68.4" y="1992.92" font-size="28" text-anchor="end" fill="#000">10</text>
<text x="68.4" y="1837.91" font-size="28" text-anchor="end" fill="#000">20</text>
<text x="68.4" y="1682.9" font-size="28" text-anchor="end" fill="#000">30</text>
<text x="68.4" y="1527.89" font-size="28" text-anchor="end" fill="#000">40</text>
<text x="95" y="2186" font-size="28" text-anchor="middle" fill="#000">0</text>
<text x="253.17" y="2186" font-size="28" text-anchor="middle" fill="#000">10</text>
<text x="411.35" y="2186" font-size="28" text-anchor="middle" fill="#000">20</text>
<text x="569.52" y="2186" font-size="28" text-anchor="middle" fill="#000">30</text>
<text x="727.7" y="2186" font-size="28" text-anchor="middle" fill="#000">40</text>
<text x="885.87" y="2186" font-size="28" text-anchor="middle" fill="#000">50</text>
<text x="1044.05" y="2186" font-size="28" text-anchor="middle" fill="#000">60</text>
<text transform="translate(16.6 1823.7) rotate(-90)" font-size="28" text-anchor="middle">arcsec</text>
<text x="585.5" y="1495.7" font-size="33.6" text-anchor="middle" fill="#000">Line width (Å)</text>
<text x="585.5" y="2214.5" font-size="28" text-anchor="middle" fill="#000">arcsec</text><rect x="1148.8" y="1508.8" width="21.8" height="629.8" fill="url(#redtemp)"/>
<path d="M1148.8 1540.29L1151 1540.29M1168.4 1540.29L1170.6 1540.29M1148.8 1571.78L1151 1571.78M1168.4 1571.78L1170.6 1571.78M1148.8 1603.27L1151 1603.27M1168.4 1603.27L1170.6 1603.27M1148.8 1634.76L1151 1634.76M1168.4 1634.76L1170.6 1634.76M1148.8 1666.25L1151 1666.25M1168.4 1666.25L1170.6 1666.25M1148.8 1697.74L1151 1697.74M1168.4 1697.74L1170.6 1697.74M1148.8 1729.23L1151 1729.23M1168.4 1729.23L1170.6 1729.23M1148.8 1760.72L1151 1760.72M1168.4 1760.72L1170.6 1760.72M1148.8 1792.21L1151 1792.21M1168.4 1792.21L1170.6 1792.21M1148.8 1823.7L1151 1823.7M1168.4 1823.7L1170.6 1823.7M1148.8 1855.19L1151 1855.19M1168.4 1855.19L1170.6 1855.19M1148.8 1886.68L1151 1886.68M1168.4 1886.68L1170.6 1886.68M1148.8 1918.17L1151 1918.17M1168.4 1918.17L1170.6 1918.17M1148.8 1949.66L1151 1949.66M1168.4 1949.66L1170.6 1949.66M1148.8 1981.15L1151 1981.15M1168.4 1981.15L1170.6 1981.15M1148.8 2012.64L1151 2012.64M1168.4 2012.64L1170.6 2012.64M1148.8 2044.13L1151 2044.13M1168.4 2044.13L1170.6 2044.13M1148.8 2075.62L1151 2075.62M1168.4 2075.62L1170.6 2075.62M1148.8 2107.11L1151 2107.11M1168.4 2107.11L1170.6 2107.11" stroke="#000" stroke-width="1.1" fill="none"/>
<rect x="1148.8" y="1508.8" width="21.8" height="629.8" fill="none" stroke="#000" stroke-width="1.4"/>
<text x="1142.6" y="1521.4" font-size="21.3" text-anchor="end" fill="#000">1.40</text>
<text x="1142.6" y="1673.88" font-size="21.3" text-anchor="end" fill="#000">1.17</text>
<text x="1142.6" y="1831.33" font-size="21.3" text-anchor="end" fill="#000">0.95</text>
<text x="1142.6" y="1988.78" font-size="21.3" text-anchor="end" fill="#000">0.72</text>
<text x="1142.6" y="2138.6" font-size="21.3" text-anchor="end" fill="#000">0.50</text>
<path d="M1338.8 9.5L1338.8 23.6M1338.8 640.5L1338.8 654.6M1367.78 9.5L1367.78 23.6M1367.78 640.5L1367.78 654.6M1396.76 9.5L1396.76 23.6M1396.76 640.5L1396.76 654.6M1425.75 9.5L1425.75 23.6M1425.75 640.5L1425.75 654.6M1454.73 -0.1L1454.73 28.4M1454.73 635.7L1454.73 664.2M1483.71 9.5L1483.71 23.6M1483.71 640.5L1483.71 654.6M1512.69 9.5L1512.69 23.6M1512.69 640.5L1512.69 654.6M1541.68 9.5L1541.68 23.6M1541.68 640.5L1541.68 654.6M1570.66 9.5L1570.66 23.6M1570.66 640.5L1570.66 654.6M1599.64 -0.1L1599.64 28.4M1599.64 635.7L1599.64 664.2M1628.62 9.5L1628.62 23.6M1628.62 640.5L1628.62 654.6M1657.6 9.5L1657.6 23.6M1657.6 640.5L1657.6 654.6M1686.59 9.5L1686.59 23.6M1686.59 640.5L1686.59 654.6M1715.57 9.5L1715.57 23.6M1715.57 640.5L1715.57 654.6M1744.55 -0.1L1744.55 28.4M1744.55 635.7L1744.55 664.2M1773.53 9.5L1773.53 23.6M1773.53 640.5L1773.53 654.6M1802.51 9.5L1802.51 23.6M1802.51 640.5L1802.51 654.6M1831.5 9.5L1831.5 23.6M1831.5 640.5L1831.5 654.6M1860.48 9.5L1860.48 23.6M1860.48 640.5L1860.48 654.6M1889.46 -0.1L1889.46 28.4M1889.46 635.7L1889.46 664.2M1918.44 9.5L1918.44 23.6M1918.44 640.5L1918.44 654.6M1947.43 9.5L1947.43 23.6M1947.43 640.5L1947.43 654.6M1976.41 9.5L1976.41 23.6M1976.41 640.5L1976.41 654.6M2005.39 9.5L2005.39 23.6M2005.39 640.5L2005.39 654.6M2034.37 -0.1L2034.37 28.4M2034.37 635.7L2034.37 664.2M2063.35 9.5L2063.35 23.6M2063.35 640.5L2063.35 654.6M2092.34 9.5L2092.34 23.6M2092.34 640.5L2092.34 654.6M2121.32 9.5L2121.32 23.6M2121.32 640.5L2121.32 654.6M2150.3 9.5L2150.3 23.6M2150.3 640.5L2150.3 654.6M1322.1 645.2L1338.8 645.2M2150.3 645.2L2167 645.2M1330.5 616.73L1338.8 616.73M2150.3 616.73L2158.6 616.73M1330.5 588.26L1338.8 588.26M2150.3 588.26L2158.6 588.26M1330.5 559.8L1338.8 559.8M2150.3 559.8L2158.6 559.8M1330.5 531.33L1338.8 531.33M2150.3 531.33L2158.6 531.33M1322.1 502.86L1338.8 502.86M2150.3 502.86L2167 502.86M1330.5 474.39L1338.8 474.39M2150.3 474.39L2158.6 474.39M1330.5 445.92L1338.8 445.92M2150.3 445.92L2158.6 445.92M1330.5 417.45L1338.8 417.45M2150.3 417.45L2158.6 417.45M1330.5 388.99L1338.8 388.99M2150.3 388.99L2158.6 388.99M1322.1 360.52L1338.8 360.52M2150.3 360.52L2167 360.52M1330.5 332.05L1338.8 332.05M2150.3 332.05L2158.6 332.05M1330.5 303.58L1338.8 303.58M2150.3 303.58L2158.6 303.58M1330.5 275.11L1338.8 275.11M2150.3 275.11L2158.6 275.11M1330.5 246.65L1338.8 246.65M2150.3 246.65L2158.6 246.65M1322.1 218.18L1338.8 218.18M2150.3 218.18L2167 218.18M1330.5 189.71L1338.8 189.71M2150.3 189.71L2158.6 189.71M1330.5 161.24L1338.8 161.24M2150.3 161.24L2158.6 161.24M1330.5 132.77L1338.8 132.77M2150.3 132.77L2158.6 132.77M1330.5 104.3L1338.8 104.3M2150.3 104.3L2158.6 104.3M1322.1 75.84L1338.8 75.84M2150.3 75.84L2167 75.84M1330.5 47.37L1338.8 47.37M2150.3 47.37L2158.6 47.37M1330.5 18.9L1338.8 18.9M2150.3 18.9L2158.6 18.9" stroke="#000" stroke-width="1.35" fill="none"/><rect x="1338.8" y="18.9" width="811.5" height="626.3" fill="none" stroke="#000" stroke-width="1.45"/>
<text x="1454.73" y="698.8" font-size="28" text-anchor="middle" fill="#000">−1.0</text>
<text x="1599.64" y="698.8" font-size="28" text-anchor="middle" fill="#000">−0.5</text>
<text x="1744.55" y="698.8" font-size="28" text-anchor="middle" fill="#000">0.0</text>
<text x="1889.46" y="698.8" font-size="28" text-anchor="middle" fill="#000">0.5</text>
<text x="2034.37" y="698.8" font-size="28" text-anchor="middle" fill="#000">1.0</text>
<text x="1744.6" y="730" font-size="28" text-anchor="middle" fill="#000">Δλ (Å)</text>
<text x="1320" y="512.18" font-size="28" text-anchor="end" fill="#000">5.0×10<tspan font-size="17.36" dy="-11.76">−9</tspan></text>
<text x="1320" y="369.84" font-size="28" text-anchor="end" fill="#000">1.0×10<tspan font-size="17.36" dy="-11.76">−8</tspan></text>
<text x="1320" y="227.5" font-size="28" text-anchor="end" fill="#000">1.5×10<tspan font-size="17.36" dy="-11.76">−8</tspan></text>
<text x="1320" y="85.16" font-size="28" text-anchor="end" fill="#000">2.0×10<tspan font-size="17.36" dy="-11.76">−8</tspan></text>
<text x="1315" y="645.8" font-size="28" text-anchor="end" fill="#000">0</text>
<text transform="translate(1193.1 332.05) rotate(-90)" font-size="28" text-anchor="middle">I [W m<tspan font-size="17.36" dy="-11.76">−2</tspan><tspan dy="11.76"> sr</tspan><tspan font-size="17.36" dy="-11.76">−1</tspan><tspan dy="11.76"> Hz</tspan><tspan font-size="17.36" dy="-11.76">−1</tspan><tspan dy="11.76">]</tspan></text>
<path d="M1346.12 1376.7L1346.12 1378.7M1383.71 1376.7L1383.71 1378.7M1421.31 1376.7L1421.31 1378.7M1458.9 1376.7L1458.9 1380.5M1496.5 1376.7L1496.5 1378.7M1534.09 1376.7L1534.09 1378.7M1571.69 1376.7L1571.69 1378.7M1609.28 1376.7L1609.28 1380.5M1646.88 1376.7L1646.88 1378.7M1684.47 1376.7L1684.47 1378.7M1722.07 1376.7L1722.07 1378.7M1759.66 1376.7L1759.66 1380.5M1797.26 1376.7L1797.26 1378.7M1834.85 1376.7L1834.85 1378.7M1872.45 1376.7L1872.45 1378.7M1910.04 1376.7L1910.04 1380.5M1947.64 1376.7L1947.64 1378.7M1985.23 1376.7L1985.23 1378.7M2022.83 1376.7L2022.83 1378.7M2060.42 1376.7L2060.42 1380.5M2098.02 1376.7L2098.02 1378.7M2135.61 1376.7L2135.61 1378.7M1338.3 745L1338.3 748.8M1372.18 746.8L1372.18 748.8M1406.06 746.8L1406.06 748.8M1439.94 746.8L1439.94 748.8M1473.82 745L1473.82 748.8M1507.7 746.8L1507.7 748.8M1541.58 746.8L1541.58 748.8M1575.45 746.8L1575.45 748.8M1609.33 745L1609.33 748.8M1643.21 746.8L1643.21 748.8M1677.09 746.8L1677.09 748.8M1710.97 746.8L1710.97 748.8M1744.85 745L1744.85 748.8M1778.73 746.8L1778.73 748.8M1812.61 746.8L1812.61 748.8M1846.49 746.8L1846.49 748.8M1880.37 745L1880.37 748.8M1914.25 746.8L1914.25 748.8M1948.12 746.8L1948.12 748.8M1982 746.8L1982 748.8M2015.88 745L2015.88 748.8M2049.76 746.8L2049.76 748.8M2083.64 746.8L2083.64 748.8M2117.52 746.8L2117.52 748.8M2151.4 745L2151.4 748.8M1334.5 1376.7L1338.3 1376.7M2151.4 1376.7L2155.2 1376.7M1336.3 1353.63L1338.3 1353.63M2151.4 1353.63L2153.4 1353.63M1336.3 1330.56L1338.3 1330.56M2151.4 1330.56L2153.4 1330.56M1336.3 1307.5L1338.3 1307.5M2151.4 1307.5L2153.4 1307.5M1336.3 1284.43L1338.3 1284.43M2151.4 1284.43L2153.4 1284.43M1334.5 1261.36L1338.3 1261.36M2151.4 1261.36L2155.2 1261.36M1336.3 1238.29L1338.3 1238.29M2151.4 1238.29L2153.4 1238.29M1336.3 1215.23L1338.3 1215.23M2151.4 1215.23L2153.4 1215.23M1336.3 1192.16L1338.3 1192.16M2151.4 1192.16L2153.4 1192.16M1336.3 1169.09L1338.3 1169.09M2151.4 1169.09L2153.4 1169.09M1334.5 1146.02L1338.3 1146.02M2151.4 1146.02L2155.2 1146.02M1336.3 1122.96L1338.3 1122.96M2151.4 1122.96L2153.4 1122.96M1336.3 1099.89L1338.3 1099.89M2151.4 1099.89L2153.4 1099.89M1336.3 1076.82L1338.3 1076.82M2151.4 1076.82L2153.4 1076.82M1336.3 1053.75L1338.3 1053.75M2151.4 1053.75L2153.4 1053.75M1334.5 1030.69L1338.3 1030.69M2151.4 1030.69L2155.2 1030.69M1336.3 1007.62L1338.3 1007.62M2151.4 1007.62L2153.4 1007.62M1336.3 984.55L1338.3 984.55M2151.4 984.55L2153.4 984.55M1336.3 961.48L1338.3 961.48M2151.4 961.48L2153.4 961.48M1336.3 938.42L1338.3 938.42M2151.4 938.42L2153.4 938.42M1334.5 915.35L1338.3 915.35M2151.4 915.35L2155.2 915.35M1336.3 892.28L1338.3 892.28M2151.4 892.28L2153.4 892.28M1336.3 869.21L1338.3 869.21M2151.4 869.21L2153.4 869.21M1336.3 846.15L1338.3 846.15M2151.4 846.15L2153.4 846.15M1336.3 823.08L1338.3 823.08M2151.4 823.08L2153.4 823.08M1334.5 800.01L1338.3 800.01M2151.4 800.01L2155.2 800.01M1336.3 776.94L1338.3 776.94M2151.4 776.94L2153.4 776.94M1336.3 753.87L1338.3 753.87M2151.4 753.87L2153.4 753.87" stroke="#000" stroke-width="1.2" fill="none"/><rect x="1338.3" y="748.8" width="813.1" height="627.9" fill="none" stroke="#000" stroke-width="1"/>
<text x="1458.9" y="1414" font-size="28" text-anchor="middle" fill="#000">0.80</text>
<text x="1609.28" y="1414" font-size="28" text-anchor="middle" fill="#000">0.82</text>
<text x="1759.66" y="1414" font-size="28" text-anchor="middle" fill="#000">0.84</text>
<text x="1910.04" y="1414" font-size="28" text-anchor="middle" fill="#000">0.86</text>
<text x="2060.42" y="1414" font-size="28" text-anchor="middle" fill="#000">0.88</text>
<text x="1327" y="1377" font-size="28" text-anchor="end" fill="#000">0.60</text>
<text x="1327" y="1270.69" font-size="28" text-anchor="end" fill="#000">0.65</text>
<text x="1327" y="1155.35" font-size="28" text-anchor="end" fill="#000">0.70</text>
<text x="1327" y="1040.01" font-size="28" text-anchor="end" fill="#000">0.75</text>
<text x="1327" y="924.67" font-size="28" text-anchor="end" fill="#000">0.80</text>
<text x="1327" y="809.33" font-size="28" text-anchor="end" fill="#000">0.85</text>
<text x="1744.7" y="1444.8" font-size="28" text-anchor="middle">Line Depth, (I<tspan font-size="17.36" dy="6.16">w</tspan><tspan dy="-6.16"> −I</tspan><tspan font-size="17.36" dy="6.16">λo</tspan><tspan dy="-6.16">)/I</tspan><tspan font-size="17.36" dy="6.16">w</tspan></text>
<text transform="translate(1251.8 1062.75) rotate(-90)" font-size="28" text-anchor="middle">pEW (Å)</text>
<text x="1353.4" y="798.9" font-size="27.2" text-anchor="start" fill="#fff">0.63</text>
<path d="M1342.3 2139.1L1342.3 2141.1M1358.65 2139.1L1358.65 2141.1M1375.01 2139.1L1375.01 2141.1M1391.36 2139.1L1391.36 2141.1M1407.72 2139.1L1407.72 2141.1M1424.07 2139.1L1424.07 2142.9M1440.42 2139.1L1440.42 2141.1M1456.78 2139.1L1456.78 2141.1M1473.13 2139.1L1473.13 2141.1M1489.49 2139.1L1489.49 2141.1M1505.84 2139.1L1505.84 2141.1M1522.19 2139.1L1522.19 2141.1M1538.55 2139.1L1538.55 2141.1M1554.9 2139.1L1554.9 2141.1M1571.26 2139.1L1571.26 2141.1M1587.61 2139.1L1587.61 2142.9M1603.96 2139.1L1603.96 2141.1M1620.32 2139.1L1620.32 2141.1M1636.67 2139.1L1636.67 2141.1M1653.03 2139.1L1653.03 2141.1M1669.38 2139.1L1669.38 2141.1M1685.73 2139.1L1685.73 2141.1M1702.09 2139.1L1702.09 2141.1M1718.44 2139.1L1718.44 2141.1M1734.8 2139.1L1734.8 2141.1M1751.15 2139.1L1751.15 2142.9M1767.5 2139.1L1767.5 2141.1M1783.86 2139.1L1783.86 2141.1M1800.21 2139.1L1800.21 2141.1M1816.57 2139.1L1816.57 2141.1M1832.92 2139.1L1832.92 2141.1M1849.27 2139.1L1849.27 2141.1M1865.63 2139.1L1865.63 2141.1M1881.98 2139.1L1881.98 2141.1M1898.34 2139.1L1898.34 2141.1M1914.69 2139.1L1914.69 2142.9M1931.04 2139.1L1931.04 2141.1M1947.4 2139.1L1947.4 2141.1M1963.75 2139.1L1963.75 2141.1M1980.11 2139.1L1980.11 2141.1M1996.46 2139.1L1996.46 2141.1M2012.81 2139.1L2012.81 2141.1M2029.17 2139.1L2029.17 2141.1M2045.52 2139.1L2045.52 2141.1M2061.88 2139.1L2061.88 2141.1M2078.23 2139.1L2078.23 2142.9M2094.58 2139.1L2094.58 2141.1M2110.94 2139.1L2110.94 2141.1M2127.29 2139.1L2127.29 2141.1M2143.65 2139.1L2143.65 2141.1M2160 2139.1L2160 2141.1M1342.3 1504.5L1342.3 1508.3M1355.93 1506.3L1355.93 1508.3M1369.56 1506.3L1369.56 1508.3M1383.18 1506.3L1383.18 1508.3M1396.81 1506.3L1396.81 1508.3M1410.44 1506.3L1410.44 1508.3M1424.07 1506.3L1424.07 1508.3M1437.7 1506.3L1437.7 1508.3M1451.33 1506.3L1451.33 1508.3M1464.95 1506.3L1464.95 1508.3M1478.58 1504.5L1478.58 1508.3M1492.21 1506.3L1492.21 1508.3M1505.84 1506.3L1505.84 1508.3M1519.47 1506.3L1519.47 1508.3M1533.1 1506.3L1533.1 1508.3M1546.72 1506.3L1546.72 1508.3M1560.35 1506.3L1560.35 1508.3M1573.98 1506.3L1573.98 1508.3M1587.61 1506.3L1587.61 1508.3M1601.24 1506.3L1601.24 1508.3M1614.87 1504.5L1614.87 1508.3M1628.49 1506.3L1628.49 1508.3M1642.12 1506.3L1642.12 1508.3M1655.75 1506.3L1655.75 1508.3M1669.38 1506.3L1669.38 1508.3M1683.01 1506.3L1683.01 1508.3M1696.64 1506.3L1696.64 1508.3M1710.26 1506.3L1710.26 1508.3M1723.89 1506.3L1723.89 1508.3M1737.52 1506.3L1737.52 1508.3M1751.15 1504.5L1751.15 1508.3M1764.78 1506.3L1764.78 1508.3M1778.41 1506.3L1778.41 1508.3M1792.03 1506.3L1792.03 1508.3M1805.66 1506.3L1805.66 1508.3M1819.29 1506.3L1819.29 1508.3M1832.92 1506.3L1832.92 1508.3M1846.55 1506.3L1846.55 1508.3M1860.18 1506.3L1860.18 1508.3M1873.8 1506.3L1873.8 1508.3M1887.43 1504.5L1887.43 1508.3M1901.06 1506.3L1901.06 1508.3M1914.69 1506.3L1914.69 1508.3M1928.32 1506.3L1928.32 1508.3M1941.95 1506.3L1941.95 1508.3M1955.57 1506.3L1955.57 1508.3M1969.2 1506.3L1969.2 1508.3M1982.83 1506.3L1982.83 1508.3M1996.46 1506.3L1996.46 1508.3M2010.09 1506.3L2010.09 1508.3M2023.72 1504.5L2023.72 1508.3M2037.35 1506.3L2037.35 1508.3M2050.97 1506.3L2050.97 1508.3M2064.6 1506.3L2064.6 1508.3M2078.23 1506.3L2078.23 1508.3M2091.86 1506.3L2091.86 1508.3M2105.49 1506.3L2105.49 1508.3M2119.11 1506.3L2119.11 1508.3M2132.74 1506.3L2132.74 1508.3M2146.37 1506.3L2146.37 1508.3M2160 1504.5L2160 1508.3M1338.5 2139.1L1342.3 2139.1M2160 2139.1L2163.8 2139.1M1340.3 2121.08L1342.3 2121.08M2160 2121.08L2162 2121.08M1340.3 2103.05L1342.3 2103.05M2160 2103.05L2162 2103.05M1340.3 2085.03L1342.3 2085.03M2160 2085.03L2162 2085.03M1340.3 2067.01L1342.3 2067.01M2160 2067.01L2162 2067.01M1338.5 2048.99L1342.3 2048.99M2160 2048.99L2163.8 2048.99M1340.3 2030.96L1342.3 2030.96M2160 2030.96L2162 2030.96M1340.3 2012.94L1342.3 2012.94M2160 2012.94L2162 2012.94M1340.3 1994.92L1342.3 1994.92M2160 1994.92L2162 1994.92M1340.3 1976.89L1342.3 1976.89M2160 1976.89L2162 1976.89M1338.5 1958.87L1342.3 1958.87M2160 1958.87L2163.8 1958.87M1340.3 1940.85L1342.3 1940.85M2160 1940.85L2162 1940.85M1340.3 1922.83L1342.3 1922.83M2160 1922.83L2162 1922.83M1340.3 1904.8L1342.3 1904.8M2160 1904.8L2162 1904.8M1340.3 1886.78L1342.3 1886.78M2160 1886.78L2162 1886.78M1338.5 1868.76L1342.3 1868.76M2160 1868.76L2163.8 1868.76M1340.3 1850.73L1342.3 1850.73M2160 1850.73L2162 1850.73M1340.3 1832.71L1342.3 1832.71M2160 1832.71L2162 1832.71M1340.3 1814.69L1342.3 1814.69M2160 1814.69L2162 1814.69M1340.3 1796.67L1342.3 1796.67M2160 1796.67L2162 1796.67M1338.5 1778.64L1342.3 1778.64M2160 1778.64L2163.8 1778.64M1340.3 1760.62L1342.3 1760.62M2160 1760.62L2162 1760.62M1340.3 1742.6L1342.3 1742.6M2160 1742.6L2162 1742.6M1340.3 1724.57L1342.3 1724.57M2160 1724.57L2162 1724.57M1340.3 1706.55L1342.3 1706.55M2160 1706.55L2162 1706.55M1338.5 1688.53L1342.3 1688.53M2160 1688.53L2163.8 1688.53M1340.3 1670.51L1342.3 1670.51M2160 1670.51L2162 1670.51M1340.3 1652.48L1342.3 1652.48M2160 1652.48L2162 1652.48M1340.3 1634.46L1342.3 1634.46M2160 1634.46L2162 1634.46M1340.3 1616.44L1342.3 1616.44M2160 1616.44L2162 1616.44M1338.5 1598.41L1342.3 1598.41M2160 1598.41L2163.8 1598.41M1340.3 1580.39L1342.3 1580.39M2160 1580.39L2162 1580.39M1340.3 1562.37L1342.3 1562.37M2160 1562.37L2162 1562.37M1340.3 1544.35L1342.3 1544.35M2160 1544.35L2162 1544.35M1340.3 1526.32L1342.3 1526.32M2160 1526.32L2162 1526.32M1338.5 1508.3L1342.3 1508.3M2160 1508.3L2163.8 1508.3" stroke="#000" stroke-width="1.2" fill="none"/><rect x="1342.3" y="1508.3" width="817.7" height="630.8" fill="none" stroke="#000" stroke-width="1"/>
<text x="1424.07" y="2176.7" font-size="28" text-anchor="middle" fill="#000">0.7</text>
<text x="1587.61" y="2176.7" font-size="28" text-anchor="middle" fill="#000">0.8</text>
<text x="1751.15" y="2176.7" font-size="28" text-anchor="middle" fill="#000">0.9</text>
<text x="1914.69" y="2176.7" font-size="28" text-anchor="middle" fill="#000">1.0</text>
<text x="2078.23" y="2176.7" font-size="28" text-anchor="middle" fill="#000">1.1</text>
<text x="1331.6" y="2139.4" font-size="28" text-anchor="end" fill="#000">0.55</text>
<text x="1331.6" y="2058.31" font-size="28" text-anchor="end" fill="#000">0.60</text>
<text x="1331.6" y="1968.2" font-size="28" text-anchor="end" fill="#000">0.65</text>
<text x="1331.6" y="1878.08" font-size="28" text-anchor="end" fill="#000">0.70</text>
<text x="1331.6" y="1787.97" font-size="28" text-anchor="end" fill="#000">0.75</text>
<text x="1331.6" y="1697.85" font-size="28" text-anchor="end" fill="#000">0.80</text>
<text x="1331.6" y="1607.74" font-size="28" text-anchor="end" fill="#000">0.85</text>
<text x="1331.6" y="1525.3" font-size="28" text-anchor="end" fill="#000">0.90</text>
<text x="1751.5" y="2207" font-size="28" text-anchor="middle">Line width (Å)</text>
<text transform="translate(1255.1 1823.7) rotate(-90)" font-size="28" text-anchor="middle">pEW (Å)</text>
<text x="1365.7" y="1559.8" font-size="27.2" text-anchor="start" fill="#fff">0.85</text>
</svg>
</body></html>
